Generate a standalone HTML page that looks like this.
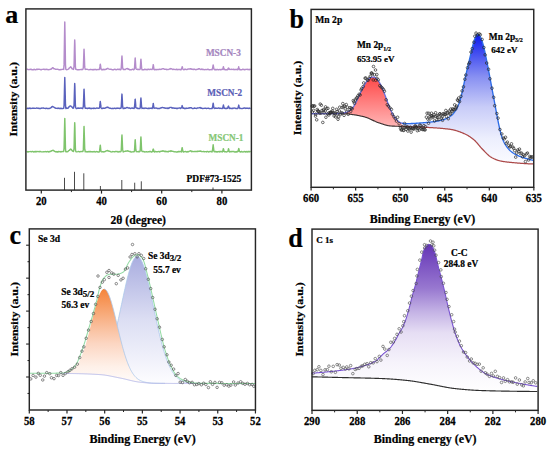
<!DOCTYPE html>
<html><head><meta charset="utf-8"><style>
html,body{margin:0;padding:0;background:#fff;width:550px;height:451px;overflow:hidden}
svg{display:block}
</style></head><body>
<svg width="550" height="451" viewBox="0 0 550 451">
<rect width="550" height="451" fill="#fff"/>
<defs><linearGradient id="gr" x1="0" y1="77" x2="0" y2="126" gradientUnits="userSpaceOnUse"><stop offset="0" stop-color="#ff4848"/><stop offset="1" stop-color="#ffb4b4"/></linearGradient><linearGradient id="gbl" x1="0" y1="34" x2="0" y2="164" gradientUnits="userSpaceOnUse"><stop offset="0" stop-color="#0a18ee"/><stop offset="0.33" stop-color="#8890f2"/><stop offset="0.56" stop-color="#c8ccf8"/><stop offset="0.8" stop-color="#eceefd"/><stop offset="1" stop-color="#fbfbff"/></linearGradient><linearGradient id="gor" x1="0" y1="289" x2="0" y2="380" gradientUnits="userSpaceOnUse"><stop offset="0" stop-color="#f5843a"/><stop offset="0.4" stop-color="#f9bc98"/><stop offset="0.6" stop-color="#fcd6c2"/><stop offset="0.85" stop-color="#fef0e8"/><stop offset="1" stop-color="#fffaf7"/></linearGradient><linearGradient id="glav" x1="0" y1="255" x2="0" y2="384" gradientUnits="userSpaceOnUse"><stop offset="0" stop-color="#a8acdf"/><stop offset="0.5" stop-color="#dcdef3"/><stop offset="1" stop-color="#fdfdff"/></linearGradient><linearGradient id="gpur" x1="0" y1="244" x2="0" y2="392" gradientUnits="userSpaceOnUse"><stop offset="0" stop-color="#6434b6"/><stop offset="0.3" stop-color="#9878d0"/><stop offset="0.45" stop-color="#c2b0e4"/><stop offset="0.6" stop-color="#e6def4"/><stop offset="0.8" stop-color="#f6f3fb"/><stop offset="1" stop-color="#ffffff"/></linearGradient></defs>
<path d="M26.60 69.28 L27.30 69.16 L28.00 69.47 L28.70 69.66 L29.40 69.44 L30.10 69.49 L30.80 69.16 L31.50 69.49 L32.20 69.81 L32.90 69.75 L33.60 69.66 L34.30 69.23 L35.00 69.78 L35.70 69.75 L36.40 69.27 L37.10 69.59 L37.80 69.16 L38.50 69.23 L39.20 69.37 L39.90 69.26 L40.60 69.68 L41.30 69.72 L42.00 69.39 L42.70 69.37 L43.40 69.23 L44.10 69.21 L44.80 69.65 L45.50 69.57 L46.20 69.19 L46.90 69.49 L47.60 69.43 L48.30 69.74 L49.00 69.64 L49.70 69.51 L50.40 69.30 L51.10 69.18 L51.80 68.66 L52.50 67.82 L53.20 67.83 L53.90 68.71 L54.60 68.71 L55.30 69.24 L56.00 69.16 L56.70 69.37 L57.40 69.20 L58.10 69.35 L58.80 69.70 L59.50 69.78 L60.20 69.70 L60.90 69.54 L61.60 69.58 L62.30 69.40 L63.00 69.27 L63.58 69.39 L63.70 69.43 L64.08 64.13 L64.40 44.57 L64.43 42.51 L64.78 21.96 L65.10 40.19 L65.13 42.83 L65.48 64.87 L65.80 69.04 L65.98 69.34 L66.50 69.70 L67.20 69.63 L67.90 69.36 L68.60 68.97 L69.30 68.02 L70.00 67.43 L70.70 66.82 L71.40 67.71 L72.10 68.75 L72.80 68.97 L73.50 69.43 L73.51 69.26 L74.01 66.32 L74.20 60.19 L74.36 52.22 L74.71 39.88 L74.90 44.17 L75.06 52.55 L75.41 66.51 L75.60 68.65 L75.91 69.37 L76.30 69.27 L77.00 69.71 L77.70 69.73 L78.40 69.66 L79.10 69.76 L79.80 69.60 L80.50 69.64 L81.20 69.29 L81.90 69.69 L82.60 69.38 L82.84 69.43 L83.30 67.76 L83.34 67.45 L83.69 58.17 L84.00 49.52 L84.04 49.17 L84.39 57.72 L84.70 66.97 L84.74 67.20 L85.24 69.43 L85.40 69.21 L86.10 69.36 L86.80 69.21 L87.50 69.39 L88.20 69.65 L88.90 69.83 L89.60 69.59 L90.30 69.34 L91.00 69.61 L91.70 69.59 L92.40 69.73 L93.10 69.52 L93.80 69.79 L94.50 69.44 L95.20 69.35 L95.90 69.51 L96.60 69.80 L97.30 69.66 L98.00 69.50 L98.70 69.50 L99.10 69.60 L99.40 69.33 L99.60 68.94 L99.95 66.66 L100.10 65.19 L100.30 64.24 L100.65 66.15 L100.80 67.83 L101.00 68.84 L101.50 69.78 L102.20 69.37 L102.90 69.80 L103.60 69.31 L104.30 69.42 L105.00 69.71 L105.70 69.25 L106.40 69.16 L107.10 68.59 L107.80 68.34 L108.50 68.93 L109.20 69.14 L109.90 69.36 L110.60 69.21 L111.30 69.24 L112.00 69.80 L112.70 69.82 L113.40 69.83 L114.10 69.40 L114.80 69.18 L115.50 69.54 L116.20 69.67 L116.90 69.60 L117.60 69.19 L118.30 69.31 L119.00 69.64 L119.70 69.19 L120.40 69.74 L120.77 69.82 L121.10 68.90 L121.27 67.75 L121.62 62.09 L121.80 57.83 L121.97 55.97 L122.32 61.84 L122.50 66.11 L122.67 67.99 L123.17 69.17 L123.20 69.56 L123.90 69.35 L124.60 69.55 L125.30 69.58 L126.00 68.94 L126.70 68.66 L127.40 68.51 L128.10 69.24 L128.80 68.95 L129.50 69.72 L130.20 69.62 L130.90 69.78 L131.60 69.72 L132.30 69.28 L133.00 69.27 L133.70 69.82 L134.01 69.34 L134.40 69.16 L134.51 68.09 L134.86 62.96 L135.10 58.95 L135.21 58.02 L135.56 63.20 L135.80 67.46 L135.91 68.17 L136.41 69.34 L136.50 69.16 L137.20 69.45 L137.90 69.20 L138.60 69.55 L139.30 69.63 L139.73 69.53 L140.00 69.37 L140.23 68.46 L140.58 63.76 L140.70 61.23 L140.93 59.15 L141.28 63.34 L141.40 65.39 L141.63 68.18 L142.10 69.69 L142.13 69.30 L142.80 69.69 L143.50 69.78 L144.20 69.53 L144.90 69.25 L145.60 69.59 L146.30 69.42 L147.00 69.79 L147.70 69.31 L148.40 69.31 L149.10 69.49 L149.80 69.50 L150.50 69.28 L151.20 69.41 L151.90 69.62 L152.07 69.47 L152.57 68.72 L152.60 68.87 L152.92 66.89 L153.27 64.96 L153.30 64.68 L153.62 66.76 L153.97 69.33 L154.00 69.37 L154.47 69.80 L154.70 69.68 L155.40 69.45 L156.10 69.81 L156.80 69.36 L157.50 69.57 L158.20 69.56 L158.90 69.46 L159.60 69.32 L160.30 69.34 L161.00 69.47 L161.70 69.03 L162.40 68.83 L163.10 68.70 L163.80 68.76 L164.50 69.34 L165.20 69.36 L165.90 69.11 L166.60 69.65 L167.30 69.49 L168.00 69.64 L168.70 69.33 L169.40 68.99 L170.10 69.13 L170.80 68.57 L171.50 68.78 L172.20 69.16 L172.90 69.62 L173.60 69.19 L174.30 69.38 L175.00 69.52 L175.70 69.62 L176.40 69.22 L177.10 69.68 L177.80 69.54 L178.50 69.51 L179.20 69.42 L179.90 69.37 L180.60 69.77 L180.97 69.84 L181.30 69.18 L181.47 68.98 L181.82 67.90 L182.00 67.05 L182.17 66.73 L182.52 67.66 L182.70 68.48 L182.87 68.89 L183.37 69.41 L183.40 69.54 L184.10 69.76 L184.80 69.17 L185.50 69.21 L186.20 69.61 L186.90 69.61 L187.60 69.19 L188.30 69.07 L189.00 68.83 L189.70 69.07 L190.40 68.75 L191.10 68.84 L191.80 69.34 L192.50 69.12 L193.20 69.49 L193.90 69.21 L194.60 69.19 L195.30 69.62 L196.00 69.69 L196.70 69.42 L197.40 69.27 L198.10 69.28 L198.80 68.66 L199.50 68.75 L200.20 69.32 L200.90 69.56 L201.60 69.08 L202.30 69.12 L203.00 69.68 L203.70 69.47 L204.40 69.68 L205.10 69.60 L205.80 69.46 L206.50 69.65 L207.20 69.57 L207.90 69.16 L208.60 69.48 L209.30 69.77 L210.00 69.70 L210.70 69.61 L211.40 69.59 L211.97 69.72 L212.10 69.33 L212.47 68.95 L212.80 67.20 L212.82 67.17 L213.17 64.87 L213.50 66.53 L213.52 66.77 L213.87 68.98 L214.20 69.18 L214.37 69.58 L214.90 69.78 L215.60 69.39 L216.30 69.82 L217.00 69.44 L217.70 69.53 L218.40 69.83 L219.10 69.65 L219.80 69.50 L220.50 69.68 L221.20 69.48 L221.90 69.66 L222.20 69.30 L222.60 69.08 L222.70 69.31 L223.05 68.11 L223.30 67.10 L223.40 66.73 L223.75 68.36 L224.00 68.74 L224.10 69.56 L224.60 69.37 L224.70 69.35 L225.40 69.81 L226.10 69.82 L226.80 69.64 L227.32 69.82 L227.50 69.26 L227.82 69.59 L228.17 68.73 L228.20 68.43 L228.52 68.07 L228.87 68.37 L228.90 68.93 L229.22 69.44 L229.60 69.22 L229.72 69.30 L230.30 69.35 L231.00 69.48 L231.70 69.31 L232.40 69.36 L233.10 69.54 L233.80 69.25 L234.50 69.68 L235.20 69.47 L235.90 69.43 L236.60 69.55 L237.30 69.26 L237.56 69.77 L238.00 69.05 L238.06 69.26 L238.41 68.38 L238.70 66.78 L238.76 67.14 L239.11 68.43 L239.40 69.47 L239.46 69.14 L239.96 69.58 L240.10 69.81 L240.80 69.59 L241.50 69.76 L242.20 69.64 L242.90 69.18 L243.60 69.39 L244.30 69.78 L245.00 69.48 L245.70 69.45 L246.40 69.36 L247.10 69.26 L247.80 69.62 L248.50 69.43 L249.20 69.77 L249.90 69.18 L250.60 69.76" fill="none" stroke="#b48ccb" stroke-width="1.45" stroke-linejoin="round"/>
<path d="M26.60 108.01 L27.30 108.53 L28.00 108.27 L28.70 108.47 L29.40 108.27 L30.10 108.06 L30.80 108.61 L31.50 108.40 L32.20 108.10 L32.90 108.37 L33.60 108.10 L34.30 108.23 L35.00 108.37 L35.70 108.38 L36.40 108.03 L37.10 108.08 L37.80 108.27 L38.50 108.31 L39.20 108.55 L39.90 108.35 L40.60 108.52 L41.30 108.21 L42.00 108.08 L42.70 108.15 L43.40 107.97 L44.10 108.20 L44.80 108.39 L45.50 108.54 L46.20 108.11 L46.90 108.44 L47.60 108.48 L48.30 108.43 L49.00 108.61 L49.70 108.29 L50.40 108.02 L51.10 107.70 L51.80 106.77 L52.50 106.39 L53.20 106.81 L53.90 107.21 L54.60 107.56 L55.30 108.03 L56.00 108.36 L56.70 108.31 L57.40 108.23 L58.10 108.49 L58.80 107.99 L59.50 108.57 L60.20 108.43 L60.90 108.24 L61.60 108.43 L62.30 108.61 L63.00 108.41 L63.58 108.38 L63.70 108.29 L64.08 105.33 L64.40 92.75 L64.43 90.65 L64.78 77.47 L65.10 89.20 L65.13 90.94 L65.48 104.95 L65.80 108.02 L65.98 108.56 L66.50 108.07 L67.20 108.16 L67.90 108.28 L68.60 107.30 L69.30 106.62 L70.00 105.95 L70.70 105.93 L71.40 106.59 L72.10 107.06 L72.80 108.20 L73.50 108.11 L73.51 107.90 L74.01 105.46 L74.20 100.85 L74.36 94.59 L74.71 83.49 L74.90 87.31 L75.06 94.50 L75.41 105.93 L75.60 107.44 L75.91 107.96 L76.30 108.41 L77.00 108.51 L77.70 107.98 L78.40 108.32 L79.10 108.05 L79.80 108.37 L80.50 108.03 L81.20 108.04 L81.90 108.33 L82.60 108.61 L82.84 107.95 L83.30 106.50 L83.34 106.11 L83.69 97.76 L84.00 89.27 L84.04 89.14 L84.39 97.35 L84.70 105.95 L84.74 106.12 L85.24 108.25 L85.40 108.28 L86.10 108.30 L86.80 108.26 L87.50 108.51 L88.20 108.09 L88.90 108.30 L89.60 108.04 L90.30 108.56 L91.00 108.25 L91.70 108.65 L92.40 108.41 L93.10 108.09 L93.80 108.60 L94.50 108.16 L95.20 108.40 L95.90 108.49 L96.60 108.02 L97.30 108.08 L98.00 108.25 L98.70 108.20 L99.10 108.16 L99.40 107.97 L99.60 107.47 L99.95 104.71 L100.10 102.57 L100.30 101.47 L100.65 104.30 L100.80 105.96 L101.00 107.43 L101.50 108.56 L102.20 108.57 L102.90 108.07 L103.60 108.22 L104.30 108.33 L105.00 108.23 L105.70 107.77 L106.40 107.35 L107.10 107.57 L107.80 107.07 L108.50 107.51 L109.20 108.11 L109.90 108.29 L110.60 108.20 L111.30 108.50 L112.00 108.64 L112.70 108.29 L113.40 108.57 L114.10 108.31 L114.80 108.22 L115.50 108.64 L116.20 108.49 L116.90 108.04 L117.60 108.33 L118.30 108.22 L119.00 108.30 L119.70 108.48 L120.40 108.19 L120.77 108.35 L121.10 107.67 L121.27 106.75 L121.62 100.49 L121.80 96.08 L121.97 94.10 L122.32 100.16 L122.50 104.53 L122.67 106.81 L123.17 108.62 L123.20 108.14 L123.90 108.57 L124.60 108.03 L125.30 108.28 L126.00 108.09 L126.70 107.42 L127.40 107.58 L128.10 107.96 L128.80 107.99 L129.50 107.93 L130.20 108.46 L130.90 108.29 L131.60 108.08 L132.30 107.99 L133.00 108.31 L133.70 108.15 L134.01 108.51 L134.40 107.61 L134.51 106.99 L134.86 103.32 L135.10 99.46 L135.21 99.25 L135.56 103.02 L135.80 106.67 L135.91 107.61 L136.41 108.00 L136.50 108.14 L137.20 108.08 L137.90 108.62 L138.60 108.44 L139.30 108.60 L139.73 108.63 L140.00 108.31 L140.23 107.46 L140.58 102.64 L140.70 100.16 L140.93 98.02 L141.28 102.63 L141.40 104.46 L141.63 106.99 L142.10 108.40 L142.13 107.97 L142.80 108.17 L143.50 108.21 L144.20 108.51 L144.90 107.97 L145.60 108.18 L146.30 108.16 L147.00 108.41 L147.70 108.56 L148.40 108.29 L149.10 108.54 L149.80 108.25 L150.50 108.30 L151.20 108.17 L151.90 108.09 L152.07 108.57 L152.57 107.90 L152.60 107.57 L152.92 105.78 L153.27 103.73 L153.30 103.49 L153.62 105.86 L153.97 108.08 L154.00 107.98 L154.47 108.05 L154.70 108.24 L155.40 108.09 L156.10 108.07 L156.80 108.16 L157.50 108.58 L158.20 108.54 L158.90 108.50 L159.60 108.59 L160.30 107.99 L161.00 107.97 L161.70 107.66 L162.40 107.39 L163.10 107.70 L163.80 107.62 L164.50 107.95 L165.20 108.38 L165.90 108.09 L166.60 108.11 L167.30 108.51 L168.00 107.91 L168.70 108.43 L169.40 107.81 L170.10 107.36 L170.80 107.40 L171.50 107.44 L172.20 108.21 L172.90 107.85 L173.60 107.95 L174.30 108.37 L175.00 108.10 L175.70 108.18 L176.40 108.50 L177.10 108.25 L177.80 108.46 L178.50 108.15 L179.20 108.04 L179.90 108.00 L180.60 108.54 L180.97 108.03 L181.30 107.92 L181.47 107.77 L181.82 106.77 L182.00 106.06 L182.17 105.60 L182.52 106.86 L182.70 107.56 L182.87 108.19 L183.37 108.37 L183.40 108.07 L184.10 108.19 L184.80 108.65 L185.50 108.26 L186.20 108.42 L186.90 108.06 L187.60 108.37 L188.30 108.29 L189.00 107.73 L189.70 108.08 L190.40 107.63 L191.10 107.71 L191.80 108.15 L192.50 108.48 L193.20 108.50 L193.90 108.34 L194.60 107.99 L195.30 108.29 L196.00 108.37 L196.70 108.48 L197.40 107.93 L198.10 107.92 L198.80 107.85 L199.50 107.84 L200.20 107.52 L200.90 108.31 L201.60 107.93 L202.30 108.52 L203.00 108.55 L203.70 108.38 L204.40 108.33 L205.10 108.19 L205.80 108.22 L206.50 108.60 L207.20 108.41 L207.90 108.28 L208.60 108.20 L209.30 108.65 L210.00 108.61 L210.70 108.60 L211.40 108.60 L211.97 108.19 L212.10 108.51 L212.47 107.87 L212.80 105.72 L212.82 105.40 L213.17 103.13 L213.50 105.22 L213.52 105.27 L213.87 107.86 L214.20 107.96 L214.37 108.21 L214.90 108.51 L215.60 108.02 L216.30 108.18 L217.00 108.39 L217.70 108.27 L218.40 108.00 L219.10 108.07 L219.80 108.42 L220.50 108.33 L221.20 108.36 L221.90 108.58 L222.20 108.60 L222.60 108.00 L222.70 108.26 L223.05 106.63 L223.30 105.55 L223.40 105.02 L223.75 106.49 L224.00 108.02 L224.10 108.28 L224.60 108.24 L224.70 108.12 L225.40 108.62 L226.10 108.30 L226.80 108.61 L227.32 107.97 L227.50 108.35 L227.82 107.89 L228.17 106.54 L228.20 106.74 L228.52 106.11 L228.87 106.84 L228.90 106.80 L229.22 108.17 L229.60 108.55 L229.72 108.48 L230.30 108.13 L231.00 108.49 L231.70 108.49 L232.40 108.27 L233.10 108.48 L233.80 107.98 L234.50 108.09 L235.20 108.22 L235.90 108.60 L236.60 108.44 L237.30 108.42 L237.56 108.52 L238.00 108.24 L238.06 107.67 L238.41 106.84 L238.70 105.53 L238.76 105.10 L239.11 106.68 L239.40 107.82 L239.46 107.66 L239.96 108.51 L240.10 108.19 L240.80 108.39 L241.50 108.52 L242.20 108.60 L242.90 108.32 L243.60 108.26 L244.30 107.96 L245.00 108.03 L245.70 108.46 L246.40 108.08 L247.10 108.32 L247.80 108.07 L248.50 108.51 L249.20 108.10 L249.90 108.49 L250.60 108.26" fill="none" stroke="#5a62bd" stroke-width="1.45" stroke-linejoin="round"/>
<path d="M26.60 151.87 L27.30 151.60 L28.00 152.03 L28.70 151.70 L29.40 151.63 L30.10 151.64 L30.80 151.56 L31.50 151.82 L32.20 151.47 L32.90 151.46 L33.60 152.02 L34.30 151.50 L35.00 151.92 L35.70 151.41 L36.40 151.77 L37.10 151.42 L37.80 151.60 L38.50 151.58 L39.20 151.78 L39.90 151.35 L40.60 151.54 L41.30 151.88 L42.00 151.88 L42.70 151.90 L43.40 151.75 L44.10 151.88 L44.80 151.65 L45.50 151.57 L46.20 151.92 L46.90 151.63 L47.60 151.44 L48.30 152.02 L49.00 151.43 L49.70 151.82 L50.40 151.26 L51.10 151.32 L51.80 150.61 L52.50 150.44 L53.20 150.29 L53.90 150.94 L54.60 151.22 L55.30 151.81 L56.00 151.60 L56.70 151.99 L57.40 151.80 L58.10 151.99 L58.80 151.38 L59.50 151.61 L60.20 151.98 L60.90 151.54 L61.60 151.73 L62.30 151.64 L63.00 151.36 L63.58 151.33 L63.70 151.53 L64.08 148.10 L64.40 134.90 L64.43 132.71 L64.78 118.56 L65.10 131.00 L65.13 133.01 L65.48 148.61 L65.80 151.71 L65.98 151.68 L66.50 151.70 L67.20 151.73 L67.90 151.62 L68.60 150.64 L69.30 150.43 L70.00 149.58 L70.70 149.11 L71.40 149.63 L72.10 150.66 L72.80 151.29 L73.50 151.42 L73.51 151.29 L74.01 148.79 L74.20 143.24 L74.36 135.38 L74.71 122.65 L74.90 127.12 L75.06 134.96 L75.41 148.94 L75.60 150.76 L75.91 151.56 L76.30 151.80 L77.00 151.87 L77.70 151.67 L78.40 151.45 L79.10 151.64 L79.80 151.92 L80.50 151.55 L81.20 151.64 L81.90 151.54 L82.60 151.61 L82.84 151.55 L83.30 149.68 L83.34 149.32 L83.69 137.71 L84.00 126.57 L84.04 126.42 L84.39 137.20 L84.70 148.39 L84.74 149.18 L85.24 151.83 L85.40 151.50 L86.10 151.51 L86.80 152.04 L87.50 151.76 L88.20 151.88 L88.90 151.49 L89.60 151.78 L90.30 151.56 L91.00 151.69 L91.70 151.66 L92.40 151.95 L93.10 151.60 L93.80 151.87 L94.50 151.57 L95.20 151.77 L95.90 151.95 L96.60 151.51 L97.30 151.64 L98.00 152.03 L98.70 151.93 L99.10 151.96 L99.40 151.61 L99.60 150.93 L99.95 147.81 L100.10 146.67 L100.30 145.13 L100.65 148.46 L100.80 150.04 L101.00 151.37 L101.50 151.89 L102.20 151.81 L102.90 151.62 L103.60 151.93 L104.30 151.73 L105.00 151.60 L105.70 151.13 L106.40 150.79 L107.10 150.88 L107.80 150.47 L108.50 151.13 L109.20 151.28 L109.90 151.30 L110.60 151.71 L111.30 151.90 L112.00 152.04 L112.70 151.52 L113.40 151.62 L114.10 151.69 L114.80 151.69 L115.50 151.52 L116.20 151.58 L116.90 151.41 L117.60 151.75 L118.30 152.05 L119.00 151.44 L119.70 151.85 L120.40 151.72 L120.77 151.56 L121.10 151.06 L121.27 150.26 L121.62 141.85 L121.80 137.09 L121.97 135.03 L122.32 142.56 L122.50 146.94 L122.67 149.63 L123.17 151.94 L123.20 151.56 L123.90 151.62 L124.60 151.35 L125.30 151.28 L126.00 151.04 L126.70 151.16 L127.40 150.77 L128.10 150.99 L128.80 151.38 L129.50 151.54 L130.20 151.36 L130.90 152.04 L131.60 151.94 L132.30 151.89 L133.00 151.84 L133.70 151.63 L134.01 151.80 L134.40 151.35 L134.51 150.59 L134.86 145.12 L135.10 140.47 L135.21 139.76 L135.56 145.05 L135.80 149.43 L135.91 150.29 L136.41 151.69 L136.50 151.41 L137.20 151.64 L137.90 151.80 L138.60 151.50 L139.30 151.75 L139.73 151.56 L140.00 151.24 L140.23 150.05 L140.58 143.36 L140.70 140.09 L140.93 136.86 L141.28 143.43 L141.40 146.41 L141.63 150.19 L142.10 151.40 L142.13 151.34 L142.80 151.61 L143.50 151.43 L144.20 151.81 L144.90 151.95 L145.60 151.87 L146.30 151.66 L147.00 151.94 L147.70 151.85 L148.40 151.71 L149.10 151.77 L149.80 151.48 L150.50 151.36 L151.20 151.99 L151.90 152.03 L152.07 151.70 L152.57 151.46 L152.60 151.55 L152.92 149.83 L153.27 149.05 L153.30 149.12 L153.62 149.91 L153.97 151.45 L154.00 151.67 L154.47 152.01 L154.70 151.64 L155.40 151.46 L156.10 151.86 L156.80 151.78 L157.50 151.69 L158.20 151.62 L158.90 151.37 L159.60 151.99 L160.30 151.58 L161.00 151.25 L161.70 151.10 L162.40 151.20 L163.10 150.68 L163.80 151.27 L164.50 151.48 L165.20 151.18 L165.90 151.74 L166.60 151.55 L167.30 151.54 L168.00 151.90 L168.70 151.23 L169.40 151.26 L170.10 151.41 L170.80 150.71 L171.50 151.21 L172.20 151.20 L172.90 151.37 L173.60 151.55 L174.30 151.84 L175.00 151.64 L175.70 151.85 L176.40 151.99 L177.10 151.99 L177.80 151.73 L178.50 151.53 L179.20 151.79 L179.90 151.41 L180.60 151.59 L180.97 151.56 L181.30 151.89 L181.47 151.31 L181.82 149.33 L182.00 148.03 L182.17 147.72 L182.52 149.46 L182.70 150.86 L182.87 151.28 L183.37 152.03 L183.40 151.38 L184.10 151.78 L184.80 151.65 L185.50 151.56 L186.20 151.69 L186.90 152.04 L187.60 151.58 L188.30 151.86 L189.00 151.39 L189.70 151.09 L190.40 150.80 L191.10 150.93 L191.80 151.68 L192.50 151.33 L193.20 151.52 L193.90 151.60 L194.60 151.40 L195.30 151.49 L196.00 151.49 L196.70 151.59 L197.40 151.28 L198.10 151.42 L198.80 151.13 L199.50 151.24 L200.20 151.03 L200.90 151.27 L201.60 151.57 L202.30 151.60 L203.00 151.57 L203.70 151.45 L204.40 151.70 L205.10 151.61 L205.80 151.62 L206.50 151.91 L207.20 151.39 L207.90 151.48 L208.60 152.02 L209.30 151.59 L210.00 151.39 L210.70 151.51 L211.40 151.40 L211.97 152.02 L212.10 151.53 L212.47 150.73 L212.80 147.70 L212.82 147.95 L213.17 144.74 L213.50 147.72 L213.52 147.62 L213.87 150.90 L214.20 151.66 L214.37 151.78 L214.90 151.71 L215.60 151.53 L216.30 151.74 L217.00 152.01 L217.70 151.74 L218.40 151.66 L219.10 151.40 L219.80 152.04 L220.50 151.36 L221.20 151.35 L221.90 151.58 L222.20 151.99 L222.60 151.44 L222.70 151.68 L223.05 150.28 L223.30 148.74 L223.40 148.74 L223.75 149.88 L224.00 151.37 L224.10 151.51 L224.60 151.83 L224.70 151.78 L225.40 151.79 L226.10 151.84 L226.80 151.96 L227.32 151.55 L227.50 151.44 L227.82 151.27 L228.17 150.20 L228.20 150.09 L228.52 148.64 L228.87 150.02 L228.90 150.35 L229.22 151.57 L229.60 151.88 L229.72 151.71 L230.30 151.81 L231.00 151.44 L231.70 151.72 L232.40 151.36 L233.10 151.67 L233.80 151.42 L234.50 151.97 L235.20 151.94 L235.90 151.77 L236.60 152.00 L237.30 151.44 L237.56 151.83 L238.00 151.39 L238.06 151.47 L238.41 149.87 L238.70 148.55 L238.76 148.51 L239.11 149.76 L239.40 151.47 L239.46 151.29 L239.96 151.85 L240.10 151.72 L240.80 151.95 L241.50 151.46 L242.20 151.88 L242.90 151.94 L243.60 151.85 L244.30 151.46 L245.00 151.80 L245.70 151.93 L246.40 151.47 L247.10 152.03 L247.80 151.57 L248.50 151.47 L249.20 151.80 L249.90 151.37 L250.60 151.77" fill="none" stroke="#7fc46c" stroke-width="1.45" stroke-linejoin="round"/>
<line x1="64.50" y1="177.80" x2="64.50" y2="190.10" stroke="#4a4a4a" stroke-width="1.00"/>
<line x1="74.50" y1="171.80" x2="74.50" y2="190.10" stroke="#4a4a4a" stroke-width="1.00"/>
<line x1="83.80" y1="173.30" x2="83.80" y2="190.10" stroke="#4a4a4a" stroke-width="1.00"/>
<line x1="100.40" y1="186.00" x2="100.40" y2="190.10" stroke="#4a4a4a" stroke-width="1.00"/>
<line x1="121.80" y1="180.00" x2="121.80" y2="190.10" stroke="#4a4a4a" stroke-width="1.00"/>
<line x1="134.70" y1="182.70" x2="134.70" y2="190.10" stroke="#4a4a4a" stroke-width="1.00"/>
<line x1="141.30" y1="181.30" x2="141.30" y2="190.10" stroke="#4a4a4a" stroke-width="1.00"/>
<line x1="213.00" y1="187.50" x2="213.00" y2="190.10" stroke="#4a4a4a" stroke-width="1.00"/>
<rect x="25.90" y="8.90" width="225.50" height="181.20" fill="none" stroke="#262626" stroke-width="1.45"/>
<line x1="41.30" y1="190.10" x2="41.30" y2="193.60" stroke="#262626" stroke-width="1.20"/>
<text transform="translate(41.30 204.80) scale(1.000 1.170)" text-anchor="middle" style="font-family:'Liberation Serif',serif;font-weight:bold;font-size:10.75px;fill:#000;stroke:#000;stroke-width:0.22px">20</text>
<line x1="101.50" y1="190.10" x2="101.50" y2="193.60" stroke="#262626" stroke-width="1.20"/>
<text transform="translate(101.50 204.80) scale(1.000 1.170)" text-anchor="middle" style="font-family:'Liberation Serif',serif;font-weight:bold;font-size:10.75px;fill:#000;stroke:#000;stroke-width:0.22px">40</text>
<line x1="161.70" y1="190.10" x2="161.70" y2="193.60" stroke="#262626" stroke-width="1.20"/>
<text transform="translate(161.70 204.80) scale(1.000 1.170)" text-anchor="middle" style="font-family:'Liberation Serif',serif;font-weight:bold;font-size:10.75px;fill:#000;stroke:#000;stroke-width:0.22px">60</text>
<line x1="221.90" y1="190.10" x2="221.90" y2="193.60" stroke="#262626" stroke-width="1.20"/>
<text transform="translate(221.90 204.80) scale(1.000 1.170)" text-anchor="middle" style="font-family:'Liberation Serif',serif;font-weight:bold;font-size:10.75px;fill:#000;stroke:#000;stroke-width:0.22px">80</text>
<line x1="71.40" y1="190.10" x2="71.40" y2="192.10" stroke="#262626" stroke-width="1.00"/>
<line x1="131.60" y1="190.10" x2="131.60" y2="192.10" stroke="#262626" stroke-width="1.00"/>
<line x1="191.80" y1="190.10" x2="191.80" y2="192.10" stroke="#262626" stroke-width="1.00"/>
<text transform="translate(5.30 23.30)" style="font-family:'Liberation Serif',serif;font-weight:bold;font-size:26.00px;fill:#000;stroke:#000;stroke-width:0.22px">a</text>
<text transform="translate(138.20 224.00) scale(1.000 1.080)" text-anchor="middle" style="font-family:'Liberation Serif',serif;font-weight:bold;font-size:11.70px;fill:#000;stroke:#000;stroke-width:0.22px">2θ (degree)</text>
<text transform="translate(17.30 99.30) rotate(-90) scale(1.083 1.000)" text-anchor="middle" style="font-family:'Liberation Serif',serif;font-weight:bold;font-size:11.00px;fill:#000;stroke:#000;stroke-width:0.22px">Intensity (a.u.)</text>
<text transform="translate(205.90 56.30) scale(1.000 1.050)" style="font-family:'Liberation Serif',serif;font-weight:bold;font-size:9.25px;fill:#a586c0;stroke:#a586c0;stroke-width:0.22px">MSCN-3</text>
<text transform="translate(207.30 96.30) scale(1.000 1.050)" style="font-family:'Liberation Serif',serif;font-weight:bold;font-size:9.25px;fill:#5b60b6;stroke:#5b60b6;stroke-width:0.22px">MSCN-2</text>
<text transform="translate(208.60 141.40) scale(1.000 1.050)" style="font-family:'Liberation Serif',serif;font-weight:bold;font-size:9.25px;fill:#86c776;stroke:#86c776;stroke-width:0.22px">MSCN-1</text>
<text transform="translate(186.50 182.40) scale(1.000 1.030)" style="font-family:'Liberation Serif',serif;font-weight:bold;font-size:9.50px;fill:#000;stroke:#000;stroke-width:0.22px">PDF#73-1525</text>
<path d="M338.00 113.50 L338.50 113.48 L339.00 113.46 L339.50 113.44 L340.00 113.41 L340.50 113.37 L341.00 113.32 L341.50 113.26 L342.00 113.20 L342.50 113.13 L343.00 113.04 L343.50 112.95 L344.00 112.84 L344.50 112.72 L345.00 112.58 L345.50 112.43 L346.00 112.27 L346.50 112.11 L347.00 111.93 L347.50 111.73 L348.00 111.51 L348.50 111.27 L349.00 111.01 L349.50 110.71 L350.00 110.37 L350.50 109.99 L351.00 109.57 L351.50 109.09 L352.00 108.56 L352.50 107.97 L353.00 107.32 L353.50 106.62 L354.00 105.86 L354.50 105.05 L355.00 104.20 L355.50 103.29 L356.00 102.35 L356.50 101.36 L357.00 100.35 L357.50 99.31 L358.00 98.25 L358.50 97.17 L359.00 96.08 L359.50 94.99 L360.00 93.90 L360.50 92.82 L361.00 91.75 L361.50 90.69 L362.00 89.66 L362.50 88.66 L363.00 87.68 L363.50 86.73 L364.00 85.82 L364.50 84.93 L365.00 84.08 L365.50 83.26 L366.00 82.48 L366.50 81.75 L367.00 81.07 L367.50 80.43 L368.00 79.84 L368.50 79.30 L369.00 78.82 L369.50 78.39 L370.00 78.02 L370.50 77.71 L371.00 77.45 L371.50 77.26 L372.00 77.12 L372.50 77.05 L373.00 77.04 L373.50 77.09 L374.00 77.21 L374.50 77.39 L375.00 77.64 L375.50 77.95 L376.00 78.34 L376.50 78.78 L377.00 79.29 L377.50 79.85 L378.00 80.47 L378.50 81.14 L379.00 81.86 L379.50 82.65 L380.00 83.50 L380.50 84.40 L381.00 85.37 L381.50 86.39 L382.00 87.48 L382.50 88.63 L383.00 89.83 L383.50 91.09 L384.00 92.40 L384.50 93.74 L385.00 95.12 L385.50 96.51 L386.00 97.91 L386.50 99.31 L387.00 100.69 L387.50 102.06 L388.00 103.41 L388.50 104.72 L389.00 106.00 L389.50 107.24 L390.00 108.44 L390.50 109.59 L391.00 110.69 L391.50 111.75 L392.00 112.76 L392.50 113.72 L393.00 114.62 L393.50 115.48 L394.00 116.29 L394.50 117.04 L395.00 117.74 L395.50 118.39 L396.00 119.00 L396.50 119.55 L397.00 120.07 L397.50 120.54 L398.00 120.97 L398.50 121.36 L399.00 121.72 L399.50 122.04 L400.00 122.33 L400.50 122.58 L401.00 122.81 L401.50 123.01 L402.00 123.18 L402.50 123.33 L402.50 126.46 L402.00 126.44 L401.50 126.42 L401.00 126.40 L400.50 126.38 L400.00 126.36 L399.50 126.35 L399.00 126.33 L398.50 126.32 L398.00 126.30 L397.50 126.28 L397.00 126.27 L396.50 126.25 L396.00 126.24 L395.50 126.22 L395.00 126.20 L394.50 126.18 L394.00 126.16 L393.50 126.14 L393.00 126.12 L392.50 126.09 L392.00 126.07 L391.50 126.04 L391.00 126.01 L390.50 125.97 L390.00 125.92 L389.50 125.86 L389.00 125.78 L388.50 125.70 L388.00 125.60 L387.50 125.50 L387.00 125.38 L386.50 125.26 L386.00 125.13 L385.50 124.99 L385.00 124.85 L384.50 124.70 L384.00 124.55 L383.50 124.39 L383.00 124.22 L382.50 124.06 L382.00 123.89 L381.50 123.72 L381.00 123.55 L380.50 123.38 L380.00 123.21 L379.50 123.04 L379.00 122.87 L378.50 122.70 L378.00 122.53 L377.50 122.36 L377.00 122.17 L376.50 121.97 L376.00 121.76 L375.50 121.55 L375.00 121.32 L374.50 121.09 L374.00 120.86 L373.50 120.62 L373.00 120.38 L372.50 120.13 L372.00 119.89 L371.50 119.64 L371.00 119.40 L370.50 119.17 L370.00 118.93 L369.50 118.70 L369.00 118.48 L368.50 118.27 L368.00 118.06 L367.50 117.86 L367.00 117.68 L366.50 117.50 L366.00 117.35 L365.50 117.20 L365.00 117.06 L364.50 116.93 L364.00 116.80 L363.50 116.67 L363.00 116.55 L362.50 116.43 L362.00 116.31 L361.50 116.19 L361.00 116.08 L360.50 115.97 L360.00 115.86 L359.50 115.76 L359.00 115.65 L358.50 115.55 L358.00 115.46 L357.50 115.36 L357.00 115.27 L356.50 115.18 L356.00 115.10 L355.50 115.02 L355.00 114.94 L354.50 114.86 L354.00 114.78 L353.50 114.71 L353.00 114.64 L352.50 114.57 L352.00 114.50 L351.50 114.44 L351.00 114.37 L350.50 114.30 L350.00 114.23 L349.50 114.16 L349.00 114.10 L348.50 114.04 L348.00 113.99 L347.50 113.94 L347.00 113.90 L346.50 113.86 L346.00 113.83 L345.50 113.81 L345.00 113.80 L344.50 113.79 L344.00 113.79 L343.50 113.78 L343.00 113.77 L342.50 113.77 L342.00 113.76 L341.50 113.76 L341.00 113.75 L340.50 113.74 L340.00 113.74 L339.50 113.73 L339.00 113.73 L338.50 113.72 L338.00 113.72Z" fill="url(#gr)"/>
<path d="M402.50 123.33 L403.00 123.44 L403.50 123.54 L404.00 123.61 L404.50 123.66 L405.00 123.70 L405.50 123.72 L406.00 123.73 L406.50 123.72 L407.00 123.71 L407.50 123.70 L408.00 123.68 L408.50 123.65 L409.00 123.63 L409.50 123.61 L410.00 123.58 L410.50 123.56 L411.00 123.53 L411.50 123.51 L412.00 123.48 L412.50 123.46 L413.00 123.43 L413.50 123.41 L414.00 123.38 L414.50 123.35 L415.00 123.33 L415.50 123.30 L416.00 123.27 L416.50 123.24 L417.00 123.21 L417.50 123.17 L418.00 123.14 L418.50 123.11 L419.00 123.07 L419.50 123.04 L420.00 123.00 L420.50 122.96 L421.00 122.93 L421.50 122.89 L422.00 122.85 L422.50 122.81 L423.00 122.77 L423.50 122.73 L424.00 122.69 L424.50 122.64 L425.00 122.60 L425.50 122.56 L426.00 122.51 L426.50 122.47 L427.00 122.42 L427.50 122.37 L428.00 122.32 L428.50 122.27 L429.00 122.22 L429.50 122.17 L430.00 122.11 L430.50 122.06 L431.00 122.00 L431.50 121.94 L432.00 121.88 L432.50 121.82 L433.00 121.76 L433.50 121.69 L434.00 121.62 L434.50 121.55 L435.00 121.48 L435.50 121.40 L436.00 121.33 L436.50 121.24 L437.00 121.16 L437.50 121.07 L438.00 120.98 L438.50 120.88 L439.00 120.77 L439.50 120.66 L440.00 120.55 L440.50 120.43 L441.00 120.31 L441.50 120.17 L442.00 120.04 L442.50 119.89 L443.00 119.74 L443.50 119.59 L444.00 119.42 L444.50 119.25 L445.00 119.07 L445.50 118.89 L446.00 118.69 L446.50 118.48 L447.00 118.26 L447.50 118.02 L448.00 117.77 L448.50 117.50 L449.00 117.21 L449.50 116.89 L450.00 116.55 L450.50 116.19 L451.00 115.80 L451.50 115.38 L452.00 114.93 L452.50 114.45 L453.00 113.93 L453.50 113.37 L454.00 112.77 L454.50 112.13 L455.00 111.43 L455.50 110.69 L456.00 109.89 L456.50 109.03 L457.00 108.11 L457.50 107.10 L458.00 106.01 L458.50 104.83 L459.00 103.53 L459.50 102.11 L460.00 100.55 L460.50 98.85 L461.00 97.01 L461.50 95.02 L462.00 92.91 L462.50 90.68 L463.00 88.37 L463.50 86.01 L464.00 83.62 L464.50 81.23 L465.00 78.87 L465.50 76.56 L466.00 74.31 L466.50 72.12 L467.00 69.98 L467.50 67.87 L468.00 65.78 L468.50 63.69 L469.00 61.59 L469.50 59.48 L470.00 57.34 L470.50 55.19 L471.00 53.04 L471.50 50.90 L472.00 48.79 L472.50 46.74 L473.00 44.77 L473.50 42.89 L474.00 41.14 L474.50 39.54 L475.00 38.13 L475.50 36.92 L476.00 35.92 L476.50 35.14 L477.00 34.58 L477.50 34.24 L478.00 34.14 L478.50 34.27 L479.00 34.62 L479.50 35.20 L480.00 35.97 L480.50 36.94 L481.00 38.08 L481.50 39.39 L482.00 40.85 L482.50 42.45 L483.00 44.19 L483.50 46.08 L484.00 48.10 L484.50 50.25 L485.00 52.51 L485.50 54.86 L486.00 57.29 L486.50 59.78 L487.00 62.32 L487.50 64.89 L488.00 67.49 L488.50 70.12 L489.00 72.75 L489.50 75.39 L490.00 78.04 L490.50 80.68 L491.00 83.33 L491.50 85.98 L492.00 88.64 L492.50 91.31 L493.00 94.01 L493.50 96.73 L494.00 99.45 L494.50 102.19 L495.00 104.92 L495.50 107.65 L496.00 110.36 L496.50 113.05 L497.00 115.71 L497.50 118.31 L498.00 120.86 L498.50 123.33 L499.00 125.71 L499.50 127.98 L500.00 130.12 L500.50 132.13 L501.00 134.00 L501.50 135.72 L502.00 137.30 L502.50 138.73 L503.00 140.04 L503.50 141.22 L504.00 142.29 L504.50 143.26 L505.00 144.15 L505.50 144.97 L506.00 145.73 L506.50 146.44 L507.00 147.10 L507.50 147.73 L508.00 148.33 L508.50 148.89 L509.00 149.43 L509.50 149.94 L510.00 150.43 L510.50 150.89 L511.00 151.33 L511.50 151.74 L512.00 152.13 L512.50 152.50 L513.00 152.86 L513.50 153.20 L514.00 153.52 L514.50 153.82 L515.00 154.12 L515.50 154.40 L516.00 154.67 L516.50 154.92 L517.00 155.17 L517.50 155.41 L518.00 155.64 L518.50 155.86 L519.00 156.07 L519.50 156.27 L520.00 156.47 L520.50 156.66 L521.00 156.85 L521.50 157.03 L522.00 157.20 L522.50 157.37 L523.00 157.54 L523.50 157.70 L524.00 157.85 L524.50 158.01 L525.00 158.16 L525.50 158.31 L526.00 158.46 L526.50 158.61 L527.00 158.75 L527.50 158.89 L528.00 159.03 L528.50 159.17 L529.00 159.31 L529.50 159.44 L530.00 159.57 L530.50 159.70 L531.00 159.83 L531.50 159.95 L532.00 160.06 L532.50 160.18 L533.00 160.28 L533.50 160.38 L533.50 164.00 L533.00 163.98 L532.50 163.97 L532.00 163.95 L531.50 163.93 L531.00 163.91 L530.50 163.89 L530.00 163.87 L529.50 163.85 L529.00 163.82 L528.50 163.80 L528.00 163.77 L527.50 163.74 L527.00 163.72 L526.50 163.69 L526.00 163.66 L525.50 163.62 L525.00 163.59 L524.50 163.56 L524.00 163.53 L523.50 163.49 L523.00 163.45 L522.50 163.42 L522.00 163.38 L521.50 163.34 L521.00 163.30 L520.50 163.26 L520.00 163.22 L519.50 163.18 L519.00 163.14 L518.50 163.10 L518.00 163.06 L517.50 163.02 L517.00 162.97 L516.50 162.93 L516.00 162.88 L515.50 162.84 L515.00 162.80 L514.50 162.75 L514.00 162.70 L513.50 162.66 L513.00 162.61 L512.50 162.57 L512.00 162.52 L511.50 162.47 L511.00 162.42 L510.50 162.38 L510.00 162.33 L509.50 162.28 L509.00 162.23 L508.50 162.17 L508.00 162.12 L507.50 162.06 L507.00 162.01 L506.50 161.95 L506.00 161.88 L505.50 161.82 L505.00 161.75 L504.50 161.68 L504.00 161.61 L503.50 161.53 L503.00 161.45 L502.50 161.37 L502.00 161.28 L501.50 161.19 L501.00 161.10 L500.50 161.00 L500.00 160.89 L499.50 160.77 L499.00 160.64 L498.50 160.50 L498.00 160.34 L497.50 160.17 L497.00 160.00 L496.50 159.81 L496.00 159.61 L495.50 159.41 L495.00 159.19 L494.50 158.96 L494.00 158.73 L493.50 158.49 L493.00 158.24 L492.50 157.98 L492.00 157.72 L491.50 157.44 L491.00 157.15 L490.50 156.82 L490.00 156.46 L489.50 156.08 L489.00 155.67 L488.50 155.24 L488.00 154.79 L487.50 154.33 L487.00 153.85 L486.50 153.36 L486.00 152.86 L485.50 152.35 L485.00 151.84 L484.50 151.33 L484.00 150.81 L483.50 150.30 L483.00 149.80 L482.50 149.30 L482.00 148.78 L481.50 148.24 L481.00 147.67 L480.50 147.10 L480.00 146.51 L479.50 145.91 L479.00 145.31 L478.50 144.70 L478.00 144.10 L477.50 143.51 L477.00 142.93 L476.50 142.36 L476.00 141.81 L475.50 141.29 L475.00 140.79 L474.50 140.32 L474.00 139.88 L473.50 139.47 L473.00 139.07 L472.50 138.68 L472.00 138.30 L471.50 137.92 L471.00 137.55 L470.50 137.19 L470.00 136.84 L469.50 136.51 L469.00 136.18 L468.50 135.86 L468.00 135.56 L467.50 135.27 L467.00 134.99 L466.50 134.72 L466.00 134.47 L465.50 134.23 L465.00 134.00 L464.50 133.78 L464.00 133.57 L463.50 133.36 L463.00 133.15 L462.50 132.94 L462.00 132.74 L461.50 132.54 L461.00 132.34 L460.50 132.15 L460.00 131.96 L459.50 131.78 L459.00 131.60 L458.50 131.42 L458.00 131.25 L457.50 131.08 L457.00 130.92 L456.50 130.77 L456.00 130.62 L455.50 130.47 L455.00 130.33 L454.50 130.20 L454.00 130.07 L453.50 129.95 L453.00 129.84 L452.50 129.73 L452.00 129.63 L451.50 129.54 L451.00 129.45 L450.50 129.37 L450.00 129.30 L449.50 129.23 L449.00 129.17 L448.50 129.11 L448.00 129.04 L447.50 128.98 L447.00 128.93 L446.50 128.87 L446.00 128.81 L445.50 128.76 L445.00 128.70 L444.50 128.65 L444.00 128.60 L443.50 128.55 L443.00 128.50 L442.50 128.46 L442.00 128.41 L441.50 128.36 L441.00 128.32 L440.50 128.28 L440.00 128.24 L439.50 128.19 L439.00 128.15 L438.50 128.12 L438.00 128.08 L437.50 128.04 L437.00 128.00 L436.50 127.97 L436.00 127.93 L435.50 127.90 L435.00 127.87 L434.50 127.83 L434.00 127.80 L433.50 127.77 L433.00 127.74 L432.50 127.71 L432.00 127.68 L431.50 127.65 L431.00 127.62 L430.50 127.59 L430.00 127.56 L429.50 127.54 L429.00 127.51 L428.50 127.48 L428.00 127.46 L427.50 127.43 L427.00 127.40 L426.50 127.38 L426.00 127.35 L425.50 127.33 L425.00 127.30 L424.50 127.27 L424.00 127.25 L423.50 127.23 L423.00 127.20 L422.50 127.18 L422.00 127.16 L421.50 127.13 L421.00 127.11 L420.50 127.09 L420.00 127.07 L419.50 127.05 L419.00 127.03 L418.50 127.01 L418.00 126.99 L417.50 126.97 L417.00 126.95 L416.50 126.94 L416.00 126.92 L415.50 126.90 L415.00 126.88 L414.50 126.86 L414.00 126.85 L413.50 126.83 L413.00 126.81 L412.50 126.80 L412.00 126.78 L411.50 126.76 L411.00 126.75 L410.50 126.73 L410.00 126.71 L409.50 126.70 L409.00 126.68 L408.50 126.66 L408.00 126.65 L407.50 126.63 L407.00 126.61 L406.50 126.60 L406.00 126.58 L405.50 126.56 L405.00 126.55 L404.50 126.53 L404.00 126.51 L403.50 126.49 L403.00 126.47 L402.50 126.46Z" fill="url(#gbl)"/>
<path d="M311.00 113.60 L311.50 113.60 L312.00 113.60 L312.50 113.60 L313.00 113.60 L313.50 113.60 L314.00 113.60 L314.50 113.60 L315.00 113.60 L315.50 113.60 L316.00 113.60 L316.50 113.60 L317.00 113.60 L317.50 113.61 L318.00 113.61 L318.50 113.61 L319.00 113.61 L319.50 113.61 L320.00 113.61 L320.50 113.61 L321.00 113.61 L321.50 113.61 L322.00 113.62 L322.50 113.62 L323.00 113.62 L323.50 113.62 L324.00 113.62 L324.50 113.63 L325.00 113.63 L325.50 113.63 L326.00 113.63 L326.50 113.63 L327.00 113.64 L327.50 113.64 L328.00 113.64 L328.50 113.64 L329.00 113.65 L329.50 113.65 L330.00 113.65 L330.50 113.66 L331.00 113.66 L331.50 113.66 L332.00 113.67 L332.50 113.67 L333.00 113.67 L333.50 113.68 L334.00 113.68 L334.50 113.69 L335.00 113.69 L335.50 113.69 L336.00 113.70 L336.50 113.70 L337.00 113.71 L337.50 113.71 L338.00 113.72 L338.50 113.72 L339.00 113.73 L339.50 113.73 L340.00 113.74 L340.50 113.74 L341.00 113.75 L341.50 113.76 L342.00 113.76 L342.50 113.77 L343.00 113.77 L343.50 113.78 L344.00 113.79 L344.50 113.79 L345.00 113.80 L345.50 113.81 L346.00 113.83 L346.50 113.86 L347.00 113.90 L347.50 113.94 L348.00 113.99 L348.50 114.04 L349.00 114.10 L349.50 114.16 L350.00 114.23 L350.50 114.30 L351.00 114.37 L351.50 114.44 L352.00 114.50 L352.50 114.57 L353.00 114.64 L353.50 114.71 L354.00 114.78 L354.50 114.86 L355.00 114.94 L355.50 115.02 L356.00 115.10 L356.50 115.18 L357.00 115.27 L357.50 115.36 L358.00 115.46 L358.50 115.55 L359.00 115.65 L359.50 115.76 L360.00 115.86 L360.50 115.97 L361.00 116.08 L361.50 116.19 L362.00 116.31 L362.50 116.43 L363.00 116.55 L363.50 116.67 L364.00 116.80 L364.50 116.93 L365.00 117.06 L365.50 117.20 L366.00 117.35 L366.50 117.50 L367.00 117.68 L367.50 117.86 L368.00 118.06 L368.50 118.27 L369.00 118.48 L369.50 118.70 L370.00 118.93 L370.50 119.17 L371.00 119.40 L371.50 119.64 L372.00 119.89 L372.50 120.13 L373.00 120.38 L373.50 120.62 L374.00 120.86 L374.50 121.09 L375.00 121.32 L375.50 121.55 L376.00 121.76 L376.50 121.97 L377.00 122.17 L377.50 122.36 L378.00 122.53 L378.50 122.70 L379.00 122.87 L379.50 123.04 L380.00 123.21 L380.50 123.38 L381.00 123.55 L381.50 123.72 L382.00 123.89 L382.50 124.06 L383.00 124.22 L383.50 124.39 L384.00 124.55 L384.50 124.70 L385.00 124.85 L385.50 124.99 L386.00 125.13 L386.50 125.26 L387.00 125.38 L387.50 125.50 L388.00 125.60 L388.50 125.70 L389.00 125.78 L389.50 125.86 L390.00 125.92 L390.50 125.97 L391.00 126.01 L391.50 126.04 L392.00 126.07 L392.50 126.09 L393.00 126.12 L393.50 126.14 L394.00 126.16 L394.50 126.18 L395.00 126.20 L395.50 126.22 L396.00 126.24 L396.50 126.25 L397.00 126.27 L397.50 126.28 L398.00 126.30 L398.50 126.32 L399.00 126.33 L399.50 126.35 L400.00 126.36 L400.50 126.38 L401.00 126.40 L401.50 126.42 L402.00 126.44 L402.50 126.46 L403.00 126.47" fill="none" stroke="#3e3232" stroke-width="1.15"/>
<path d="M402.00 126.44 L402.50 126.46 L403.00 126.47 L403.50 126.49 L404.00 126.51 L404.50 126.53 L405.00 126.55 L405.50 126.56 L406.00 126.58 L406.50 126.60 L407.00 126.61 L407.50 126.63 L408.00 126.65 L408.50 126.66 L409.00 126.68 L409.50 126.70 L410.00 126.71 L410.50 126.73 L411.00 126.75 L411.50 126.76 L412.00 126.78 L412.50 126.80 L413.00 126.81 L413.50 126.83 L414.00 126.85 L414.50 126.86 L415.00 126.88 L415.50 126.90 L416.00 126.92 L416.50 126.94 L417.00 126.95 L417.50 126.97 L418.00 126.99 L418.50 127.01 L419.00 127.03 L419.50 127.05 L420.00 127.07 L420.50 127.09 L421.00 127.11 L421.50 127.13 L422.00 127.16 L422.50 127.18 L423.00 127.20 L423.50 127.23 L424.00 127.25 L424.50 127.27 L425.00 127.30 L425.50 127.33 L426.00 127.35 L426.50 127.38 L427.00 127.40 L427.50 127.43 L428.00 127.46 L428.50 127.48 L429.00 127.51 L429.50 127.54 L430.00 127.56 L430.50 127.59 L431.00 127.62 L431.50 127.65 L432.00 127.68 L432.50 127.71 L433.00 127.74 L433.50 127.77 L434.00 127.80 L434.50 127.83 L435.00 127.87 L435.50 127.90 L436.00 127.93 L436.50 127.97 L437.00 128.00 L437.50 128.04 L438.00 128.08 L438.50 128.12 L439.00 128.15 L439.50 128.19 L440.00 128.24 L440.50 128.28 L441.00 128.32 L441.50 128.36 L442.00 128.41 L442.50 128.46 L443.00 128.50 L443.50 128.55 L444.00 128.60 L444.50 128.65 L445.00 128.70 L445.50 128.76 L446.00 128.81 L446.50 128.87 L447.00 128.93 L447.50 128.98 L448.00 129.04 L448.50 129.11 L449.00 129.17 L449.50 129.23 L450.00 129.30 L450.50 129.37 L451.00 129.45 L451.50 129.54 L452.00 129.63 L452.50 129.73 L453.00 129.84 L453.50 129.95 L454.00 130.07 L454.50 130.20 L455.00 130.33 L455.50 130.47 L456.00 130.62 L456.50 130.77 L457.00 130.92 L457.50 131.08 L458.00 131.25 L458.50 131.42 L459.00 131.60 L459.50 131.78 L460.00 131.96 L460.50 132.15 L461.00 132.34 L461.50 132.54 L462.00 132.74 L462.50 132.94 L463.00 133.15 L463.50 133.36 L464.00 133.57 L464.50 133.78 L465.00 134.00 L465.50 134.23 L466.00 134.47 L466.50 134.72 L467.00 134.99 L467.50 135.27 L468.00 135.56 L468.50 135.86 L469.00 136.18 L469.50 136.51 L470.00 136.84 L470.50 137.19 L471.00 137.55 L471.50 137.92 L472.00 138.30 L472.50 138.68 L473.00 139.07 L473.50 139.47 L474.00 139.88 L474.50 140.32 L475.00 140.79 L475.50 141.29 L476.00 141.81 L476.50 142.36 L477.00 142.93 L477.50 143.51 L478.00 144.10 L478.50 144.70 L479.00 145.31 L479.50 145.91 L480.00 146.51 L480.50 147.10 L481.00 147.67 L481.50 148.24 L482.00 148.78 L482.50 149.30 L483.00 149.80 L483.50 150.30 L484.00 150.81 L484.50 151.33 L485.00 151.84 L485.50 152.35 L486.00 152.86 L486.50 153.36 L487.00 153.85 L487.50 154.33 L488.00 154.79 L488.50 155.24 L489.00 155.67 L489.50 156.08 L490.00 156.46 L490.50 156.82 L491.00 157.15 L491.50 157.44 L492.00 157.72 L492.50 157.98 L493.00 158.24 L493.50 158.49 L494.00 158.73 L494.50 158.96 L495.00 159.19 L495.50 159.41 L496.00 159.61 L496.50 159.81 L497.00 160.00 L497.50 160.17 L498.00 160.34 L498.50 160.50 L499.00 160.64 L499.50 160.77 L500.00 160.89 L500.50 161.00 L501.00 161.10 L501.50 161.19 L502.00 161.28 L502.50 161.37 L503.00 161.45 L503.50 161.53 L504.00 161.61 L504.50 161.68 L505.00 161.75 L505.50 161.82 L506.00 161.88 L506.50 161.95 L507.00 162.01 L507.50 162.06 L508.00 162.12 L508.50 162.17 L509.00 162.23 L509.50 162.28 L510.00 162.33 L510.50 162.38 L511.00 162.42 L511.50 162.47 L512.00 162.52 L512.50 162.57 L513.00 162.61 L513.50 162.66 L514.00 162.70 L514.50 162.75 L515.00 162.80 L515.50 162.84 L516.00 162.88 L516.50 162.93 L517.00 162.97 L517.50 163.02 L518.00 163.06 L518.50 163.10 L519.00 163.14 L519.50 163.18 L520.00 163.22 L520.50 163.26 L521.00 163.30 L521.50 163.34 L522.00 163.38 L522.50 163.42 L523.00 163.45 L523.50 163.49 L524.00 163.53 L524.50 163.56 L525.00 163.59 L525.50 163.62 L526.00 163.66 L526.50 163.69 L527.00 163.72 L527.50 163.74 L528.00 163.77 L528.50 163.80 L529.00 163.82 L529.50 163.85 L530.00 163.87 L530.50 163.89 L531.00 163.91 L531.50 163.93 L532.00 163.95 L532.50 163.97 L533.00 163.98 L533.50 164.00" fill="none" stroke="#ab4848" stroke-width="1.25"/>
<path d="M311.00 113.60 L311.50 113.60 L312.00 113.59 L312.50 113.59 L313.00 113.59 L313.50 113.58 L314.00 113.58 L314.50 113.58 L315.00 113.58 L315.50 113.57 L316.00 113.57 L316.50 113.57 L317.00 113.57 L317.50 113.56 L318.00 113.56 L318.50 113.56 L319.00 113.56 L319.50 113.55 L320.00 113.55 L320.50 113.55 L321.00 113.55 L321.50 113.54 L322.00 113.54 L322.50 113.54 L323.00 113.54 L323.50 113.54 L324.00 113.53 L324.50 113.53 L325.00 113.53 L325.50 113.53 L326.00 113.53 L326.50 113.52 L327.00 113.52 L327.50 113.52 L328.00 113.52 L328.50 113.52 L329.00 113.51 L329.50 113.51 L330.00 113.51 L330.50 113.51 L331.00 113.51 L331.50 113.52 L332.00 113.52 L332.50 113.52 L333.00 113.52 L333.50 113.52 L334.00 113.53 L334.50 113.53 L335.00 113.53 L335.50 113.53 L336.00 113.53 L336.50 113.53 L337.00 113.52 L337.50 113.51 L338.00 113.50 L338.50 113.48 L339.00 113.46 L339.50 113.44 L340.00 113.41 L340.50 113.37 L341.00 113.32 L341.50 113.26 L342.00 113.20 L342.50 113.13 L343.00 113.04 L343.50 112.95 L344.00 112.84 L344.50 112.72 L345.00 112.58 L345.50 112.43 L346.00 112.27 L346.50 112.11 L347.00 111.93 L347.50 111.73 L348.00 111.51 L348.50 111.27 L349.00 111.01 L349.50 110.71 L350.00 110.37 L350.50 109.99 L351.00 109.57 L351.50 109.09 L352.00 108.56 L352.50 107.97 L353.00 107.32 L353.50 106.62 L354.00 105.86 L354.50 105.05 L355.00 104.20 L355.50 103.29 L356.00 102.35 L356.50 101.36 L357.00 100.35 L357.50 99.31 L358.00 98.25 L358.50 97.17 L359.00 96.08 L359.50 94.99 L360.00 93.90 L360.50 92.82 L361.00 91.75 L361.50 90.69 L362.00 89.66 L362.50 88.66 L363.00 87.68 L363.50 86.73 L364.00 85.82 L364.50 84.93 L365.00 84.08 L365.50 83.26 L366.00 82.48 L366.50 81.75 L367.00 81.07 L367.50 80.43 L368.00 79.84 L368.50 79.30 L369.00 78.82 L369.50 78.39 L370.00 78.02 L370.50 77.71 L371.00 77.45 L371.50 77.26 L372.00 77.12 L372.50 77.05 L373.00 77.04 L373.50 77.09 L374.00 77.21 L374.50 77.39 L375.00 77.64 L375.50 77.95 L376.00 78.34 L376.50 78.78 L377.00 79.29 L377.50 79.85 L378.00 80.47 L378.50 81.14 L379.00 81.86 L379.50 82.65 L380.00 83.50 L380.50 84.40 L381.00 85.37 L381.50 86.39 L382.00 87.48 L382.50 88.63 L383.00 89.83 L383.50 91.09 L384.00 92.40 L384.50 93.74 L385.00 95.12 L385.50 96.51 L386.00 97.91 L386.50 99.31 L387.00 100.69 L387.50 102.06 L388.00 103.41 L388.50 104.72 L389.00 106.00 L389.50 107.24 L390.00 108.44 L390.50 109.59 L391.00 110.69 L391.50 111.75 L392.00 112.76 L392.50 113.72 L393.00 114.62 L393.50 115.48 L394.00 116.29 L394.50 117.04 L395.00 117.74 L395.50 118.39 L396.00 119.00 L396.50 119.55 L397.00 120.07 L397.50 120.54 L398.00 120.97 L398.50 121.36 L399.00 121.72 L399.50 122.04 L400.00 122.33 L400.50 122.58 L401.00 122.81 L401.50 123.01 L402.00 123.18 L402.50 123.33 L403.00 123.44" fill="none" stroke="#6a6ee0" stroke-width="1.3"/>
<path d="M402.00 123.18 L402.50 123.33 L403.00 123.44 L403.50 123.54 L404.00 123.61 L404.50 123.66 L405.00 123.70 L405.50 123.72 L406.00 123.73 L406.50 123.72 L407.00 123.71 L407.50 123.70 L408.00 123.68 L408.50 123.65 L409.00 123.63 L409.50 123.61 L410.00 123.58 L410.50 123.56 L411.00 123.53 L411.50 123.51 L412.00 123.48 L412.50 123.46 L413.00 123.43 L413.50 123.41 L414.00 123.38 L414.50 123.35 L415.00 123.33 L415.50 123.30 L416.00 123.27 L416.50 123.24 L417.00 123.21 L417.50 123.17 L418.00 123.14 L418.50 123.11 L419.00 123.07 L419.50 123.04 L420.00 123.00 L420.50 122.96 L421.00 122.93 L421.50 122.89 L422.00 122.85 L422.50 122.81 L423.00 122.77 L423.50 122.73 L424.00 122.69 L424.50 122.64 L425.00 122.60 L425.50 122.56 L426.00 122.51 L426.50 122.47 L427.00 122.42 L427.50 122.37 L428.00 122.32 L428.50 122.27 L429.00 122.22 L429.50 122.17 L430.00 122.11 L430.50 122.06 L431.00 122.00 L431.50 121.94 L432.00 121.88 L432.50 121.82 L433.00 121.76 L433.50 121.69 L434.00 121.62 L434.50 121.55 L435.00 121.48 L435.50 121.40 L436.00 121.33 L436.50 121.24 L437.00 121.16 L437.50 121.07 L438.00 120.98 L438.50 120.88 L439.00 120.77 L439.50 120.66 L440.00 120.55 L440.50 120.43 L441.00 120.31 L441.50 120.17 L442.00 120.04 L442.50 119.89 L443.00 119.74 L443.50 119.59 L444.00 119.42 L444.50 119.25 L445.00 119.07 L445.50 118.89 L446.00 118.69 L446.50 118.48 L447.00 118.26 L447.50 118.02 L448.00 117.77 L448.50 117.50 L449.00 117.21 L449.50 116.89 L450.00 116.55 L450.50 116.19 L451.00 115.80 L451.50 115.38 L452.00 114.93 L452.50 114.45 L453.00 113.93 L453.50 113.37 L454.00 112.77 L454.50 112.13 L455.00 111.43 L455.50 110.69 L456.00 109.89 L456.50 109.03 L457.00 108.11 L457.50 107.10 L458.00 106.01 L458.50 104.83 L459.00 103.53 L459.50 102.11 L460.00 100.55 L460.50 98.85 L461.00 97.01 L461.50 95.02 L462.00 92.91 L462.50 90.68 L463.00 88.37 L463.50 86.01 L464.00 83.62 L464.50 81.23 L465.00 78.87 L465.50 76.56 L466.00 74.31 L466.50 72.12 L467.00 69.98 L467.50 67.87 L468.00 65.78 L468.50 63.69 L469.00 61.59 L469.50 59.48 L470.00 57.34 L470.50 55.19 L471.00 53.04 L471.50 50.90 L472.00 48.79 L472.50 46.74 L473.00 44.77 L473.50 42.89 L474.00 41.14 L474.50 39.54 L475.00 38.13 L475.50 36.92 L476.00 35.92 L476.50 35.14 L477.00 34.58 L477.50 34.24 L478.00 34.14 L478.50 34.27 L479.00 34.62 L479.50 35.20 L480.00 35.97 L480.50 36.94 L481.00 38.08 L481.50 39.39 L482.00 40.85 L482.50 42.45 L483.00 44.19 L483.50 46.08 L484.00 48.10 L484.50 50.25 L485.00 52.51 L485.50 54.86 L486.00 57.29 L486.50 59.78 L487.00 62.32 L487.50 64.89 L488.00 67.49 L488.50 70.12 L489.00 72.75 L489.50 75.39 L490.00 78.04 L490.50 80.68 L491.00 83.33 L491.50 85.98 L492.00 88.64 L492.50 91.31 L493.00 94.01 L493.50 96.73 L494.00 99.45 L494.50 102.19 L495.00 104.92 L495.50 107.65 L496.00 110.36 L496.50 113.05 L497.00 115.71 L497.50 118.31 L498.00 120.86 L498.50 123.33 L499.00 125.71 L499.50 127.98 L500.00 130.12 L500.50 132.13 L501.00 134.00 L501.50 135.72 L502.00 137.30 L502.50 138.73 L503.00 140.04 L503.50 141.22 L504.00 142.29 L504.50 143.26 L505.00 144.15 L505.50 144.97 L506.00 145.73 L506.50 146.44 L507.00 147.10 L507.50 147.73 L508.00 148.33 L508.50 148.89 L509.00 149.43 L509.50 149.94 L510.00 150.43 L510.50 150.89 L511.00 151.33 L511.50 151.74 L512.00 152.13 L512.50 152.50 L513.00 152.86 L513.50 153.20 L514.00 153.52 L514.50 153.82 L515.00 154.12 L515.50 154.40 L516.00 154.67 L516.50 154.92 L517.00 155.17 L517.50 155.41 L518.00 155.64 L518.50 155.86 L519.00 156.07 L519.50 156.27 L520.00 156.47 L520.50 156.66 L521.00 156.85 L521.50 157.03 L522.00 157.20 L522.50 157.37 L523.00 157.54 L523.50 157.70 L524.00 157.85 L524.50 158.01 L525.00 158.16 L525.50 158.31 L526.00 158.46 L526.50 158.61 L527.00 158.75 L527.50 158.89 L528.00 159.03 L528.50 159.17 L529.00 159.31 L529.50 159.44 L530.00 159.57 L530.50 159.70 L531.00 159.83 L531.50 159.95 L532.00 160.06 L532.50 160.18 L533.00 160.28 L533.50 160.38" fill="none" stroke="#2c6ce8" stroke-width="1.35"/>
<path d="M310.75 106.19a1.30 1.30 0 1 0 2.60 0a1.30 1.30 0 1 0 -2.60 0M311.08 111.95a1.30 1.30 0 1 0 2.60 0a1.30 1.30 0 1 0 -2.60 0M311.51 105.80a1.30 1.30 0 1 0 2.60 0a1.30 1.30 0 1 0 -2.60 0M312.31 110.35a1.30 1.30 0 1 0 2.60 0a1.30 1.30 0 1 0 -2.60 0M312.66 106.20a1.30 1.30 0 1 0 2.60 0a1.30 1.30 0 1 0 -2.60 0M313.38 105.92a1.30 1.30 0 1 0 2.60 0a1.30 1.30 0 1 0 -2.60 0M314.22 116.10a1.30 1.30 0 1 0 2.60 0a1.30 1.30 0 1 0 -2.60 0M314.43 114.11a1.30 1.30 0 1 0 2.60 0a1.30 1.30 0 1 0 -2.60 0M315.39 119.82a1.30 1.30 0 1 0 2.60 0a1.30 1.30 0 1 0 -2.60 0M315.97 109.52a1.30 1.30 0 1 0 2.60 0a1.30 1.30 0 1 0 -2.60 0M316.52 110.91a1.30 1.30 0 1 0 2.60 0a1.30 1.30 0 1 0 -2.60 0M316.84 111.08a1.30 1.30 0 1 0 2.60 0a1.30 1.30 0 1 0 -2.60 0M317.42 111.54a1.30 1.30 0 1 0 2.60 0a1.30 1.30 0 1 0 -2.60 0M318.28 113.05a1.30 1.30 0 1 0 2.60 0a1.30 1.30 0 1 0 -2.60 0M318.91 104.11a1.30 1.30 0 1 0 2.60 0a1.30 1.30 0 1 0 -2.60 0M319.58 113.07a1.30 1.30 0 1 0 2.60 0a1.30 1.30 0 1 0 -2.60 0M320.07 105.24a1.30 1.30 0 1 0 2.60 0a1.30 1.30 0 1 0 -2.60 0M320.57 110.55a1.30 1.30 0 1 0 2.60 0a1.30 1.30 0 1 0 -2.60 0M321.50 122.42a1.30 1.30 0 1 0 2.60 0a1.30 1.30 0 1 0 -2.60 0M322.02 110.36a1.30 1.30 0 1 0 2.60 0a1.30 1.30 0 1 0 -2.60 0M322.37 109.50a1.30 1.30 0 1 0 2.60 0a1.30 1.30 0 1 0 -2.60 0M322.84 112.92a1.30 1.30 0 1 0 2.60 0a1.30 1.30 0 1 0 -2.60 0M323.91 110.90a1.30 1.30 0 1 0 2.60 0a1.30 1.30 0 1 0 -2.60 0M324.23 106.90a1.30 1.30 0 1 0 2.60 0a1.30 1.30 0 1 0 -2.60 0M324.60 117.26a1.30 1.30 0 1 0 2.60 0a1.30 1.30 0 1 0 -2.60 0M325.33 108.70a1.30 1.30 0 1 0 2.60 0a1.30 1.30 0 1 0 -2.60 0M326.39 113.95a1.30 1.30 0 1 0 2.60 0a1.30 1.30 0 1 0 -2.60 0M326.64 108.35a1.30 1.30 0 1 0 2.60 0a1.30 1.30 0 1 0 -2.60 0M327.47 115.06a1.30 1.30 0 1 0 2.60 0a1.30 1.30 0 1 0 -2.60 0M327.76 112.76a1.30 1.30 0 1 0 2.60 0a1.30 1.30 0 1 0 -2.60 0M328.78 113.28a1.30 1.30 0 1 0 2.60 0a1.30 1.30 0 1 0 -2.60 0M329.25 112.20a1.30 1.30 0 1 0 2.60 0a1.30 1.30 0 1 0 -2.60 0M329.46 112.51a1.30 1.30 0 1 0 2.60 0a1.30 1.30 0 1 0 -2.60 0M330.04 112.34a1.30 1.30 0 1 0 2.60 0a1.30 1.30 0 1 0 -2.60 0M330.94 111.17a1.30 1.30 0 1 0 2.60 0a1.30 1.30 0 1 0 -2.60 0M331.47 108.37a1.30 1.30 0 1 0 2.60 0a1.30 1.30 0 1 0 -2.60 0M331.88 112.65a1.30 1.30 0 1 0 2.60 0a1.30 1.30 0 1 0 -2.60 0M332.79 115.97a1.30 1.30 0 1 0 2.60 0a1.30 1.30 0 1 0 -2.60 0M333.13 113.33a1.30 1.30 0 1 0 2.60 0a1.30 1.30 0 1 0 -2.60 0M333.76 113.05a1.30 1.30 0 1 0 2.60 0a1.30 1.30 0 1 0 -2.60 0M334.38 116.92a1.30 1.30 0 1 0 2.60 0a1.30 1.30 0 1 0 -2.60 0M335.33 109.35a1.30 1.30 0 1 0 2.60 0a1.30 1.30 0 1 0 -2.60 0M335.91 111.40a1.30 1.30 0 1 0 2.60 0a1.30 1.30 0 1 0 -2.60 0M336.39 114.01a1.30 1.30 0 1 0 2.60 0a1.30 1.30 0 1 0 -2.60 0M336.73 119.26a1.30 1.30 0 1 0 2.60 0a1.30 1.30 0 1 0 -2.60 0M337.35 116.87a1.30 1.30 0 1 0 2.60 0a1.30 1.30 0 1 0 -2.60 0M337.98 110.90a1.30 1.30 0 1 0 2.60 0a1.30 1.30 0 1 0 -2.60 0M338.44 107.22a1.30 1.30 0 1 0 2.60 0a1.30 1.30 0 1 0 -2.60 0M339.15 114.37a1.30 1.30 0 1 0 2.60 0a1.30 1.30 0 1 0 -2.60 0M339.96 112.85a1.30 1.30 0 1 0 2.60 0a1.30 1.30 0 1 0 -2.60 0M340.78 107.49a1.30 1.30 0 1 0 2.60 0a1.30 1.30 0 1 0 -2.60 0M341.09 113.00a1.30 1.30 0 1 0 2.60 0a1.30 1.30 0 1 0 -2.60 0M341.51 103.60a1.30 1.30 0 1 0 2.60 0a1.30 1.30 0 1 0 -2.60 0M342.09 106.66a1.30 1.30 0 1 0 2.60 0a1.30 1.30 0 1 0 -2.60 0M342.75 115.36a1.30 1.30 0 1 0 2.60 0a1.30 1.30 0 1 0 -2.60 0M343.31 106.02a1.30 1.30 0 1 0 2.60 0a1.30 1.30 0 1 0 -2.60 0M343.92 108.89a1.30 1.30 0 1 0 2.60 0a1.30 1.30 0 1 0 -2.60 0M344.97 104.56a1.30 1.30 0 1 0 2.60 0a1.30 1.30 0 1 0 -2.60 0M345.45 111.71a1.30 1.30 0 1 0 2.60 0a1.30 1.30 0 1 0 -2.60 0M346.06 107.17a1.30 1.30 0 1 0 2.60 0a1.30 1.30 0 1 0 -2.60 0M346.94 114.30a1.30 1.30 0 1 0 2.60 0a1.30 1.30 0 1 0 -2.60 0M348.02 109.75a1.30 1.30 0 1 0 2.60 0a1.30 1.30 0 1 0 -2.60 0M348.76 107.69a1.30 1.30 0 1 0 2.60 0a1.30 1.30 0 1 0 -2.60 0M349.38 111.34a1.30 1.30 0 1 0 2.60 0a1.30 1.30 0 1 0 -2.60 0M350.04 108.07a1.30 1.30 0 1 0 2.60 0a1.30 1.30 0 1 0 -2.60 0M350.94 108.73a1.30 1.30 0 1 0 2.60 0a1.30 1.30 0 1 0 -2.60 0M351.97 100.54a1.30 1.30 0 1 0 2.60 0a1.30 1.30 0 1 0 -2.60 0M352.57 101.80a1.30 1.30 0 1 0 2.60 0a1.30 1.30 0 1 0 -2.60 0M353.21 103.33a1.30 1.30 0 1 0 2.60 0a1.30 1.30 0 1 0 -2.60 0M354.16 99.87a1.30 1.30 0 1 0 2.60 0a1.30 1.30 0 1 0 -2.60 0M354.91 98.33a1.30 1.30 0 1 0 2.60 0a1.30 1.30 0 1 0 -2.60 0M355.82 97.70a1.30 1.30 0 1 0 2.60 0a1.30 1.30 0 1 0 -2.60 0M356.62 95.89a1.30 1.30 0 1 0 2.60 0a1.30 1.30 0 1 0 -2.60 0M357.93 94.16a1.30 1.30 0 1 0 2.60 0a1.30 1.30 0 1 0 -2.60 0M358.81 95.01a1.30 1.30 0 1 0 2.60 0a1.30 1.30 0 1 0 -2.60 0M359.75 89.92a1.30 1.30 0 1 0 2.60 0a1.30 1.30 0 1 0 -2.60 0M360.41 88.47a1.30 1.30 0 1 0 2.60 0a1.30 1.30 0 1 0 -2.60 0M361.95 86.55a1.30 1.30 0 1 0 2.60 0a1.30 1.30 0 1 0 -2.60 0M362.41 82.92a1.30 1.30 0 1 0 2.60 0a1.30 1.30 0 1 0 -2.60 0M363.78 78.18a1.30 1.30 0 1 0 2.60 0a1.30 1.30 0 1 0 -2.60 0M364.59 78.09a1.30 1.30 0 1 0 2.60 0a1.30 1.30 0 1 0 -2.60 0M366.00 79.89a1.30 1.30 0 1 0 2.60 0a1.30 1.30 0 1 0 -2.60 0M366.84 80.36a1.30 1.30 0 1 0 2.60 0a1.30 1.30 0 1 0 -2.60 0M367.94 78.35a1.30 1.30 0 1 0 2.60 0a1.30 1.30 0 1 0 -2.60 0M368.88 76.29a1.30 1.30 0 1 0 2.60 0a1.30 1.30 0 1 0 -2.60 0M369.95 73.15a1.30 1.30 0 1 0 2.60 0a1.30 1.30 0 1 0 -2.60 0M370.94 73.99a1.30 1.30 0 1 0 2.60 0a1.30 1.30 0 1 0 -2.60 0M371.92 79.98a1.30 1.30 0 1 0 2.60 0a1.30 1.30 0 1 0 -2.60 0M373.22 74.74a1.30 1.30 0 1 0 2.60 0a1.30 1.30 0 1 0 -2.60 0M374.34 80.28a1.30 1.30 0 1 0 2.60 0a1.30 1.30 0 1 0 -2.60 0M375.65 78.30a1.30 1.30 0 1 0 2.60 0a1.30 1.30 0 1 0 -2.60 0M376.97 79.84a1.30 1.30 0 1 0 2.60 0a1.30 1.30 0 1 0 -2.60 0M378.50 85.65a1.30 1.30 0 1 0 2.60 0a1.30 1.30 0 1 0 -2.60 0M379.73 86.86a1.30 1.30 0 1 0 2.60 0a1.30 1.30 0 1 0 -2.60 0M380.94 87.94a1.30 1.30 0 1 0 2.60 0a1.30 1.30 0 1 0 -2.60 0M382.15 89.38a1.30 1.30 0 1 0 2.60 0a1.30 1.30 0 1 0 -2.60 0M383.15 91.24a1.30 1.30 0 1 0 2.60 0a1.30 1.30 0 1 0 -2.60 0M384.85 99.80a1.30 1.30 0 1 0 2.60 0a1.30 1.30 0 1 0 -2.60 0M385.99 104.68a1.30 1.30 0 1 0 2.60 0a1.30 1.30 0 1 0 -2.60 0M387.14 105.99a1.30 1.30 0 1 0 2.60 0a1.30 1.30 0 1 0 -2.60 0M388.67 107.96a1.30 1.30 0 1 0 2.60 0a1.30 1.30 0 1 0 -2.60 0M390.15 109.40a1.30 1.30 0 1 0 2.60 0a1.30 1.30 0 1 0 -2.60 0M391.08 114.20a1.30 1.30 0 1 0 2.60 0a1.30 1.30 0 1 0 -2.60 0M392.61 116.77a1.30 1.30 0 1 0 2.60 0a1.30 1.30 0 1 0 -2.60 0M394.04 118.73a1.30 1.30 0 1 0 2.60 0a1.30 1.30 0 1 0 -2.60 0M395.20 121.11a1.30 1.30 0 1 0 2.60 0a1.30 1.30 0 1 0 -2.60 0M396.30 117.27a1.30 1.30 0 1 0 2.60 0a1.30 1.30 0 1 0 -2.60 0M397.80 123.72a1.30 1.30 0 1 0 2.60 0a1.30 1.30 0 1 0 -2.60 0M399.18 128.23a1.30 1.30 0 1 0 2.60 0a1.30 1.30 0 1 0 -2.60 0M399.90 130.01a1.30 1.30 0 1 0 2.60 0a1.30 1.30 0 1 0 -2.60 0M400.35 129.63a1.30 1.30 0 1 0 2.60 0a1.30 1.30 0 1 0 -2.60 0M400.84 126.78a1.30 1.30 0 1 0 2.60 0a1.30 1.30 0 1 0 -2.60 0M401.80 130.11a1.30 1.30 0 1 0 2.60 0a1.30 1.30 0 1 0 -2.60 0M402.46 130.49a1.30 1.30 0 1 0 2.60 0a1.30 1.30 0 1 0 -2.60 0M402.77 127.33a1.30 1.30 0 1 0 2.60 0a1.30 1.30 0 1 0 -2.60 0M403.35 123.46a1.30 1.30 0 1 0 2.60 0a1.30 1.30 0 1 0 -2.60 0M404.03 127.04a1.30 1.30 0 1 0 2.60 0a1.30 1.30 0 1 0 -2.60 0M404.80 129.26a1.30 1.30 0 1 0 2.60 0a1.30 1.30 0 1 0 -2.60 0M405.39 126.91a1.30 1.30 0 1 0 2.60 0a1.30 1.30 0 1 0 -2.60 0M406.35 126.88a1.30 1.30 0 1 0 2.60 0a1.30 1.30 0 1 0 -2.60 0M406.54 131.07a1.30 1.30 0 1 0 2.60 0a1.30 1.30 0 1 0 -2.60 0M407.17 128.37a1.30 1.30 0 1 0 2.60 0a1.30 1.30 0 1 0 -2.60 0M408.23 129.06a1.30 1.30 0 1 0 2.60 0a1.30 1.30 0 1 0 -2.60 0M408.79 128.12a1.30 1.30 0 1 0 2.60 0a1.30 1.30 0 1 0 -2.60 0M409.11 127.13a1.30 1.30 0 1 0 2.60 0a1.30 1.30 0 1 0 -2.60 0M409.83 132.15a1.30 1.30 0 1 0 2.60 0a1.30 1.30 0 1 0 -2.60 0M410.90 128.01a1.30 1.30 0 1 0 2.60 0a1.30 1.30 0 1 0 -2.60 0M411.19 128.59a1.30 1.30 0 1 0 2.60 0a1.30 1.30 0 1 0 -2.60 0M412.08 128.85a1.30 1.30 0 1 0 2.60 0a1.30 1.30 0 1 0 -2.60 0M412.62 128.91a1.30 1.30 0 1 0 2.60 0a1.30 1.30 0 1 0 -2.60 0M413.48 126.15a1.30 1.30 0 1 0 2.60 0a1.30 1.30 0 1 0 -2.60 0M414.23 125.97a1.30 1.30 0 1 0 2.60 0a1.30 1.30 0 1 0 -2.60 0M414.59 127.69a1.30 1.30 0 1 0 2.60 0a1.30 1.30 0 1 0 -2.60 0M415.06 126.89a1.30 1.30 0 1 0 2.60 0a1.30 1.30 0 1 0 -2.60 0M416.03 130.67a1.30 1.30 0 1 0 2.60 0a1.30 1.30 0 1 0 -2.60 0M416.36 128.32a1.30 1.30 0 1 0 2.60 0a1.30 1.30 0 1 0 -2.60 0M417.32 127.82a1.30 1.30 0 1 0 2.60 0a1.30 1.30 0 1 0 -2.60 0M417.86 130.07a1.30 1.30 0 1 0 2.60 0a1.30 1.30 0 1 0 -2.60 0M418.44 125.23a1.30 1.30 0 1 0 2.60 0a1.30 1.30 0 1 0 -2.60 0M419.33 125.53a1.30 1.30 0 1 0 2.60 0a1.30 1.30 0 1 0 -2.60 0M420.06 128.70a1.30 1.30 0 1 0 2.60 0a1.30 1.30 0 1 0 -2.60 0M420.58 127.35a1.30 1.30 0 1 0 2.60 0a1.30 1.30 0 1 0 -2.60 0M421.18 129.47a1.30 1.30 0 1 0 2.60 0a1.30 1.30 0 1 0 -2.60 0M422.00 129.53a1.30 1.30 0 1 0 2.60 0a1.30 1.30 0 1 0 -2.60 0M422.63 125.67a1.30 1.30 0 1 0 2.60 0a1.30 1.30 0 1 0 -2.60 0M423.23 129.65a1.30 1.30 0 1 0 2.60 0a1.30 1.30 0 1 0 -2.60 0M423.79 129.91a1.30 1.30 0 1 0 2.60 0a1.30 1.30 0 1 0 -2.60 0M424.17 126.70a1.30 1.30 0 1 0 2.60 0a1.30 1.30 0 1 0 -2.60 0M425.08 117.14a1.30 1.30 0 1 0 2.60 0a1.30 1.30 0 1 0 -2.60 0M425.78 113.20a1.30 1.30 0 1 0 2.60 0a1.30 1.30 0 1 0 -2.60 0M426.59 119.14a1.30 1.30 0 1 0 2.60 0a1.30 1.30 0 1 0 -2.60 0M427.24 123.23a1.30 1.30 0 1 0 2.60 0a1.30 1.30 0 1 0 -2.60 0M427.49 113.25a1.30 1.30 0 1 0 2.60 0a1.30 1.30 0 1 0 -2.60 0M428.50 116.60a1.30 1.30 0 1 0 2.60 0a1.30 1.30 0 1 0 -2.60 0M428.65 119.07a1.30 1.30 0 1 0 2.60 0a1.30 1.30 0 1 0 -2.60 0M429.51 115.62a1.30 1.30 0 1 0 2.60 0a1.30 1.30 0 1 0 -2.60 0M430.19 113.22a1.30 1.30 0 1 0 2.60 0a1.30 1.30 0 1 0 -2.60 0M430.57 115.98a1.30 1.30 0 1 0 2.60 0a1.30 1.30 0 1 0 -2.60 0M431.68 117.62a1.30 1.30 0 1 0 2.60 0a1.30 1.30 0 1 0 -2.60 0M431.95 116.32a1.30 1.30 0 1 0 2.60 0a1.30 1.30 0 1 0 -2.60 0M432.58 114.78a1.30 1.30 0 1 0 2.60 0a1.30 1.30 0 1 0 -2.60 0M433.24 120.96a1.30 1.30 0 1 0 2.60 0a1.30 1.30 0 1 0 -2.60 0M434.30 112.77a1.30 1.30 0 1 0 2.60 0a1.30 1.30 0 1 0 -2.60 0M434.86 116.39a1.30 1.30 0 1 0 2.60 0a1.30 1.30 0 1 0 -2.60 0M435.67 119.56a1.30 1.30 0 1 0 2.60 0a1.30 1.30 0 1 0 -2.60 0M435.80 115.58a1.30 1.30 0 1 0 2.60 0a1.30 1.30 0 1 0 -2.60 0M436.57 117.04a1.30 1.30 0 1 0 2.60 0a1.30 1.30 0 1 0 -2.60 0M437.49 119.48a1.30 1.30 0 1 0 2.60 0a1.30 1.30 0 1 0 -2.60 0M438.21 114.18a1.30 1.30 0 1 0 2.60 0a1.30 1.30 0 1 0 -2.60 0M438.69 113.64a1.30 1.30 0 1 0 2.60 0a1.30 1.30 0 1 0 -2.60 0M439.51 114.94a1.30 1.30 0 1 0 2.60 0a1.30 1.30 0 1 0 -2.60 0M440.19 118.10a1.30 1.30 0 1 0 2.60 0a1.30 1.30 0 1 0 -2.60 0M440.88 116.88a1.30 1.30 0 1 0 2.60 0a1.30 1.30 0 1 0 -2.60 0M441.26 120.28a1.30 1.30 0 1 0 2.60 0a1.30 1.30 0 1 0 -2.60 0M441.92 113.62a1.30 1.30 0 1 0 2.60 0a1.30 1.30 0 1 0 -2.60 0M442.55 114.20a1.30 1.30 0 1 0 2.60 0a1.30 1.30 0 1 0 -2.60 0M443.48 114.27a1.30 1.30 0 1 0 2.60 0a1.30 1.30 0 1 0 -2.60 0M443.86 114.14a1.30 1.30 0 1 0 2.60 0a1.30 1.30 0 1 0 -2.60 0M444.54 110.48a1.30 1.30 0 1 0 2.60 0a1.30 1.30 0 1 0 -2.60 0M445.14 116.73a1.30 1.30 0 1 0 2.60 0a1.30 1.30 0 1 0 -2.60 0M445.82 113.36a1.30 1.30 0 1 0 2.60 0a1.30 1.30 0 1 0 -2.60 0M446.40 112.50a1.30 1.30 0 1 0 2.60 0a1.30 1.30 0 1 0 -2.60 0M446.96 118.73a1.30 1.30 0 1 0 2.60 0a1.30 1.30 0 1 0 -2.60 0M447.73 111.10a1.30 1.30 0 1 0 2.60 0a1.30 1.30 0 1 0 -2.60 0M448.59 114.20a1.30 1.30 0 1 0 2.60 0a1.30 1.30 0 1 0 -2.60 0M449.29 113.78a1.30 1.30 0 1 0 2.60 0a1.30 1.30 0 1 0 -2.60 0M449.51 109.05a1.30 1.30 0 1 0 2.60 0a1.30 1.30 0 1 0 -2.60 0M450.42 111.08a1.30 1.30 0 1 0 2.60 0a1.30 1.30 0 1 0 -2.60 0M451.17 111.37a1.30 1.30 0 1 0 2.60 0a1.30 1.30 0 1 0 -2.60 0M451.36 108.86a1.30 1.30 0 1 0 2.60 0a1.30 1.30 0 1 0 -2.60 0M452.41 109.40a1.30 1.30 0 1 0 2.60 0a1.30 1.30 0 1 0 -2.60 0M452.84 109.71a1.30 1.30 0 1 0 2.60 0a1.30 1.30 0 1 0 -2.60 0M453.36 104.85a1.30 1.30 0 1 0 2.60 0a1.30 1.30 0 1 0 -2.60 0M454.39 108.96a1.30 1.30 0 1 0 2.60 0a1.30 1.30 0 1 0 -2.60 0M454.75 107.28a1.30 1.30 0 1 0 2.60 0a1.30 1.30 0 1 0 -2.60 0M455.37 106.06a1.30 1.30 0 1 0 2.60 0a1.30 1.30 0 1 0 -2.60 0M456.13 99.87a1.30 1.30 0 1 0 2.60 0a1.30 1.30 0 1 0 -2.60 0M456.80 100.64a1.30 1.30 0 1 0 2.60 0a1.30 1.30 0 1 0 -2.60 0M457.32 98.05a1.30 1.30 0 1 0 2.60 0a1.30 1.30 0 1 0 -2.60 0M458.23 101.60a1.30 1.30 0 1 0 2.60 0a1.30 1.30 0 1 0 -2.60 0M459.66 96.33a1.30 1.30 0 1 0 2.60 0a1.30 1.30 0 1 0 -2.60 0M460.82 90.87a1.30 1.30 0 1 0 2.60 0a1.30 1.30 0 1 0 -2.60 0M462.19 86.86a1.30 1.30 0 1 0 2.60 0a1.30 1.30 0 1 0 -2.60 0M463.54 79.23a1.30 1.30 0 1 0 2.60 0a1.30 1.30 0 1 0 -2.60 0M464.54 75.04a1.30 1.30 0 1 0 2.60 0a1.30 1.30 0 1 0 -2.60 0M466.20 67.73a1.30 1.30 0 1 0 2.60 0a1.30 1.30 0 1 0 -2.60 0M467.48 63.98a1.30 1.30 0 1 0 2.60 0a1.30 1.30 0 1 0 -2.60 0M468.33 62.39a1.30 1.30 0 1 0 2.60 0a1.30 1.30 0 1 0 -2.60 0M469.71 52.04a1.30 1.30 0 1 0 2.60 0a1.30 1.30 0 1 0 -2.60 0M470.91 48.69a1.30 1.30 0 1 0 2.60 0a1.30 1.30 0 1 0 -2.60 0M472.62 42.22a1.30 1.30 0 1 0 2.60 0a1.30 1.30 0 1 0 -2.60 0M473.53 36.23a1.30 1.30 0 1 0 2.60 0a1.30 1.30 0 1 0 -2.60 0M474.76 33.11a1.30 1.30 0 1 0 2.60 0a1.30 1.30 0 1 0 -2.60 0M476.17 34.91a1.30 1.30 0 1 0 2.60 0a1.30 1.30 0 1 0 -2.60 0M477.93 33.80a1.30 1.30 0 1 0 2.60 0a1.30 1.30 0 1 0 -2.60 0M479.02 34.74a1.30 1.30 0 1 0 2.60 0a1.30 1.30 0 1 0 -2.60 0M480.85 39.46a1.30 1.30 0 1 0 2.60 0a1.30 1.30 0 1 0 -2.60 0M482.56 47.49a1.30 1.30 0 1 0 2.60 0a1.30 1.30 0 1 0 -2.60 0M483.81 54.84a1.30 1.30 0 1 0 2.60 0a1.30 1.30 0 1 0 -2.60 0M485.37 63.05a1.30 1.30 0 1 0 2.60 0a1.30 1.30 0 1 0 -2.60 0M487.29 69.28a1.30 1.30 0 1 0 2.60 0a1.30 1.30 0 1 0 -2.60 0M488.64 78.79a1.30 1.30 0 1 0 2.60 0a1.30 1.30 0 1 0 -2.60 0M490.65 88.19a1.30 1.30 0 1 0 2.60 0a1.30 1.30 0 1 0 -2.60 0M492.34 97.28a1.30 1.30 0 1 0 2.60 0a1.30 1.30 0 1 0 -2.60 0M493.39 105.71a1.30 1.30 0 1 0 2.60 0a1.30 1.30 0 1 0 -2.60 0M495.52 113.54a1.30 1.30 0 1 0 2.60 0a1.30 1.30 0 1 0 -2.60 0M496.75 118.13a1.30 1.30 0 1 0 2.60 0a1.30 1.30 0 1 0 -2.60 0M498.63 129.51a1.30 1.30 0 1 0 2.60 0a1.30 1.30 0 1 0 -2.60 0M500.51 133.93a1.30 1.30 0 1 0 2.60 0a1.30 1.30 0 1 0 -2.60 0M501.96 138.06a1.30 1.30 0 1 0 2.60 0a1.30 1.30 0 1 0 -2.60 0M503.06 138.83a1.30 1.30 0 1 0 2.60 0a1.30 1.30 0 1 0 -2.60 0M504.22 137.27a1.30 1.30 0 1 0 2.60 0a1.30 1.30 0 1 0 -2.60 0M505.07 143.33a1.30 1.30 0 1 0 2.60 0a1.30 1.30 0 1 0 -2.60 0M506.05 142.15a1.30 1.30 0 1 0 2.60 0a1.30 1.30 0 1 0 -2.60 0M507.49 145.49a1.30 1.30 0 1 0 2.60 0a1.30 1.30 0 1 0 -2.60 0M508.43 146.96a1.30 1.30 0 1 0 2.60 0a1.30 1.30 0 1 0 -2.60 0M509.33 146.48a1.30 1.30 0 1 0 2.60 0a1.30 1.30 0 1 0 -2.60 0M510.19 143.83a1.30 1.30 0 1 0 2.60 0a1.30 1.30 0 1 0 -2.60 0M511.54 147.05a1.30 1.30 0 1 0 2.60 0a1.30 1.30 0 1 0 -2.60 0M512.43 148.43a1.30 1.30 0 1 0 2.60 0a1.30 1.30 0 1 0 -2.60 0M513.40 150.56a1.30 1.30 0 1 0 2.60 0a1.30 1.30 0 1 0 -2.60 0M514.42 157.14a1.30 1.30 0 1 0 2.60 0a1.30 1.30 0 1 0 -2.60 0M515.49 153.00a1.30 1.30 0 1 0 2.60 0a1.30 1.30 0 1 0 -2.60 0M516.48 149.99a1.30 1.30 0 1 0 2.60 0a1.30 1.30 0 1 0 -2.60 0M517.41 151.37a1.30 1.30 0 1 0 2.60 0a1.30 1.30 0 1 0 -2.60 0M518.19 149.12a1.30 1.30 0 1 0 2.60 0a1.30 1.30 0 1 0 -2.60 0M519.16 153.51a1.30 1.30 0 1 0 2.60 0a1.30 1.30 0 1 0 -2.60 0M520.23 153.06a1.30 1.30 0 1 0 2.60 0a1.30 1.30 0 1 0 -2.60 0M521.33 156.82a1.30 1.30 0 1 0 2.60 0a1.30 1.30 0 1 0 -2.60 0M522.32 154.87a1.30 1.30 0 1 0 2.60 0a1.30 1.30 0 1 0 -2.60 0M523.35 155.73a1.30 1.30 0 1 0 2.60 0a1.30 1.30 0 1 0 -2.60 0M524.15 161.54a1.30 1.30 0 1 0 2.60 0a1.30 1.30 0 1 0 -2.60 0M525.27 153.81a1.30 1.30 0 1 0 2.60 0a1.30 1.30 0 1 0 -2.60 0M526.18 153.06a1.30 1.30 0 1 0 2.60 0a1.30 1.30 0 1 0 -2.60 0M527.37 159.91a1.30 1.30 0 1 0 2.60 0a1.30 1.30 0 1 0 -2.60 0M528.41 156.45a1.30 1.30 0 1 0 2.60 0a1.30 1.30 0 1 0 -2.60 0M529.32 157.27a1.30 1.30 0 1 0 2.60 0a1.30 1.30 0 1 0 -2.60 0M530.39 156.89a1.30 1.30 0 1 0 2.60 0a1.30 1.30 0 1 0 -2.60 0M530.98 157.08a1.30 1.30 0 1 0 2.60 0a1.30 1.30 0 1 0 -2.60 0M372.20 66.50a1.30 1.30 0 1 0 2.60 0a1.30 1.30 0 1 0 -2.60 0M374.20 70.00a1.30 1.30 0 1 0 2.60 0a1.30 1.30 0 1 0 -2.60 0M370.50 73.00a1.30 1.30 0 1 0 2.60 0a1.30 1.30 0 1 0 -2.60 0M375.50 74.50a1.30 1.30 0 1 0 2.60 0a1.30 1.30 0 1 0 -2.60 0" fill="none" stroke="#2a2a2a" stroke-width="0.70"/>
<rect x="311.10" y="9.40" width="222.65" height="177.90" fill="none" stroke="#262626" stroke-width="1.45"/>
<line x1="311.10" y1="187.30" x2="311.10" y2="190.60" stroke="#262626" stroke-width="1.20"/>
<text transform="translate(311.10 201.90) scale(1.000 1.170)" text-anchor="middle" style="font-family:'Liberation Serif',serif;font-weight:bold;font-size:10.75px;fill:#000;stroke:#000;stroke-width:0.22px">660</text>
<line x1="355.65" y1="187.30" x2="355.65" y2="190.60" stroke="#262626" stroke-width="1.20"/>
<text transform="translate(355.65 201.90) scale(1.000 1.170)" text-anchor="middle" style="font-family:'Liberation Serif',serif;font-weight:bold;font-size:10.75px;fill:#000;stroke:#000;stroke-width:0.22px">655</text>
<line x1="400.20" y1="187.30" x2="400.20" y2="190.60" stroke="#262626" stroke-width="1.20"/>
<text transform="translate(400.20 201.90) scale(1.000 1.170)" text-anchor="middle" style="font-family:'Liberation Serif',serif;font-weight:bold;font-size:10.75px;fill:#000;stroke:#000;stroke-width:0.22px">650</text>
<line x1="444.75" y1="187.30" x2="444.75" y2="190.60" stroke="#262626" stroke-width="1.20"/>
<text transform="translate(444.75 201.90) scale(1.000 1.170)" text-anchor="middle" style="font-family:'Liberation Serif',serif;font-weight:bold;font-size:10.75px;fill:#000;stroke:#000;stroke-width:0.22px">645</text>
<line x1="489.30" y1="187.30" x2="489.30" y2="190.60" stroke="#262626" stroke-width="1.20"/>
<text transform="translate(489.30 201.90) scale(1.000 1.170)" text-anchor="middle" style="font-family:'Liberation Serif',serif;font-weight:bold;font-size:10.75px;fill:#000;stroke:#000;stroke-width:0.22px">640</text>
<line x1="533.85" y1="187.30" x2="533.85" y2="190.60" stroke="#262626" stroke-width="1.20"/>
<text transform="translate(533.85 201.90) scale(1.000 1.170)" text-anchor="middle" style="font-family:'Liberation Serif',serif;font-weight:bold;font-size:10.75px;fill:#000;stroke:#000;stroke-width:0.22px">635</text>
<line x1="333.38" y1="187.30" x2="333.38" y2="189.30" stroke="#262626" stroke-width="1.00"/>
<line x1="377.93" y1="187.30" x2="377.93" y2="189.30" stroke="#262626" stroke-width="1.00"/>
<line x1="422.48" y1="187.30" x2="422.48" y2="189.30" stroke="#262626" stroke-width="1.00"/>
<line x1="467.03" y1="187.30" x2="467.03" y2="189.30" stroke="#262626" stroke-width="1.00"/>
<line x1="511.58" y1="187.30" x2="511.58" y2="189.30" stroke="#262626" stroke-width="1.00"/>
<text transform="translate(289.50 27.50) scale(1.000 1.080)" style="font-family:'Liberation Serif',serif;font-weight:bold;font-size:26.00px;fill:#000;stroke:#000;stroke-width:0.22px">b</text>
<text transform="translate(422.60 222.70) scale(1.000 1.080)" text-anchor="middle" style="font-family:'Liberation Serif',serif;font-weight:bold;font-size:11.95px;fill:#000;stroke:#000;stroke-width:0.22px">Binding Energy (eV)</text>
<text transform="translate(301.40 98.00) rotate(-90) scale(1.083 1.000)" text-anchor="middle" style="font-family:'Liberation Serif',serif;font-weight:bold;font-size:11.00px;fill:#000;stroke:#000;stroke-width:0.22px">Intensity (a.u.)</text>
<text transform="translate(315.30 22.50)" style="font-family:'Liberation Serif',serif;font-weight:bold;font-size:9.60px;fill:#000;stroke:#000;stroke-width:0.22px">Mn 2p</text>
<text x="357.0" y="47.9" style="font-family:'Liberation Serif',serif;font-weight:bold;font-size:9.4px;stroke:#000;stroke-width:0.22px">Mn 2p<tspan dy="3.0" style="font-size:6.0px">1/2</tspan></text>
<text transform="translate(357.00 61.50) scale(1.000 1.030)" style="font-family:'Liberation Serif',serif;font-weight:bold;font-size:9.00px;fill:#000;stroke:#000;stroke-width:0.22px">653.95 eV</text>
<text x="488.8" y="39.6" style="font-family:'Liberation Serif',serif;font-weight:bold;font-size:9.4px;stroke:#000;stroke-width:0.22px">Mn 2p<tspan dy="2.3" style="font-size:6.0px">3/2</tspan></text>
<text transform="translate(491.20 52.90) scale(1.000 1.030)" style="font-family:'Liberation Serif',serif;font-weight:bold;font-size:9.00px;fill:#000;stroke:#000;stroke-width:0.22px">642 eV</text>
<path d="M62.00 373.44 L62.50 373.44 L63.00 373.45 L63.50 373.45 L64.00 373.45 L64.50 373.46 L65.00 373.46 L65.50 373.47 L66.00 373.47 L66.50 373.47 L67.00 373.48 L67.50 373.48 L68.00 373.49 L68.50 373.49 L69.00 373.49 L69.50 373.50 L70.00 373.50 L70.50 373.50 L71.00 373.51 L71.50 373.51 L72.00 373.52 L72.50 373.52 L73.00 373.53 L73.50 373.53 L74.00 373.54 L74.50 373.54 L75.00 373.55 L75.50 373.55 L76.00 373.56 L76.50 373.56 L77.00 373.57 L77.50 373.57 L78.00 373.57 L78.50 373.57 L79.00 373.58 L79.50 373.58 L80.00 373.57 L80.50 373.57 L81.00 373.57 L81.50 373.56 L82.00 373.56 L82.50 373.55 L83.00 373.54 L83.50 373.52 L84.00 373.50 L84.50 373.48 L85.00 373.46 L85.50 373.43 L86.00 373.40 L86.50 373.36 L87.00 373.32 L87.50 373.27 L88.00 373.22 L88.50 373.15 L89.00 373.08 L89.50 373.01 L90.00 372.92 L90.50 372.83 L91.00 372.72 L91.50 372.60 L92.00 372.47 L92.50 372.33 L93.00 372.17 L93.50 372.00 L94.00 371.82 L94.50 371.61 L95.00 371.39 L95.50 371.15 L96.00 370.88 L96.50 370.60 L97.00 370.29 L97.50 369.96 L98.00 369.60 L98.50 369.21 L99.00 368.80 L99.50 368.35 L100.00 367.88 L100.50 367.37 L101.00 366.83 L101.50 366.26 L102.00 365.65 L102.50 365.01 L103.00 364.33 L103.50 363.61 L104.00 362.85 L104.50 362.05 L105.00 361.20 L105.50 360.30 L106.00 359.36 L106.50 358.37 L107.00 357.33 L107.50 356.24 L108.00 355.10 L108.50 353.90 L109.00 352.65 L109.50 351.34 L110.00 349.98 L110.50 348.56 L111.00 347.08 L111.50 345.54 L112.00 343.95 L112.50 342.30 L113.00 340.60 L113.50 338.84 L114.00 337.03 L114.50 335.16 L115.00 333.24 L115.50 331.27 L116.00 329.25 L116.50 327.18 L117.00 325.07 L117.50 322.92 L118.00 320.73 L118.50 318.51 L119.00 316.25 L119.50 313.96 L120.00 311.65 L120.50 309.32 L121.00 306.98 L121.50 304.63 L122.00 302.28 L122.50 299.94 L123.00 297.60 L123.50 295.27 L124.00 292.96 L124.50 290.68 L125.00 288.42 L125.50 286.20 L126.00 284.02 L126.50 281.89 L127.00 279.80 L127.50 277.77 L128.00 275.81 L128.50 273.91 L129.00 272.08 L129.50 270.33 L130.00 268.67 L130.50 267.09 L131.00 265.61 L131.50 264.22 L132.00 262.93 L132.50 261.75 L133.00 260.68 L133.50 259.72 L134.00 258.88 L134.50 258.15 L135.00 257.54 L135.50 257.06 L136.00 256.70 L136.50 256.46 L137.00 256.35 L137.50 256.37 L138.00 256.51 L138.50 256.76 L139.00 257.13 L139.50 257.62 L140.00 258.22 L140.50 258.94 L141.00 259.77 L141.50 260.72 L142.00 261.78 L142.50 262.94 L143.00 264.21 L143.50 265.58 L144.00 267.05 L144.50 268.62 L145.00 270.27 L145.50 272.00 L146.00 273.82 L146.50 275.71 L147.00 277.67 L147.50 279.70 L148.00 281.78 L148.50 283.92 L149.00 286.11 L149.50 288.35 L150.00 290.62 L150.50 292.92 L151.00 295.25 L151.50 297.61 L152.00 299.98 L152.50 302.37 L153.00 304.76 L153.50 307.15 L154.00 309.54 L154.50 311.93 L155.00 314.30 L155.50 316.65 L156.00 318.99 L156.50 321.31 L157.00 323.60 L157.50 325.87 L158.00 328.10 L158.50 330.30 L159.00 332.46 L159.50 334.58 L160.00 336.66 L160.50 338.69 L161.00 340.68 L161.50 342.62 L162.00 344.50 L162.50 346.34 L163.00 348.13 L163.50 349.86 L164.00 351.54 L164.50 353.16 L165.00 354.73 L165.50 356.25 L166.00 357.71 L166.50 359.11 L167.00 360.46 L167.50 361.76 L168.00 363.01 L168.50 364.20 L169.00 365.34 L169.50 366.43 L170.00 367.47 L170.50 368.46 L171.00 369.40 L171.50 370.30 L172.00 371.15 L172.50 371.96 L173.00 372.72 L173.50 373.45 L174.00 374.13 L174.50 374.78 L175.00 375.39 L175.50 375.96 L176.00 376.50 L176.50 377.01 L177.00 377.49 L177.50 377.93 L178.00 378.35 L178.50 378.74 L179.00 379.11 L179.50 379.45 L180.00 379.77 L180.50 380.07 L181.00 380.34 L181.50 380.60 L182.00 380.84 L182.50 381.06 L183.00 381.26 L183.50 381.45 L184.00 381.63 L184.50 381.79 L185.00 381.94 L185.50 382.08 L186.00 382.20 L186.50 382.32 L187.00 382.43 L187.50 382.53 L188.00 382.62 L188.50 382.70 L189.00 382.78 L189.50 382.84 L190.00 382.91 L190.50 382.97 L191.00 383.02 L191.50 383.07 L192.00 383.11 L192.50 383.15 L193.00 383.19 L193.50 383.22 L194.00 383.25 L194.50 383.27 L195.00 383.30 L195.50 383.32 L196.00 383.34 L196.50 383.36 L197.00 383.38 L197.50 383.39 L198.00 383.41 L198.50 383.42 L199.00 383.43 L199.50 383.44 L200.00 383.45 L200.50 383.46 L201.00 383.46 L201.50 383.47 L202.00 383.48 L202.50 383.48 L203.00 383.49 L203.50 383.49 L204.00 383.50 L204.50 383.50 L205.00 383.50 L205.50 383.51 L206.00 383.51 L206.50 383.51 L207.00 383.52 L207.50 383.52 L208.00 383.52 L208.50 383.52 L209.00 383.53 L209.50 383.53 L210.00 383.53 L210.50 383.53 L211.00 383.53 L211.50 383.53 L212.00 383.54 L212.50 383.54 L213.00 383.54 L213.50 383.54 L214.00 383.54 L214.50 383.54 L215.00 383.54 L215.50 383.55 L216.00 383.55 L216.50 383.55 L217.00 383.55 L217.50 383.55 L218.00 383.55 L218.50 383.55 L219.00 383.55 L219.50 383.56 L220.00 383.56 L220.50 383.56 L221.00 383.56 L221.50 383.56 L222.00 383.56 L222.50 383.56 L223.00 383.56 L223.50 383.56 L224.00 383.57 L224.50 383.57 L225.00 383.57 L225.50 383.57 L226.00 383.57 L226.50 383.57 L227.00 383.57 L227.50 383.57 L228.00 383.57 L228.50 383.57 L229.00 383.57 L229.50 383.58 L230.00 383.58 L230.50 383.58 L231.00 383.58 L231.50 383.58 L232.00 383.58 L232.50 383.58 L233.00 383.58 L233.50 383.58 L234.00 383.58 L234.50 383.58 L235.00 383.58 L235.50 383.58 L236.00 383.59 L236.50 383.59 L237.00 383.59 L237.50 383.59 L238.00 383.59 L238.50 383.59 L239.00 383.59 L239.50 383.59 L240.00 383.59 L240.50 383.59 L241.00 383.59 L241.50 383.59 L242.00 383.59 L242.50 383.59 L243.00 383.59 L243.50 383.59 L244.00 383.59 L244.50 383.60 L245.00 383.60 L245.50 383.60 L246.00 383.60 L246.50 383.60 L247.00 383.60 L247.50 383.60 L248.00 383.60 L248.50 383.60 L249.00 383.60 L249.50 383.60 L250.00 383.60 L250.50 383.60 L251.00 383.60 L251.50 383.60 L252.00 383.60 L252.50 383.60 L253.00 383.60 L253.50 383.60 L254.00 383.60 L254.50 383.60 L255.00 383.60 L255.50 383.60 L255.50 383.60 L255.00 383.60 L254.50 383.60 L254.00 383.60 L253.50 383.60 L253.00 383.60 L252.50 383.60 L252.00 383.60 L251.50 383.60 L251.00 383.60 L250.50 383.60 L250.00 383.60 L249.50 383.60 L249.00 383.60 L248.50 383.60 L248.00 383.60 L247.50 383.60 L247.00 383.60 L246.50 383.60 L246.00 383.60 L245.50 383.60 L245.00 383.60 L244.50 383.60 L244.00 383.59 L243.50 383.59 L243.00 383.59 L242.50 383.59 L242.00 383.59 L241.50 383.59 L241.00 383.59 L240.50 383.59 L240.00 383.59 L239.50 383.59 L239.00 383.59 L238.50 383.59 L238.00 383.59 L237.50 383.59 L237.00 383.59 L236.50 383.59 L236.00 383.59 L235.50 383.58 L235.00 383.58 L234.50 383.58 L234.00 383.58 L233.50 383.58 L233.00 383.58 L232.50 383.58 L232.00 383.58 L231.50 383.58 L231.00 383.58 L230.50 383.58 L230.00 383.58 L229.50 383.58 L229.00 383.57 L228.50 383.57 L228.00 383.57 L227.50 383.57 L227.00 383.57 L226.50 383.57 L226.00 383.57 L225.50 383.57 L225.00 383.57 L224.50 383.57 L224.00 383.57 L223.50 383.56 L223.00 383.56 L222.50 383.56 L222.00 383.56 L221.50 383.56 L221.00 383.56 L220.50 383.56 L220.00 383.56 L219.50 383.56 L219.00 383.55 L218.50 383.55 L218.00 383.55 L217.50 383.55 L217.00 383.55 L216.50 383.55 L216.00 383.55 L215.50 383.55 L215.00 383.55 L214.50 383.54 L214.00 383.54 L213.50 383.54 L213.00 383.54 L212.50 383.54 L212.00 383.54 L211.50 383.54 L211.00 383.54 L210.50 383.54 L210.00 383.53 L209.50 383.53 L209.00 383.53 L208.50 383.53 L208.00 383.53 L207.50 383.53 L207.00 383.53 L206.50 383.53 L206.00 383.52 L205.50 383.52 L205.00 383.52 L204.50 383.52 L204.00 383.52 L203.50 383.52 L203.00 383.52 L202.50 383.52 L202.00 383.51 L201.50 383.51 L201.00 383.51 L200.50 383.51 L200.00 383.51 L199.50 383.51 L199.00 383.51 L198.50 383.51 L198.00 383.50 L197.50 383.50 L197.00 383.50 L196.50 383.50 L196.00 383.50 L195.50 383.50 L195.00 383.50 L194.50 383.49 L194.00 383.49 L193.50 383.49 L193.00 383.49 L192.50 383.49 L192.00 383.49 L191.50 383.49 L191.00 383.49 L190.50 383.49 L190.00 383.48 L189.50 383.48 L189.00 383.48 L188.50 383.48 L188.00 383.48 L187.50 383.48 L187.00 383.48 L186.50 383.48 L186.00 383.47 L185.50 383.47 L185.00 383.47 L184.50 383.47 L184.00 383.47 L183.50 383.47 L183.00 383.47 L182.50 383.46 L182.00 383.46 L181.50 383.46 L181.00 383.46 L180.50 383.46 L180.00 383.46 L179.50 383.45 L179.00 383.45 L178.50 383.45 L178.00 383.45 L177.50 383.45 L177.00 383.45 L176.50 383.44 L176.00 383.44 L175.50 383.44 L175.00 383.44 L174.50 383.44 L174.00 383.43 L173.50 383.43 L173.00 383.43 L172.50 383.43 L172.00 383.42 L171.50 383.42 L171.00 383.42 L170.50 383.42 L170.00 383.41 L169.50 383.41 L169.00 383.41 L168.50 383.41 L168.00 383.40 L167.50 383.40 L167.00 383.40 L166.50 383.39 L166.00 383.39 L165.50 383.39 L165.00 383.38 L164.50 383.38 L164.00 383.38 L163.50 383.37 L163.00 383.37 L162.50 383.37 L162.00 383.36 L161.50 383.36 L161.00 383.36 L160.50 383.35 L160.00 383.35 L159.50 383.34 L159.00 383.34 L158.50 383.33 L158.00 383.33 L157.50 383.32 L157.00 383.32 L156.50 383.32 L156.00 383.31 L155.50 383.31 L155.00 383.30 L154.50 383.29 L154.00 383.28 L153.50 383.27 L153.00 383.26 L152.50 383.24 L152.00 383.22 L151.50 383.19 L151.00 383.17 L150.50 383.14 L150.00 383.11 L149.50 383.08 L149.00 383.04 L148.50 383.01 L148.00 382.97 L147.50 382.93 L147.00 382.89 L146.50 382.85 L146.00 382.80 L145.50 382.76 L145.00 382.71 L144.50 382.66 L144.00 382.61 L143.50 382.56 L143.00 382.51 L142.50 382.46 L142.00 382.41 L141.50 382.36 L141.00 382.31 L140.50 382.25 L140.00 382.20 L139.50 382.14 L139.00 382.08 L138.50 382.02 L138.00 381.94 L137.50 381.87 L137.00 381.79 L136.50 381.70 L136.00 381.61 L135.50 381.52 L135.00 381.42 L134.50 381.32 L134.00 381.22 L133.50 381.11 L133.00 381.00 L132.50 380.89 L132.00 380.78 L131.50 380.66 L131.00 380.54 L130.50 380.42 L130.00 380.30 L129.50 380.18 L129.00 380.06 L128.50 379.94 L128.00 379.82 L127.50 379.69 L127.00 379.57 L126.50 379.45 L126.00 379.33 L125.50 379.20 L125.00 379.09 L124.50 378.97 L124.00 378.85 L123.50 378.73 L123.00 378.62 L122.50 378.51 L122.00 378.40 L121.50 378.30 L121.00 378.19 L120.50 378.10 L120.00 378.00 L119.50 377.91 L119.00 377.81 L118.50 377.71 L118.00 377.61 L117.50 377.51 L117.00 377.41 L116.50 377.31 L116.00 377.20 L115.50 377.10 L115.00 377.00 L114.50 376.89 L114.00 376.79 L113.50 376.69 L113.00 376.58 L112.50 376.48 L112.00 376.38 L111.50 376.28 L111.00 376.18 L110.50 376.08 L110.00 375.98 L109.50 375.89 L109.00 375.80 L108.50 375.70 L108.00 375.61 L107.50 375.53 L107.00 375.44 L106.50 375.36 L106.00 375.28 L105.50 375.20 L105.00 375.13 L104.50 375.06 L104.00 374.99 L103.50 374.93 L103.00 374.87 L102.50 374.81 L102.00 374.76 L101.50 374.71 L101.00 374.67 L100.50 374.63 L100.00 374.60 L99.50 374.57 L99.00 374.54 L98.50 374.51 L98.00 374.48 L97.50 374.45 L97.00 374.42 L96.50 374.39 L96.00 374.37 L95.50 374.34 L95.00 374.31 L94.50 374.29 L94.00 374.26 L93.50 374.23 L93.00 374.21 L92.50 374.19 L92.00 374.16 L91.50 374.14 L91.00 374.11 L90.50 374.09 L90.00 374.07 L89.50 374.05 L89.00 374.02 L88.50 374.00 L88.00 373.98 L87.50 373.96 L87.00 373.94 L86.50 373.92 L86.00 373.90 L85.50 373.88 L85.00 373.86 L84.50 373.85 L84.00 373.83 L83.50 373.81 L83.00 373.80 L82.50 373.78 L82.00 373.76 L81.50 373.75 L81.00 373.73 L80.50 373.72 L80.00 373.70 L79.50 373.69 L79.00 373.68 L78.50 373.66 L78.00 373.65 L77.50 373.64 L77.00 373.63 L76.50 373.62 L76.00 373.61 L75.50 373.60 L75.00 373.59 L74.50 373.58 L74.00 373.57 L73.50 373.56 L73.00 373.55 L72.50 373.54 L72.00 373.54 L71.50 373.53 L71.00 373.52 L70.50 373.52 L70.00 373.51 L69.50 373.50 L69.00 373.50 L68.50 373.50 L68.00 373.49 L67.50 373.49 L67.00 373.48 L66.50 373.48 L66.00 373.47 L65.50 373.47 L65.00 373.46 L64.50 373.46 L64.00 373.46 L63.50 373.45 L63.00 373.45 L62.50 373.44 L62.00 373.44Z" fill="url(#glav)"/>
<path d="M95.00 371.39 L95.50 371.15 L96.00 370.88 L96.50 370.60 L97.00 370.29 L97.50 369.96 L98.00 369.60 L98.50 369.21 L99.00 368.80 L99.50 368.35 L100.00 367.88 L100.50 367.37 L101.00 366.83 L101.50 366.26 L102.00 365.65 L102.50 365.01 L103.00 364.33 L103.50 363.61 L104.00 362.85 L104.50 362.05 L105.00 361.20 L105.50 360.30 L106.00 359.36 L106.50 358.37 L107.00 357.33 L107.50 356.24 L108.00 355.10 L108.50 353.90 L109.00 352.65 L109.50 351.34 L110.00 349.98 L110.50 348.56 L111.00 347.08 L111.50 345.54 L112.00 343.95 L112.50 342.30 L113.00 340.60 L113.50 338.84 L114.00 337.03 L114.50 335.16 L115.00 333.24 L115.50 331.27 L116.00 329.25 L116.50 327.18 L117.00 325.07 L117.50 322.92 L118.00 320.73 L118.50 318.51 L119.00 316.25 L119.50 313.96 L120.00 311.65 L120.50 309.32 L121.00 306.98 L121.50 304.63 L122.00 302.28 L122.50 299.94 L123.00 297.60 L123.50 295.27 L124.00 292.96 L124.50 290.68 L125.00 288.42 L125.50 286.20 L126.00 284.02 L126.50 281.89 L127.00 279.80 L127.50 277.77 L128.00 275.81 L128.50 273.91 L129.00 272.08 L129.50 270.33 L130.00 268.67 L130.50 267.09 L131.00 265.61 L131.50 264.22 L132.00 262.93 L132.50 261.75 L133.00 260.68 L133.50 259.72 L134.00 258.88 L134.50 258.15 L135.00 257.54 L135.50 257.06 L136.00 256.70 L136.50 256.46 L137.00 256.35 L137.50 256.37 L138.00 256.51 L138.50 256.76 L139.00 257.13 L139.50 257.62 L140.00 258.22 L140.50 258.94 L141.00 259.77 L141.50 260.72 L142.00 261.78 L142.50 262.94 L143.00 264.21 L143.50 265.58 L144.00 267.05 L144.50 268.62 L145.00 270.27 L145.50 272.00 L146.00 273.82 L146.50 275.71 L147.00 277.67 L147.50 279.70 L148.00 281.78 L148.50 283.92 L149.00 286.11 L149.50 288.35 L150.00 290.62 L150.50 292.92 L151.00 295.25 L151.50 297.61 L152.00 299.98 L152.50 302.37 L153.00 304.76 L153.50 307.15 L154.00 309.54 L154.50 311.93 L155.00 314.30 L155.50 316.65 L156.00 318.99 L156.50 321.31 L157.00 323.60 L157.50 325.87 L158.00 328.10 L158.50 330.30 L159.00 332.46 L159.50 334.58 L160.00 336.66 L160.50 338.69 L161.00 340.68 L161.50 342.62 L162.00 344.50 L162.50 346.34 L163.00 348.13 L163.50 349.86 L164.00 351.54 L164.50 353.16 L165.00 354.73 L165.50 356.25 L166.00 357.71 L166.50 359.11 L167.00 360.46 L167.50 361.76 L168.00 363.01 L168.50 364.20 L169.00 365.34 L169.50 366.43 L170.00 367.47 L170.50 368.46 L171.00 369.40 L171.50 370.30 L172.00 371.15 L172.50 371.96 L173.00 372.72 L173.50 373.45 L174.00 374.13 L174.50 374.78 L175.00 375.39 L175.50 375.96 L176.00 376.50 L176.50 377.01 L177.00 377.49 L177.50 377.93 L178.00 378.35 L178.50 378.74 L179.00 379.11 L179.50 379.45 L180.00 379.77 L180.50 380.07 L181.00 380.34 L181.50 380.60 L182.00 380.84 L182.50 381.06 L183.00 381.26 L183.50 381.45 L184.00 381.63 L184.50 381.79 L185.00 381.94 L185.50 382.08 L186.00 382.20 L186.50 382.32 L187.00 382.43 L187.50 382.53 L188.00 382.62 L188.50 382.70 L189.00 382.78 L189.50 382.84 L190.00 382.91 L190.50 382.97 L191.00 383.02 L191.50 383.07 L192.00 383.11 L192.50 383.15 L193.00 383.19 L193.50 383.22 L194.00 383.25 L194.50 383.27 L195.00 383.30 L195.50 383.32 L196.00 383.34 L196.50 383.36 L197.00 383.38 L197.50 383.39 L198.00 383.41 L198.50 383.42 L199.00 383.43 L199.50 383.44 L200.00 383.45 L200.50 383.46 L201.00 383.46 L201.50 383.47 L202.00 383.48 L202.50 383.48 L203.00 383.49 L203.50 383.49 L204.00 383.50 L204.50 383.50 L205.00 383.50 L205.50 383.51 L206.00 383.51 L206.50 383.51 L207.00 383.52 L207.50 383.52 L208.00 383.52 L208.50 383.52 L209.00 383.53 L209.50 383.53 L210.00 383.53 L210.50 383.53 L211.00 383.53 L211.50 383.53 L212.00 383.54 L212.50 383.54 L213.00 383.54 L213.50 383.54 L214.00 383.54 L214.50 383.54 L215.00 383.54 L215.50 383.55 L216.00 383.55 L216.50 383.55 L217.00 383.55 L217.50 383.55 L218.00 383.55 L218.50 383.55 L219.00 383.55 L219.50 383.56 L220.00 383.56 L220.50 383.56 L221.00 383.56 L221.50 383.56 L222.00 383.56 L222.50 383.56 L223.00 383.56 L223.50 383.56 L224.00 383.57 L224.50 383.57 L225.00 383.57 L225.50 383.57 L226.00 383.57 L226.50 383.57 L227.00 383.57 L227.50 383.57 L228.00 383.57 L228.50 383.57 L229.00 383.57 L229.50 383.58 L230.00 383.58 L230.50 383.58 L231.00 383.58 L231.50 383.58 L232.00 383.58 L232.50 383.58 L233.00 383.58 L233.50 383.58 L234.00 383.58 L234.50 383.58 L235.00 383.58 L235.50 383.58 L236.00 383.59 L236.50 383.59 L237.00 383.59 L237.50 383.59 L238.00 383.59 L238.50 383.59 L239.00 383.59 L239.50 383.59 L240.00 383.59 L240.50 383.59 L241.00 383.59 L241.50 383.59 L242.00 383.59 L242.50 383.59 L243.00 383.59 L243.50 383.59 L244.00 383.59 L244.50 383.60 L245.00 383.60 L245.50 383.60 L246.00 383.60 L246.50 383.60 L247.00 383.60 L247.50 383.60 L248.00 383.60 L248.50 383.60 L249.00 383.60 L249.50 383.60 L250.00 383.60 L250.50 383.60 L251.00 383.60 L251.50 383.60 L252.00 383.60 L252.50 383.60 L253.00 383.60 L253.50 383.60 L254.00 383.60 L254.50 383.60 L255.00 383.60 L255.50 383.60" fill="none" stroke="#a9c6ea" stroke-width="0.8"/>
<path d="M55.00 373.34 L55.50 373.34 L56.00 373.33 L56.50 373.33 L57.00 373.32 L57.50 373.31 L58.00 373.30 L58.50 373.28 L59.00 373.27 L59.50 373.25 L60.00 373.23 L60.50 373.20 L61.00 373.18 L61.50 373.14 L62.00 373.10 L62.50 373.06 L63.00 373.01 L63.50 372.96 L64.00 372.90 L64.50 372.83 L65.00 372.75 L65.50 372.66 L66.00 372.56 L66.50 372.45 L67.00 372.33 L67.50 372.19 L68.00 372.04 L68.50 371.88 L69.00 371.69 L69.50 371.49 L70.00 371.27 L70.50 371.02 L71.00 370.76 L71.50 370.47 L72.00 370.15 L72.50 369.80 L73.00 369.42 L73.50 369.02 L74.00 368.57 L74.50 368.09 L75.00 367.58 L75.50 367.02 L76.00 366.42 L76.50 365.78 L77.00 365.09 L77.50 364.36 L78.00 363.58 L78.50 362.74 L79.00 361.85 L79.50 360.91 L80.00 359.92 L80.50 358.86 L81.00 357.75 L81.50 356.58 L82.00 355.36 L82.50 354.07 L83.00 352.72 L83.50 351.32 L84.00 349.86 L84.50 348.34 L85.00 346.76 L85.50 345.13 L86.00 343.45 L86.50 341.72 L87.00 339.93 L87.50 338.11 L88.00 336.24 L88.50 334.34 L89.00 332.40 L89.50 330.43 L90.00 328.44 L90.50 326.44 L91.00 324.41 L91.50 322.39 L92.00 320.36 L92.50 318.33 L93.00 316.32 L93.50 314.33 L94.00 312.36 L94.50 310.43 L95.00 308.54 L95.50 306.69 L96.00 304.90 L96.50 303.18 L97.00 301.52 L97.50 299.94 L98.00 298.44 L98.50 297.03 L99.00 295.71 L99.50 294.50 L100.00 293.39 L100.50 292.40 L101.00 291.53 L101.50 290.78 L102.00 290.16 L102.50 289.67 L103.00 289.32 L103.50 289.10 L104.00 289.02 L104.50 289.07 L105.00 289.25 L105.50 289.57 L106.00 290.02 L106.50 290.60 L107.00 291.30 L107.50 292.13 L108.00 293.08 L108.50 294.14 L109.00 295.32 L109.50 296.60 L110.00 297.98 L110.50 299.46 L111.00 301.03 L111.50 302.68 L112.00 304.41 L112.50 306.21 L113.00 308.08 L113.50 310.00 L114.00 311.97 L114.50 313.98 L115.00 316.03 L115.50 318.11 L116.00 320.21 L116.50 322.32 L117.00 324.44 L117.50 326.56 L118.00 328.68 L118.50 330.79 L119.00 332.88 L119.50 334.95 L120.00 336.99 L120.50 339.01 L121.00 340.99 L121.50 342.94 L122.00 344.85 L122.50 346.72 L123.00 348.55 L123.50 350.33 L124.00 352.05 L124.50 353.73 L125.00 355.35 L125.50 356.92 L126.00 358.43 L126.50 359.89 L127.00 361.28 L127.50 362.63 L128.00 363.91 L128.50 365.14 L129.00 366.31 L129.50 367.42 L130.00 368.48 L130.50 369.49 L131.00 370.44 L131.50 371.35 L132.00 372.20 L132.50 373.01 L133.00 373.76 L133.50 374.47 L134.00 375.14 L134.50 375.77 L135.00 376.36 L135.50 376.90 L136.00 377.41 L136.50 377.89 L137.00 378.33 L137.50 378.73 L138.00 379.11 L138.50 379.46 L139.00 379.77 L139.50 380.07 L140.00 380.33 L140.50 380.58 L141.00 380.80 L141.50 381.01 L142.00 381.21 L142.50 381.39 L143.00 381.56 L143.50 381.71 L144.00 381.86 L144.50 381.99 L145.00 382.12 L145.50 382.23 L146.00 382.34 L146.50 382.44 L147.00 382.53 L147.50 382.61 L148.00 382.69 L148.50 382.76 L149.00 382.83 L149.50 382.89 L150.00 382.95 L150.50 383.00 L151.00 383.04 L151.50 383.09 L152.00 383.12 L152.50 383.16 L153.00 383.19 L153.50 383.21 L154.00 383.23 L154.50 383.25 L155.00 383.26 L155.50 383.27 L156.00 383.28 L156.50 383.29 L157.00 383.30 L157.50 383.31 L158.00 383.31 L158.50 383.32 L159.00 383.33 L159.50 383.33 L160.00 383.34 L160.50 383.34 L161.00 383.35 L161.50 383.35 L162.00 383.36 L162.50 383.36 L163.00 383.37 L163.50 383.37 L164.00 383.38 L164.50 383.38 L165.00 383.38 L165.00 383.38 L164.50 383.38 L164.00 383.38 L163.50 383.37 L163.00 383.37 L162.50 383.37 L162.00 383.36 L161.50 383.36 L161.00 383.36 L160.50 383.35 L160.00 383.35 L159.50 383.34 L159.00 383.34 L158.50 383.33 L158.00 383.33 L157.50 383.32 L157.00 383.32 L156.50 383.32 L156.00 383.31 L155.50 383.31 L155.00 383.30 L154.50 383.29 L154.00 383.28 L153.50 383.27 L153.00 383.26 L152.50 383.24 L152.00 383.22 L151.50 383.19 L151.00 383.17 L150.50 383.14 L150.00 383.11 L149.50 383.08 L149.00 383.04 L148.50 383.01 L148.00 382.97 L147.50 382.93 L147.00 382.89 L146.50 382.85 L146.00 382.80 L145.50 382.76 L145.00 382.71 L144.50 382.66 L144.00 382.61 L143.50 382.56 L143.00 382.51 L142.50 382.46 L142.00 382.41 L141.50 382.36 L141.00 382.31 L140.50 382.25 L140.00 382.20 L139.50 382.14 L139.00 382.08 L138.50 382.02 L138.00 381.94 L137.50 381.87 L137.00 381.79 L136.50 381.70 L136.00 381.61 L135.50 381.52 L135.00 381.42 L134.50 381.32 L134.00 381.22 L133.50 381.11 L133.00 381.00 L132.50 380.89 L132.00 380.78 L131.50 380.66 L131.00 380.54 L130.50 380.42 L130.00 380.30 L129.50 380.18 L129.00 380.06 L128.50 379.94 L128.00 379.82 L127.50 379.69 L127.00 379.57 L126.50 379.45 L126.00 379.33 L125.50 379.20 L125.00 379.09 L124.50 378.97 L124.00 378.85 L123.50 378.73 L123.00 378.62 L122.50 378.51 L122.00 378.40 L121.50 378.30 L121.00 378.19 L120.50 378.10 L120.00 378.00 L119.50 377.91 L119.00 377.81 L118.50 377.71 L118.00 377.61 L117.50 377.51 L117.00 377.41 L116.50 377.31 L116.00 377.20 L115.50 377.10 L115.00 377.00 L114.50 376.89 L114.00 376.79 L113.50 376.69 L113.00 376.58 L112.50 376.48 L112.00 376.38 L111.50 376.28 L111.00 376.18 L110.50 376.08 L110.00 375.98 L109.50 375.89 L109.00 375.80 L108.50 375.70 L108.00 375.61 L107.50 375.53 L107.00 375.44 L106.50 375.36 L106.00 375.28 L105.50 375.20 L105.00 375.13 L104.50 375.06 L104.00 374.99 L103.50 374.93 L103.00 374.87 L102.50 374.81 L102.00 374.76 L101.50 374.71 L101.00 374.67 L100.50 374.63 L100.00 374.60 L99.50 374.57 L99.00 374.54 L98.50 374.51 L98.00 374.48 L97.50 374.45 L97.00 374.42 L96.50 374.39 L96.00 374.37 L95.50 374.34 L95.00 374.31 L94.50 374.29 L94.00 374.26 L93.50 374.23 L93.00 374.21 L92.50 374.19 L92.00 374.16 L91.50 374.14 L91.00 374.11 L90.50 374.09 L90.00 374.07 L89.50 374.05 L89.00 374.02 L88.50 374.00 L88.00 373.98 L87.50 373.96 L87.00 373.94 L86.50 373.92 L86.00 373.90 L85.50 373.88 L85.00 373.86 L84.50 373.85 L84.00 373.83 L83.50 373.81 L83.00 373.80 L82.50 373.78 L82.00 373.76 L81.50 373.75 L81.00 373.73 L80.50 373.72 L80.00 373.70 L79.50 373.69 L79.00 373.68 L78.50 373.66 L78.00 373.65 L77.50 373.64 L77.00 373.63 L76.50 373.62 L76.00 373.61 L75.50 373.60 L75.00 373.59 L74.50 373.58 L74.00 373.57 L73.50 373.56 L73.00 373.55 L72.50 373.54 L72.00 373.54 L71.50 373.53 L71.00 373.52 L70.50 373.52 L70.00 373.51 L69.50 373.50 L69.00 373.50 L68.50 373.50 L68.00 373.49 L67.50 373.49 L67.00 373.48 L66.50 373.48 L66.00 373.47 L65.50 373.47 L65.00 373.46 L64.50 373.46 L64.00 373.46 L63.50 373.45 L63.00 373.45 L62.50 373.44 L62.00 373.44 L61.50 373.44 L61.00 373.43 L60.50 373.43 L60.00 373.42 L59.50 373.42 L59.00 373.42 L58.50 373.41 L58.00 373.41 L57.50 373.41 L57.00 373.40 L56.50 373.40 L56.00 373.40 L55.50 373.39 L55.00 373.39Z" fill="url(#gor)"/>
<path d="M104.00 289.02 L104.50 289.07 L105.00 289.25 L105.50 289.57 L106.00 290.02 L106.50 290.60 L107.00 291.30 L107.50 292.13 L108.00 293.08 L108.50 294.14 L109.00 295.32 L109.50 296.60 L110.00 297.98 L110.50 299.46 L111.00 301.03 L111.50 302.68 L112.00 304.41 L112.50 306.21 L113.00 308.08 L113.50 310.00 L114.00 311.97 L114.50 313.98 L115.00 316.03 L115.50 318.11 L116.00 320.21 L116.50 322.32 L117.00 324.44 L117.50 326.56 L118.00 328.68 L118.50 330.79 L119.00 332.88 L119.50 334.95 L120.00 336.99 L120.50 339.01 L121.00 340.99 L121.50 342.94 L122.00 344.85 L122.50 346.72 L123.00 348.55 L123.50 350.33 L124.00 352.05 L124.50 353.73 L125.00 355.35 L125.50 356.92 L126.00 358.43 L126.50 359.89 L127.00 361.28 L127.50 362.63 L128.00 363.91 L128.50 365.14 L129.00 366.31 L129.50 367.42 L130.00 368.48 L130.50 369.49 L131.00 370.44 L131.50 371.35 L132.00 372.20 L132.50 373.01 L133.00 373.76 L133.50 374.47 L134.00 375.14 L134.50 375.77 L135.00 376.36 L135.50 376.90 L136.00 377.41 L136.50 377.89 L137.00 378.33 L137.50 378.73 L138.00 379.11 L138.50 379.46 L139.00 379.77 L139.50 380.07 L140.00 380.33 L140.50 380.58 L141.00 380.80 L141.50 381.01 L142.00 381.21 L142.50 381.39 L143.00 381.56 L143.50 381.71 L144.00 381.86 L144.50 381.99 L145.00 382.12 L145.50 382.23 L146.00 382.34 L146.50 382.44 L147.00 382.53 L147.50 382.61 L148.00 382.69 L148.50 382.76 L149.00 382.83 L149.50 382.89 L150.00 382.95 L150.50 383.00 L151.00 383.04 L151.50 383.09 L152.00 383.12 L152.50 383.16 L153.00 383.19 L153.50 383.21 L154.00 383.23 L154.50 383.25 L155.00 383.26 L155.50 383.27 L156.00 383.28 L156.50 383.29 L157.00 383.30 L157.50 383.31 L158.00 383.31 L158.50 383.32 L159.00 383.33 L159.50 383.33 L160.00 383.34 L160.50 383.34 L161.00 383.35 L161.50 383.35 L162.00 383.36 L162.50 383.36 L163.00 383.37 L163.50 383.37 L164.00 383.38 L164.50 383.38 L165.00 383.38" fill="none" stroke="#a9c6ea" stroke-width="0.8"/>
<path d="M60.00 373.42 L60.50 373.43 L61.00 373.43 L61.50 373.44 L62.00 373.44 L62.50 373.44 L63.00 373.45 L63.50 373.45 L64.00 373.46 L64.50 373.46 L65.00 373.46 L65.50 373.47 L66.00 373.47 L66.50 373.48 L67.00 373.48 L67.50 373.49 L68.00 373.49 L68.50 373.50 L69.00 373.50 L69.50 373.50 L70.00 373.51 L70.50 373.52 L71.00 373.52 L71.50 373.53 L72.00 373.54 L72.50 373.54 L73.00 373.55 L73.50 373.56 L74.00 373.57 L74.50 373.58 L75.00 373.59 L75.50 373.60 L76.00 373.61 L76.50 373.62 L77.00 373.63 L77.50 373.64 L78.00 373.65 L78.50 373.66 L79.00 373.68 L79.50 373.69 L80.00 373.70 L80.50 373.72 L81.00 373.73 L81.50 373.75 L82.00 373.76 L82.50 373.78 L83.00 373.80 L83.50 373.81 L84.00 373.83 L84.50 373.85 L85.00 373.86 L85.50 373.88 L86.00 373.90 L86.50 373.92 L87.00 373.94 L87.50 373.96 L88.00 373.98 L88.50 374.00 L89.00 374.02 L89.50 374.05 L90.00 374.07 L90.50 374.09 L91.00 374.11 L91.50 374.14 L92.00 374.16 L92.50 374.19 L93.00 374.21 L93.50 374.23 L94.00 374.26 L94.50 374.29 L95.00 374.31 L95.50 374.34 L96.00 374.37 L96.50 374.39 L97.00 374.42 L97.50 374.45 L98.00 374.48 L98.50 374.51 L99.00 374.54 L99.50 374.57 L100.00 374.60 L100.50 374.63 L101.00 374.67 L101.50 374.71 L102.00 374.76 L102.50 374.81 L103.00 374.87 L103.50 374.93 L104.00 374.99 L104.50 375.06 L105.00 375.13 L105.50 375.20 L106.00 375.28 L106.50 375.36 L107.00 375.44 L107.50 375.53 L108.00 375.61 L108.50 375.70 L109.00 375.80 L109.50 375.89 L110.00 375.98 L110.50 376.08 L111.00 376.18 L111.50 376.28 L112.00 376.38 L112.50 376.48 L113.00 376.58 L113.50 376.69 L114.00 376.79 L114.50 376.89 L115.00 377.00 L115.50 377.10 L116.00 377.20 L116.50 377.31 L117.00 377.41 L117.50 377.51 L118.00 377.61 L118.50 377.71 L119.00 377.81 L119.50 377.91 L120.00 378.00 L120.50 378.10 L121.00 378.19 L121.50 378.30 L122.00 378.40 L122.50 378.51 L123.00 378.62 L123.50 378.73 L124.00 378.85 L124.50 378.97 L125.00 379.09 L125.50 379.20 L126.00 379.33 L126.50 379.45 L127.00 379.57 L127.50 379.69 L128.00 379.82 L128.50 379.94 L129.00 380.06 L129.50 380.18 L130.00 380.30 L130.50 380.42 L131.00 380.54 L131.50 380.66 L132.00 380.78 L132.50 380.89 L133.00 381.00 L133.50 381.11 L134.00 381.22 L134.50 381.32 L135.00 381.42 L135.50 381.52 L136.00 381.61 L136.50 381.70 L137.00 381.79 L137.50 381.87 L138.00 381.94 L138.50 382.02 L139.00 382.08 L139.50 382.14 L140.00 382.20 L140.50 382.25 L141.00 382.31 L141.50 382.36 L142.00 382.41 L142.50 382.46 L143.00 382.51 L143.50 382.56 L144.00 382.61 L144.50 382.66 L145.00 382.71 L145.50 382.76 L146.00 382.80 L146.50 382.85 L147.00 382.89 L147.50 382.93 L148.00 382.97 L148.50 383.01 L149.00 383.04 L149.50 383.08 L150.00 383.11 L150.50 383.14 L151.00 383.17 L151.50 383.19 L152.00 383.22 L152.50 383.24 L153.00 383.26 L153.50 383.27 L154.00 383.28 L154.50 383.29 L155.00 383.30 L155.50 383.31 L156.00 383.31 L156.50 383.32 L157.00 383.32 L157.50 383.32 L158.00 383.33 L158.50 383.33 L159.00 383.34 L159.50 383.34 L160.00 383.35 L160.50 383.35 L161.00 383.36 L161.50 383.36 L162.00 383.36 L162.50 383.37 L163.00 383.37 L163.50 383.37 L164.00 383.38 L164.50 383.38 L165.00 383.38 L165.50 383.39 L166.00 383.39 L166.50 383.39 L167.00 383.40 L167.50 383.40 L168.00 383.40 L168.50 383.41 L169.00 383.41 L169.50 383.41 L170.00 383.41 L170.50 383.42 L171.00 383.42 L171.50 383.42 L172.00 383.42 L172.50 383.43 L173.00 383.43 L173.50 383.43 L174.00 383.43 L174.50 383.44 L175.00 383.44 L175.50 383.44 L176.00 383.44 L176.50 383.44 L177.00 383.45 L177.50 383.45 L178.00 383.45 L178.50 383.45 L179.00 383.45 L179.50 383.45 L180.00 383.46 L180.50 383.46 L181.00 383.46 L181.50 383.46 L182.00 383.46 L182.50 383.46 L183.00 383.47 L183.50 383.47 L184.00 383.47 L184.50 383.47 L185.00 383.47 L185.50 383.47 L186.00 383.47 L186.50 383.48 L187.00 383.48 L187.50 383.48 L188.00 383.48 L188.50 383.48 L189.00 383.48 L189.50 383.48 L190.00 383.48 L190.50 383.49 L191.00 383.49 L191.50 383.49 L192.00 383.49 L192.50 383.49 L193.00 383.49 L193.50 383.49 L194.00 383.49 L194.50 383.49 L195.00 383.50 L195.50 383.50 L196.00 383.50 L196.50 383.50 L197.00 383.50 L197.50 383.50 L198.00 383.50 L198.50 383.51 L199.00 383.51 L199.50 383.51 L200.00 383.51 L200.50 383.51 L201.00 383.51 L201.50 383.51 L202.00 383.51 L202.50 383.52 L203.00 383.52 L203.50 383.52 L204.00 383.52 L204.50 383.52 L205.00 383.52 L205.50 383.52 L206.00 383.52 L206.50 383.53 L207.00 383.53 L207.50 383.53 L208.00 383.53 L208.50 383.53 L209.00 383.53 L209.50 383.53 L210.00 383.53 L210.50 383.54 L211.00 383.54 L211.50 383.54 L212.00 383.54 L212.50 383.54 L213.00 383.54 L213.50 383.54 L214.00 383.54 L214.50 383.54 L215.00 383.55 L215.50 383.55 L216.00 383.55 L216.50 383.55 L217.00 383.55 L217.50 383.55 L218.00 383.55 L218.50 383.55 L219.00 383.55 L219.50 383.56 L220.00 383.56 L220.50 383.56 L221.00 383.56 L221.50 383.56 L222.00 383.56 L222.50 383.56 L223.00 383.56 L223.50 383.56 L224.00 383.57 L224.50 383.57 L225.00 383.57 L225.50 383.57 L226.00 383.57 L226.50 383.57 L227.00 383.57 L227.50 383.57 L228.00 383.57 L228.50 383.57 L229.00 383.57 L229.50 383.58 L230.00 383.58 L230.50 383.58 L231.00 383.58 L231.50 383.58 L232.00 383.58 L232.50 383.58 L233.00 383.58 L233.50 383.58 L234.00 383.58 L234.50 383.58 L235.00 383.58 L235.50 383.58 L236.00 383.59 L236.50 383.59 L237.00 383.59 L237.50 383.59 L238.00 383.59 L238.50 383.59 L239.00 383.59 L239.50 383.59 L240.00 383.59 L240.50 383.59 L241.00 383.59 L241.50 383.59 L242.00 383.59 L242.50 383.59 L243.00 383.59 L243.50 383.59 L244.00 383.59 L244.50 383.60 L245.00 383.60 L245.50 383.60 L246.00 383.60 L246.50 383.60 L247.00 383.60 L247.50 383.60 L248.00 383.60 L248.50 383.60 L249.00 383.60 L249.50 383.60 L250.00 383.60 L250.50 383.60 L251.00 383.60 L251.50 383.60 L252.00 383.60 L252.50 383.60 L253.00 383.60 L253.50 383.60 L254.00 383.60 L254.50 383.60 L255.00 383.60 L255.50 383.60" fill="none" stroke="#b2b6e6" stroke-width="0.9"/>
<path d="M29.50 373.30 L30.00 373.30 L30.50 373.30 L31.00 373.30 L31.50 373.30 L32.00 373.30 L32.50 373.30 L33.00 373.30 L33.50 373.29 L34.00 373.29 L34.50 373.29 L35.00 373.29 L35.50 373.29 L36.00 373.29 L36.50 373.29 L37.00 373.28 L37.50 373.28 L38.00 373.28 L38.50 373.28 L39.00 373.27 L39.50 373.27 L40.00 373.27 L40.50 373.27 L41.00 373.26 L41.50 373.26 L42.00 373.26 L42.50 373.25 L43.00 373.25 L43.50 373.25 L44.00 373.24 L44.50 373.24 L45.00 373.24 L45.50 373.23 L46.00 373.23 L46.50 373.23 L47.00 373.22 L47.50 373.22 L48.00 373.22 L48.50 373.21 L49.00 373.21 L49.50 373.20 L50.00 373.20 L50.50 373.20 L51.00 373.19 L51.50 373.19 L52.00 373.18 L52.50 373.18 L53.00 373.18 L53.50 373.17 L54.00 373.17 L54.50 373.16 L55.00 373.16 L55.50 373.15 L56.00 373.14 L56.50 373.14 L57.00 373.13 L57.50 373.12 L58.00 373.11 L58.50 373.10 L59.00 373.09 L59.50 373.08 L60.00 373.07 L60.50 373.06 L61.00 373.05 L61.50 373.03 L62.00 373.02 L62.50 373.00 L63.00 372.97 L63.50 372.91 L64.00 372.82 L64.50 372.70 L65.00 372.56 L65.50 372.41 L66.00 372.23 L66.50 372.04 L67.00 371.84 L67.50 371.63 L68.00 371.41 L68.50 371.18 L69.00 370.95 L69.50 370.70 L70.00 370.42 L70.50 370.10 L71.00 369.75 L71.50 369.37 L72.00 368.96 L72.50 368.52 L73.00 368.05 L73.50 367.55 L74.00 367.01 L74.50 366.45 L75.00 365.87 L75.50 365.24 L76.00 364.52 L76.50 363.70 L77.00 362.78 L77.50 361.77 L78.00 360.69 L78.50 359.53 L79.00 358.33 L79.50 357.07 L80.00 355.77 L80.50 354.45 L81.00 353.10 L81.50 351.74 L82.00 350.38 L82.50 349.03 L83.00 347.62 L83.50 346.15 L84.00 344.60 L84.50 343.01 L85.00 341.37 L85.50 339.69 L86.00 337.98 L86.50 336.25 L87.00 334.52 L87.50 332.78 L88.00 331.06 L88.50 329.35 L89.00 327.67 L89.50 325.99 L90.00 324.32 L90.50 322.64 L91.00 320.95 L91.50 319.25 L92.00 317.54 L92.50 315.81 L93.00 314.06 L93.50 312.29 L94.00 310.51 L94.50 308.72 L95.00 306.91 L95.50 305.07 L96.00 303.20 L96.50 301.28 L97.00 299.28 L97.50 297.11 L98.00 294.84 L98.50 292.58 L99.00 290.44 L99.50 288.51 L100.00 286.87 L100.50 285.30 L101.00 283.79 L101.50 282.36 L102.00 281.07 L102.50 279.95 L103.00 279.04 L103.50 278.39 L104.00 277.83 L104.50 277.30 L105.00 276.80 L105.50 276.32 L106.00 275.89 L106.50 275.50 L107.00 275.15 L107.50 274.86 L108.00 274.62 L108.50 274.45 L109.00 274.34 L109.50 274.30 L110.00 274.30 L110.50 274.30 L111.00 274.30 L111.50 274.30 L112.00 274.30 L112.50 274.30 L113.00 274.30 L113.50 274.30 L114.00 274.30 L114.50 274.30 L115.00 274.30 L115.50 274.30 L116.00 274.29 L116.50 274.27 L117.00 274.22 L117.50 274.15 L118.00 274.06 L118.50 273.96 L119.00 273.84 L119.50 273.70 L120.00 273.55 L120.50 273.38 L121.00 273.20 L121.50 273.01 L122.00 272.80 L122.50 272.58 L123.00 272.35 L123.50 271.97 L124.00 271.39 L124.50 270.66 L125.00 269.80 L125.50 268.84 L126.00 267.81 L126.50 266.75 L127.00 265.68 L127.50 264.64 L128.00 263.66 L128.50 262.77 L129.00 262.00 L129.50 261.29 L130.00 260.58 L130.50 259.87 L131.00 259.17 L131.50 258.50 L132.00 257.88 L132.50 257.30 L133.00 256.79 L133.50 256.35 L134.00 256.00 L134.50 255.69 L135.00 255.40 L135.50 255.12 L136.00 254.89 L136.50 254.72 L137.00 254.62 L137.50 254.61 L138.00 254.70 L138.50 254.87 L139.00 255.13 L139.50 255.46 L140.00 255.86 L140.50 256.31 L141.00 256.81 L141.50 257.35 L142.00 257.92 L142.50 258.53 L143.00 259.36 L143.50 260.47 L144.00 261.84 L144.50 263.42 L145.00 265.17 L145.50 267.05 L146.00 269.02 L146.50 271.04 L147.00 273.07 L147.50 275.07 L148.00 277.00 L148.50 278.93 L149.00 280.95 L149.50 283.05 L150.00 285.21 L150.50 287.41 L151.00 289.65 L151.50 291.91 L152.00 294.17 L152.50 296.43 L153.00 298.67 L153.50 300.88 L154.00 303.11 L154.50 305.35 L155.00 307.61 L155.50 309.87 L156.00 312.13 L156.50 314.38 L157.00 316.61 L157.50 318.82 L158.00 321.00 L158.50 323.18 L159.00 325.38 L159.50 327.60 L160.00 329.83 L160.50 332.05 L161.00 334.25 L161.50 336.43 L162.00 338.57 L162.50 340.66 L163.00 342.70 L163.50 344.66 L164.00 346.55 L164.50 348.34 L165.00 350.03 L165.50 351.66 L166.00 353.25 L166.50 354.80 L167.00 356.30 L167.50 357.74 L168.00 359.12 L168.50 360.45 L169.00 361.70 L169.50 362.89 L170.00 364.00 L170.50 365.07 L171.00 366.14 L171.50 367.19 L172.00 368.23 L172.50 369.24 L173.00 370.22 L173.50 371.16 L174.00 372.06 L174.50 372.90 L175.00 373.69 L175.50 374.41 L176.00 375.07 L176.50 375.65 L177.00 376.14 L177.50 376.56 L178.00 376.94 L178.50 377.31 L179.00 377.67 L179.50 378.01 L180.00 378.34 L180.50 378.65 L181.00 378.95 L181.50 379.24 L182.00 379.51 L182.50 379.77 L183.00 380.01 L183.50 380.24 L184.00 380.46 L184.50 380.67 L185.00 380.86 L185.50 381.04 L186.00 381.21 L186.50 381.36 L187.00 381.51 L187.50 381.64 L188.00 381.76 L188.50 381.86 L189.00 381.97 L189.50 382.07 L190.00 382.18 L190.50 382.28 L191.00 382.37 L191.50 382.47 L192.00 382.56 L192.50 382.65 L193.00 382.73 L193.50 382.81 L194.00 382.88 L194.50 382.95 L195.00 383.01 L195.50 383.07 L196.00 383.12 L196.50 383.17 L197.00 383.21 L197.50 383.24 L198.00 383.27 L198.50 383.29 L199.00 383.30 L199.50 383.30 L200.00 383.31 L200.50 383.31 L201.00 383.32 L201.50 383.32 L202.00 383.33 L202.50 383.33 L203.00 383.33 L203.50 383.34 L204.00 383.34 L204.50 383.34 L205.00 383.34 L205.50 383.35 L206.00 383.35 L206.50 383.35 L207.00 383.35 L207.50 383.36 L208.00 383.36 L208.50 383.36 L209.00 383.36 L209.50 383.36 L210.00 383.36 L210.50 383.37 L211.00 383.37 L211.50 383.37 L212.00 383.37 L212.50 383.37 L213.00 383.37 L213.50 383.38 L214.00 383.38 L214.50 383.38 L215.00 383.38 L215.50 383.38 L216.00 383.38 L216.50 383.39 L217.00 383.39 L217.50 383.39 L218.00 383.39 L218.50 383.39 L219.00 383.40 L219.50 383.40 L220.00 383.40 L220.50 383.40 L221.00 383.41 L221.50 383.41 L222.00 383.41 L222.50 383.41 L223.00 383.42 L223.50 383.42 L224.00 383.42 L224.50 383.42 L225.00 383.43 L225.50 383.43 L226.00 383.43 L226.50 383.43 L227.00 383.44 L227.50 383.44 L228.00 383.44 L228.50 383.44 L229.00 383.45 L229.50 383.45 L230.00 383.45 L230.50 383.46 L231.00 383.46 L231.50 383.46 L232.00 383.46 L232.50 383.47 L233.00 383.47 L233.50 383.47 L234.00 383.47 L234.50 383.48 L235.00 383.48 L235.50 383.48 L236.00 383.49 L236.50 383.49 L237.00 383.49 L237.50 383.49 L238.00 383.50 L238.50 383.50 L239.00 383.50 L239.50 383.51 L240.00 383.51 L240.50 383.51 L241.00 383.51 L241.50 383.52 L242.00 383.52 L242.50 383.52 L243.00 383.53 L243.50 383.53 L244.00 383.53 L244.50 383.53 L245.00 383.54 L245.50 383.54 L246.00 383.54 L246.50 383.55 L247.00 383.55 L247.50 383.55 L248.00 383.55 L248.50 383.56 L249.00 383.56 L249.50 383.56 L250.00 383.57 L250.50 383.57 L251.00 383.57 L251.50 383.58 L252.00 383.58 L252.50 383.58 L253.00 383.58 L253.50 383.59 L254.00 383.59 L254.50 383.59 L255.00 383.60 L255.50 383.60" fill="none" stroke="#95dba6" stroke-width="1.05"/>
<path d="M29.51 378.93a1.25 1.25 0 1 0 2.50 0a1.25 1.25 0 1 0 -2.50 0M31.85 375.45a1.25 1.25 0 1 0 2.50 0a1.25 1.25 0 1 0 -2.50 0M34.67 377.12a1.25 1.25 0 1 0 2.50 0a1.25 1.25 0 1 0 -2.50 0M37.02 373.34a1.25 1.25 0 1 0 2.50 0a1.25 1.25 0 1 0 -2.50 0M39.00 375.31a1.25 1.25 0 1 0 2.50 0a1.25 1.25 0 1 0 -2.50 0M41.50 379.96a1.25 1.25 0 1 0 2.50 0a1.25 1.25 0 1 0 -2.50 0M43.21 376.12a1.25 1.25 0 1 0 2.50 0a1.25 1.25 0 1 0 -2.50 0M45.49 372.63a1.25 1.25 0 1 0 2.50 0a1.25 1.25 0 1 0 -2.50 0M48.49 373.68a1.25 1.25 0 1 0 2.50 0a1.25 1.25 0 1 0 -2.50 0M50.19 377.76a1.25 1.25 0 1 0 2.50 0a1.25 1.25 0 1 0 -2.50 0M52.75 378.65a1.25 1.25 0 1 0 2.50 0a1.25 1.25 0 1 0 -2.50 0M55.41 375.45a1.25 1.25 0 1 0 2.50 0a1.25 1.25 0 1 0 -2.50 0M57.29 375.52a1.25 1.25 0 1 0 2.50 0a1.25 1.25 0 1 0 -2.50 0M59.54 372.59a1.25 1.25 0 1 0 2.50 0a1.25 1.25 0 1 0 -2.50 0M61.78 375.36a1.25 1.25 0 1 0 2.50 0a1.25 1.25 0 1 0 -2.50 0M64.08 373.54a1.25 1.25 0 1 0 2.50 0a1.25 1.25 0 1 0 -2.50 0M66.72 371.74a1.25 1.25 0 1 0 2.50 0a1.25 1.25 0 1 0 -2.50 0M68.65 370.31a1.25 1.25 0 1 0 2.50 0a1.25 1.25 0 1 0 -2.50 0M70.78 368.77a1.25 1.25 0 1 0 2.50 0a1.25 1.25 0 1 0 -2.50 0M73.36 367.15a1.25 1.25 0 1 0 2.50 0a1.25 1.25 0 1 0 -2.50 0M76.07 364.17a1.25 1.25 0 1 0 2.50 0a1.25 1.25 0 1 0 -2.50 0M78.44 357.57a1.25 1.25 0 1 0 2.50 0a1.25 1.25 0 1 0 -2.50 0M80.71 351.15a1.25 1.25 0 1 0 2.50 0a1.25 1.25 0 1 0 -2.50 0M82.59 346.86a1.25 1.25 0 1 0 2.50 0a1.25 1.25 0 1 0 -2.50 0M84.93 338.26a1.25 1.25 0 1 0 2.50 0a1.25 1.25 0 1 0 -2.50 0M87.27 330.09a1.25 1.25 0 1 0 2.50 0a1.25 1.25 0 1 0 -2.50 0M89.90 321.50a1.25 1.25 0 1 0 2.50 0a1.25 1.25 0 1 0 -2.50 0M92.23 313.52a1.25 1.25 0 1 0 2.50 0a1.25 1.25 0 1 0 -2.50 0M94.40 304.33a1.25 1.25 0 1 0 2.50 0a1.25 1.25 0 1 0 -2.50 0M96.55 296.44a1.25 1.25 0 1 0 2.50 0a1.25 1.25 0 1 0 -2.50 0M98.71 287.41a1.25 1.25 0 1 0 2.50 0a1.25 1.25 0 1 0 -2.50 0M101.07 282.17a1.25 1.25 0 1 0 2.50 0a1.25 1.25 0 1 0 -2.50 0M103.05 279.70a1.25 1.25 0 1 0 2.50 0a1.25 1.25 0 1 0 -2.50 0M105.61 272.27a1.25 1.25 0 1 0 2.50 0a1.25 1.25 0 1 0 -2.50 0M107.76 277.48a1.25 1.25 0 1 0 2.50 0a1.25 1.25 0 1 0 -2.50 0M110.47 272.90a1.25 1.25 0 1 0 2.50 0a1.25 1.25 0 1 0 -2.50 0M112.57 274.15a1.25 1.25 0 1 0 2.50 0a1.25 1.25 0 1 0 -2.50 0M115.04 283.69a1.25 1.25 0 1 0 2.50 0a1.25 1.25 0 1 0 -2.50 0M116.94 275.36a1.25 1.25 0 1 0 2.50 0a1.25 1.25 0 1 0 -2.50 0M119.68 279.91a1.25 1.25 0 1 0 2.50 0a1.25 1.25 0 1 0 -2.50 0M121.85 278.28a1.25 1.25 0 1 0 2.50 0a1.25 1.25 0 1 0 -2.50 0M124.20 269.12a1.25 1.25 0 1 0 2.50 0a1.25 1.25 0 1 0 -2.50 0M126.40 267.91a1.25 1.25 0 1 0 2.50 0a1.25 1.25 0 1 0 -2.50 0M128.85 256.94a1.25 1.25 0 1 0 2.50 0a1.25 1.25 0 1 0 -2.50 0M130.70 254.48a1.25 1.25 0 1 0 2.50 0a1.25 1.25 0 1 0 -2.50 0M133.58 253.72a1.25 1.25 0 1 0 2.50 0a1.25 1.25 0 1 0 -2.50 0M135.85 256.84a1.25 1.25 0 1 0 2.50 0a1.25 1.25 0 1 0 -2.50 0M137.67 253.71a1.25 1.25 0 1 0 2.50 0a1.25 1.25 0 1 0 -2.50 0M140.09 255.37a1.25 1.25 0 1 0 2.50 0a1.25 1.25 0 1 0 -2.50 0M142.48 258.49a1.25 1.25 0 1 0 2.50 0a1.25 1.25 0 1 0 -2.50 0M144.41 268.72a1.25 1.25 0 1 0 2.50 0a1.25 1.25 0 1 0 -2.50 0M147.09 279.31a1.25 1.25 0 1 0 2.50 0a1.25 1.25 0 1 0 -2.50 0M149.45 288.55a1.25 1.25 0 1 0 2.50 0a1.25 1.25 0 1 0 -2.50 0M151.42 297.51a1.25 1.25 0 1 0 2.50 0a1.25 1.25 0 1 0 -2.50 0M153.82 309.25a1.25 1.25 0 1 0 2.50 0a1.25 1.25 0 1 0 -2.50 0M155.91 318.77a1.25 1.25 0 1 0 2.50 0a1.25 1.25 0 1 0 -2.50 0M158.25 327.22a1.25 1.25 0 1 0 2.50 0a1.25 1.25 0 1 0 -2.50 0M161.07 339.45a1.25 1.25 0 1 0 2.50 0a1.25 1.25 0 1 0 -2.50 0M162.92 346.82a1.25 1.25 0 1 0 2.50 0a1.25 1.25 0 1 0 -2.50 0M165.70 354.79a1.25 1.25 0 1 0 2.50 0a1.25 1.25 0 1 0 -2.50 0M167.65 362.02a1.25 1.25 0 1 0 2.50 0a1.25 1.25 0 1 0 -2.50 0M169.91 365.23a1.25 1.25 0 1 0 2.50 0a1.25 1.25 0 1 0 -2.50 0M172.39 369.12a1.25 1.25 0 1 0 2.50 0a1.25 1.25 0 1 0 -2.50 0M174.59 375.35a1.25 1.25 0 1 0 2.50 0a1.25 1.25 0 1 0 -2.50 0M176.85 373.54a1.25 1.25 0 1 0 2.50 0a1.25 1.25 0 1 0 -2.50 0M178.91 382.16a1.25 1.25 0 1 0 2.50 0a1.25 1.25 0 1 0 -2.50 0M181.22 382.52a1.25 1.25 0 1 0 2.50 0a1.25 1.25 0 1 0 -2.50 0M184.00 379.49a1.25 1.25 0 1 0 2.50 0a1.25 1.25 0 1 0 -2.50 0M185.99 381.30a1.25 1.25 0 1 0 2.50 0a1.25 1.25 0 1 0 -2.50 0M188.22 382.73a1.25 1.25 0 1 0 2.50 0a1.25 1.25 0 1 0 -2.50 0M190.88 382.35a1.25 1.25 0 1 0 2.50 0a1.25 1.25 0 1 0 -2.50 0M193.23 384.76a1.25 1.25 0 1 0 2.50 0a1.25 1.25 0 1 0 -2.50 0M195.51 384.43a1.25 1.25 0 1 0 2.50 0a1.25 1.25 0 1 0 -2.50 0M197.54 383.59a1.25 1.25 0 1 0 2.50 0a1.25 1.25 0 1 0 -2.50 0M200.13 384.80a1.25 1.25 0 1 0 2.50 0a1.25 1.25 0 1 0 -2.50 0M202.42 383.24a1.25 1.25 0 1 0 2.50 0a1.25 1.25 0 1 0 -2.50 0M204.61 384.52a1.25 1.25 0 1 0 2.50 0a1.25 1.25 0 1 0 -2.50 0M207.18 387.58a1.25 1.25 0 1 0 2.50 0a1.25 1.25 0 1 0 -2.50 0M209.10 381.78a1.25 1.25 0 1 0 2.50 0a1.25 1.25 0 1 0 -2.50 0M211.30 384.38a1.25 1.25 0 1 0 2.50 0a1.25 1.25 0 1 0 -2.50 0M213.67 382.43a1.25 1.25 0 1 0 2.50 0a1.25 1.25 0 1 0 -2.50 0M215.85 387.39a1.25 1.25 0 1 0 2.50 0a1.25 1.25 0 1 0 -2.50 0M218.24 382.37a1.25 1.25 0 1 0 2.50 0a1.25 1.25 0 1 0 -2.50 0M220.57 382.77a1.25 1.25 0 1 0 2.50 0a1.25 1.25 0 1 0 -2.50 0M222.86 385.20a1.25 1.25 0 1 0 2.50 0a1.25 1.25 0 1 0 -2.50 0M225.49 384.72a1.25 1.25 0 1 0 2.50 0a1.25 1.25 0 1 0 -2.50 0M227.58 386.13a1.25 1.25 0 1 0 2.50 0a1.25 1.25 0 1 0 -2.50 0M229.59 385.15a1.25 1.25 0 1 0 2.50 0a1.25 1.25 0 1 0 -2.50 0M232.36 381.99a1.25 1.25 0 1 0 2.50 0a1.25 1.25 0 1 0 -2.50 0M234.07 385.06a1.25 1.25 0 1 0 2.50 0a1.25 1.25 0 1 0 -2.50 0M236.76 383.00a1.25 1.25 0 1 0 2.50 0a1.25 1.25 0 1 0 -2.50 0M239.42 381.77a1.25 1.25 0 1 0 2.50 0a1.25 1.25 0 1 0 -2.50 0M241.47 383.38a1.25 1.25 0 1 0 2.50 0a1.25 1.25 0 1 0 -2.50 0M243.69 384.26a1.25 1.25 0 1 0 2.50 0a1.25 1.25 0 1 0 -2.50 0M246.18 383.43a1.25 1.25 0 1 0 2.50 0a1.25 1.25 0 1 0 -2.50 0M248.44 384.71a1.25 1.25 0 1 0 2.50 0a1.25 1.25 0 1 0 -2.50 0M250.87 384.45a1.25 1.25 0 1 0 2.50 0a1.25 1.25 0 1 0 -2.50 0M252.57 386.29a1.25 1.25 0 1 0 2.50 0a1.25 1.25 0 1 0 -2.50 0M131.25 244.50a1.25 1.25 0 1 0 2.50 0a1.25 1.25 0 1 0 -2.50 0M96.75 276.00a1.25 1.25 0 1 0 2.50 0a1.25 1.25 0 1 0 -2.50 0M107.75 270.50a1.25 1.25 0 1 0 2.50 0a1.25 1.25 0 1 0 -2.50 0" fill="none" stroke="#4e4e4e" stroke-width="0.65"/>
<rect x="29.30" y="228.90" width="226.15" height="181.10" fill="none" stroke="#262626" stroke-width="1.45"/>
<line x1="26.10" y1="245.20" x2="29.30" y2="245.20" stroke="#262626" stroke-width="1.1"/>
<line x1="27.50" y1="261.68" x2="29.30" y2="261.68" stroke="#262626" stroke-width="1.1"/>
<line x1="26.10" y1="278.15" x2="29.30" y2="278.15" stroke="#262626" stroke-width="1.1"/>
<line x1="27.50" y1="294.62" x2="29.30" y2="294.62" stroke="#262626" stroke-width="1.1"/>
<line x1="26.10" y1="311.10" x2="29.30" y2="311.10" stroke="#262626" stroke-width="1.1"/>
<line x1="27.50" y1="327.57" x2="29.30" y2="327.57" stroke="#262626" stroke-width="1.1"/>
<line x1="26.10" y1="344.05" x2="29.30" y2="344.05" stroke="#262626" stroke-width="1.1"/>
<line x1="27.50" y1="360.52" x2="29.30" y2="360.52" stroke="#262626" stroke-width="1.1"/>
<line x1="26.10" y1="377.00" x2="29.30" y2="377.00" stroke="#262626" stroke-width="1.1"/>
<line x1="27.50" y1="393.48" x2="29.30" y2="393.48" stroke="#262626" stroke-width="1.1"/>
<line x1="29.30" y1="410.00" x2="29.30" y2="413.50" stroke="#262626" stroke-width="1.20"/>
<text transform="translate(29.30 424.60) scale(1.000 1.170)" text-anchor="middle" style="font-family:'Liberation Serif',serif;font-weight:bold;font-size:10.75px;fill:#000;stroke:#000;stroke-width:0.22px">58</text>
<line x1="66.99" y1="410.00" x2="66.99" y2="413.50" stroke="#262626" stroke-width="1.20"/>
<text transform="translate(66.99 424.60) scale(1.000 1.170)" text-anchor="middle" style="font-family:'Liberation Serif',serif;font-weight:bold;font-size:10.75px;fill:#000;stroke:#000;stroke-width:0.22px">57</text>
<line x1="104.68" y1="410.00" x2="104.68" y2="413.50" stroke="#262626" stroke-width="1.20"/>
<text transform="translate(104.68 424.60) scale(1.000 1.170)" text-anchor="middle" style="font-family:'Liberation Serif',serif;font-weight:bold;font-size:10.75px;fill:#000;stroke:#000;stroke-width:0.22px">56</text>
<line x1="142.37" y1="410.00" x2="142.37" y2="413.50" stroke="#262626" stroke-width="1.20"/>
<text transform="translate(142.37 424.60) scale(1.000 1.170)" text-anchor="middle" style="font-family:'Liberation Serif',serif;font-weight:bold;font-size:10.75px;fill:#000;stroke:#000;stroke-width:0.22px">55</text>
<line x1="180.06" y1="410.00" x2="180.06" y2="413.50" stroke="#262626" stroke-width="1.20"/>
<text transform="translate(180.06 424.60) scale(1.000 1.170)" text-anchor="middle" style="font-family:'Liberation Serif',serif;font-weight:bold;font-size:10.75px;fill:#000;stroke:#000;stroke-width:0.22px">54</text>
<line x1="217.75" y1="410.00" x2="217.75" y2="413.50" stroke="#262626" stroke-width="1.20"/>
<text transform="translate(217.75 424.60) scale(1.000 1.170)" text-anchor="middle" style="font-family:'Liberation Serif',serif;font-weight:bold;font-size:10.75px;fill:#000;stroke:#000;stroke-width:0.22px">53</text>
<line x1="255.44" y1="410.00" x2="255.44" y2="413.50" stroke="#262626" stroke-width="1.20"/>
<text transform="translate(255.44 424.60) scale(1.000 1.170)" text-anchor="middle" style="font-family:'Liberation Serif',serif;font-weight:bold;font-size:10.75px;fill:#000;stroke:#000;stroke-width:0.22px">52</text>
<line x1="48.14" y1="410.00" x2="48.14" y2="412.00" stroke="#262626" stroke-width="1.00"/>
<line x1="85.83" y1="410.00" x2="85.83" y2="412.00" stroke="#262626" stroke-width="1.00"/>
<line x1="123.52" y1="410.00" x2="123.52" y2="412.00" stroke="#262626" stroke-width="1.00"/>
<line x1="161.22" y1="410.00" x2="161.22" y2="412.00" stroke="#262626" stroke-width="1.00"/>
<line x1="198.91" y1="410.00" x2="198.91" y2="412.00" stroke="#262626" stroke-width="1.00"/>
<line x1="236.59" y1="410.00" x2="236.59" y2="412.00" stroke="#262626" stroke-width="1.00"/>
<text transform="translate(9.60 243.90) scale(1.000 1.020)" style="font-family:'Liberation Serif',serif;font-weight:bold;font-size:26.00px;fill:#000;stroke:#000;stroke-width:0.22px">c</text>
<text transform="translate(142.60 443.30) scale(1.000 1.080)" text-anchor="middle" style="font-family:'Liberation Serif',serif;font-weight:bold;font-size:12.05px;fill:#000;stroke:#000;stroke-width:0.22px">Binding Energy (eV)</text>
<text transform="translate(17.50 319.30) rotate(-90) scale(1.083 1.000)" text-anchor="middle" style="font-family:'Liberation Serif',serif;font-weight:bold;font-size:11.00px;fill:#000;stroke:#000;stroke-width:0.22px">Intensity (a.u.)</text>
<text transform="translate(37.90 241.80)" style="font-family:'Liberation Serif',serif;font-weight:bold;font-size:9.60px;fill:#000;stroke:#000;stroke-width:0.22px">Se 3d</text>
<text x="61.2" y="294.5" style="font-family:'Liberation Serif',serif;font-weight:bold;font-size:9.4px;stroke:#000;stroke-width:0.22px">Se 3d<tspan dy="2.2" style="font-size:9px">5/2</tspan></text>
<text transform="translate(61.60 307.60)" style="font-family:'Liberation Serif',serif;font-weight:bold;font-size:9.40px;fill:#000;stroke:#000;stroke-width:0.22px">56.3 ev</text>
<text x="148" y="258.5" style="font-family:'Liberation Serif',serif;font-weight:bold;font-size:9.4px;stroke:#000;stroke-width:0.22px">Se 3d<tspan dy="2.2" style="font-size:9px">3/2</tspan></text>
<text transform="translate(153.20 273.30)" style="font-family:'Liberation Serif',serif;font-weight:bold;font-size:9.40px;fill:#000;stroke:#000;stroke-width:0.22px">55.7 ev</text>
<path d="M311.80 373.20 L312.30 373.16 L312.80 373.13 L313.30 373.09 L313.80 373.06 L314.30 373.02 L314.80 372.98 L315.30 372.94 L315.80 372.90 L316.30 372.86 L316.80 372.82 L317.30 372.78 L317.80 372.74 L318.30 372.70 L318.80 372.66 L319.30 372.62 L319.80 372.57 L320.30 372.53 L320.80 372.49 L321.30 372.44 L321.80 372.40 L322.30 372.35 L322.80 372.31 L323.30 372.26 L323.80 372.21 L324.30 372.17 L324.80 372.12 L325.30 372.07 L325.80 372.02 L326.30 371.97 L326.80 371.92 L327.30 371.87 L327.80 371.82 L328.30 371.77 L328.80 371.72 L329.30 371.67 L329.80 371.62 L330.30 371.57 L330.80 371.52 L331.30 371.47 L331.80 371.41 L332.30 371.36 L332.80 371.31 L333.30 371.25 L333.80 371.20 L334.30 371.15 L334.80 371.09 L335.30 371.04 L335.80 370.98 L336.30 370.93 L336.80 370.87 L337.30 370.81 L337.80 370.76 L338.30 370.70 L338.80 370.64 L339.30 370.58 L339.80 370.52 L340.30 370.46 L340.80 370.40 L341.30 370.33 L341.80 370.27 L342.30 370.21 L342.80 370.14 L343.30 370.07 L343.80 370.01 L344.30 369.94 L344.80 369.87 L345.30 369.80 L345.80 369.72 L346.30 369.65 L346.80 369.58 L347.30 369.50 L347.80 369.42 L348.30 369.34 L348.80 369.26 L349.30 369.18 L349.80 369.10 L350.30 369.02 L350.80 368.93 L351.30 368.84 L351.80 368.75 L352.30 368.65 L352.80 368.56 L353.30 368.46 L353.80 368.36 L354.30 368.26 L354.80 368.15 L355.30 368.04 L355.80 367.93 L356.30 367.82 L356.80 367.71 L357.30 367.59 L357.80 367.47 L358.30 367.35 L358.80 367.23 L359.30 367.10 L359.80 366.97 L360.30 366.84 L360.80 366.71 L361.30 366.57 L361.80 366.44 L362.30 366.30 L362.80 366.15 L363.30 366.01 L363.80 365.86 L364.30 365.71 L364.80 365.56 L365.30 365.41 L365.80 365.25 L366.30 365.09 L366.80 364.93 L367.30 364.76 L367.80 364.59 L368.30 364.41 L368.80 364.23 L369.30 364.04 L369.80 363.85 L370.30 363.65 L370.80 363.45 L371.30 363.23 L371.80 363.01 L372.30 362.79 L372.80 362.55 L373.30 362.30 L373.80 362.05 L374.30 361.79 L374.80 361.52 L375.30 361.23 L375.80 360.94 L376.30 360.61 L376.80 360.24 L377.30 359.83 L377.80 359.40 L378.30 358.93 L378.80 358.44 L379.30 357.94 L379.80 357.42 L380.30 356.90 L380.80 356.38 L381.30 355.85 L381.80 355.34 L382.30 354.84 L382.80 354.36 L383.30 353.90 L383.80 353.46 L384.30 353.05 L384.80 352.64 L385.30 352.25 L385.80 351.86 L386.30 351.47 L386.80 351.07 L387.30 350.66 L387.80 350.23 L388.30 349.78 L388.80 349.31 L389.30 348.81 L389.80 348.27 L390.30 347.70 L390.80 347.09 L391.30 346.45 L391.80 345.78 L392.30 345.08 L392.80 344.36 L393.30 343.62 L393.80 342.85 L394.30 342.07 L394.80 341.27 L395.30 340.46 L395.80 339.63 L396.30 338.75 L396.80 337.80 L397.30 336.81 L397.80 335.81 L398.30 334.82 L398.80 333.87 L399.30 332.97 L399.80 332.13 L400.30 331.31 L400.80 330.51 L401.30 329.69 L401.80 328.82 L402.30 327.89 L402.80 326.89 L403.30 325.82 L403.80 324.69 L404.30 323.50 L404.80 322.25 L405.30 320.94 L405.80 319.57 L406.30 318.12 L406.80 316.57 L407.30 314.93 L407.80 313.20 L408.30 311.40 L408.80 309.56 L409.30 307.67 L409.80 305.77 L410.30 303.81 L410.80 301.70 L411.30 299.59 L411.80 297.65 L412.30 295.84 L412.80 294.10 L413.30 292.42 L413.80 290.74 L414.30 289.02 L414.80 287.24 L415.30 285.36 L415.80 283.41 L416.30 281.40 L416.80 279.35 L417.30 277.29 L417.80 275.23 L418.30 273.20 L418.80 271.20 L419.30 269.22 L419.80 267.24 L420.30 265.24 L420.80 263.22 L421.30 261.16 L421.80 259.01 L422.30 256.55 L422.80 254.07 L423.30 251.94 L423.80 250.49 L424.30 249.34 L424.80 248.33 L425.30 247.48 L425.80 246.77 L426.30 246.20 L426.80 245.70 L427.30 245.23 L427.80 244.83 L428.30 244.54 L428.80 244.40 L429.30 244.44 L429.80 244.58 L430.30 244.81 L430.80 245.11 L431.30 245.45 L431.80 245.88 L432.30 246.57 L432.80 247.51 L433.30 248.65 L433.80 249.93 L434.30 251.30 L434.80 252.73 L435.30 254.22 L435.80 256.00 L436.30 258.02 L436.80 260.18 L437.30 262.39 L437.80 264.56 L438.30 266.60 L438.80 268.52 L439.30 270.40 L439.80 272.25 L440.30 274.10 L440.80 275.96 L441.30 277.85 L441.80 279.80 L442.30 281.80 L442.80 283.83 L443.30 285.90 L443.80 287.99 L444.30 290.11 L444.80 292.24 L445.30 294.40 L445.80 296.63 L446.30 298.90 L446.80 301.16 L447.30 303.40 L447.80 305.58 L448.30 307.69 L448.80 309.78 L449.30 311.85 L449.80 313.89 L450.30 315.90 L450.80 317.86 L451.30 319.78 L451.80 321.64 L452.30 323.45 L452.80 325.25 L453.30 327.01 L453.80 328.74 L454.30 330.41 L454.80 332.02 L455.30 333.55 L455.80 335.00 L456.30 336.39 L456.80 337.74 L457.30 339.05 L457.80 340.32 L458.30 341.55 L458.80 342.72 L459.30 343.85 L459.80 344.92 L460.30 345.93 L460.80 346.87 L461.30 347.78 L461.80 348.66 L462.30 349.50 L462.80 350.31 L463.30 351.10 L463.80 351.87 L464.30 352.61 L464.80 353.33 L465.30 354.03 L465.80 354.71 L466.30 355.38 L466.80 356.04 L467.30 356.69 L467.80 357.33 L468.30 357.96 L468.80 358.58 L469.30 359.19 L469.80 359.79 L470.30 360.39 L470.80 360.97 L471.30 361.54 L471.80 362.10 L472.30 362.65 L472.80 363.19 L473.30 363.72 L473.80 364.24 L474.30 364.74 L474.80 365.23 L475.30 365.71 L475.80 366.18 L476.30 366.63 L476.80 367.08 L477.30 367.51 L477.80 367.94 L478.30 368.37 L478.80 368.79 L479.30 369.21 L479.80 369.62 L480.30 370.02 L480.80 370.41 L481.30 370.80 L481.80 371.17 L482.30 371.54 L482.80 371.89 L483.30 372.23 L483.80 372.56 L484.30 372.88 L484.80 373.18 L485.30 373.47 L485.80 373.74 L486.30 374.00 L486.80 374.24 L487.30 374.48 L487.80 374.72 L488.30 374.94 L488.80 375.16 L489.30 375.38 L489.80 375.59 L490.30 375.79 L490.80 375.99 L491.30 376.18 L491.80 376.37 L492.30 376.56 L492.80 376.74 L493.30 376.91 L493.80 377.09 L494.30 377.26 L494.80 377.42 L495.30 377.59 L495.80 377.75 L496.30 377.90 L496.80 378.06 L497.30 378.21 L497.80 378.36 L498.30 378.51 L498.80 378.65 L499.30 378.80 L499.80 378.94 L500.30 379.09 L500.80 379.23 L501.30 379.36 L501.80 379.50 L502.30 379.63 L502.80 379.76 L503.30 379.89 L503.80 380.02 L504.30 380.14 L504.80 380.27 L505.30 380.39 L505.80 380.51 L506.30 380.63 L506.80 380.74 L507.30 380.86 L507.80 380.97 L508.30 381.08 L508.80 381.20 L509.30 381.31 L509.80 381.41 L510.30 381.52 L510.80 381.63 L511.30 381.74 L511.80 381.84 L512.30 381.95 L512.80 382.05 L513.30 382.15 L513.80 382.25 L514.30 382.36 L514.80 382.46 L515.30 382.56 L515.80 382.66 L516.30 382.76 L516.80 382.86 L517.30 382.96 L517.80 383.06 L518.30 383.16 L518.80 383.26 L519.30 383.36 L519.80 383.45 L520.30 383.55 L520.80 383.65 L521.30 383.74 L521.80 383.84 L522.30 383.93 L522.80 384.03 L523.30 384.12 L523.80 384.21 L524.30 384.30 L524.80 384.40 L525.30 384.49 L525.80 384.58 L526.30 384.67 L526.80 384.76 L527.30 384.84 L527.80 384.93 L528.30 385.02 L528.80 385.11 L529.30 385.19 L529.80 385.28 L530.30 385.36 L530.80 385.44 L531.30 385.53 L531.80 385.61 L532.30 385.69 L532.80 385.77 L533.30 385.85 L533.80 385.93 L534.30 386.01 L534.80 386.08 L535.30 386.16 L535.80 386.24 L536.30 386.31 L536.80 386.38 L537.30 386.46 L537.30 391.50 L536.80 391.50 L536.30 391.49 L535.80 391.49 L535.30 391.49 L534.80 391.48 L534.30 391.48 L533.80 391.48 L533.30 391.47 L532.80 391.47 L532.30 391.47 L531.80 391.46 L531.30 391.46 L530.80 391.45 L530.30 391.45 L529.80 391.45 L529.30 391.44 L528.80 391.44 L528.30 391.43 L527.80 391.43 L527.30 391.42 L526.80 391.42 L526.30 391.41 L525.80 391.41 L525.30 391.40 L524.80 391.40 L524.30 391.39 L523.80 391.38 L523.30 391.38 L522.80 391.37 L522.30 391.37 L521.80 391.36 L521.30 391.35 L520.80 391.35 L520.30 391.34 L519.80 391.34 L519.30 391.33 L518.80 391.32 L518.30 391.32 L517.80 391.31 L517.30 391.30 L516.80 391.30 L516.30 391.29 L515.80 391.28 L515.30 391.28 L514.80 391.27 L514.30 391.26 L513.80 391.25 L513.30 391.25 L512.80 391.24 L512.30 391.23 L511.80 391.23 L511.30 391.22 L510.80 391.21 L510.30 391.20 L509.80 391.20 L509.30 391.19 L508.80 391.18 L508.30 391.17 L507.80 391.17 L507.30 391.16 L506.80 391.15 L506.30 391.14 L505.80 391.14 L505.30 391.13 L504.80 391.12 L504.30 391.11 L503.80 391.10 L503.30 391.09 L502.80 391.08 L502.30 391.08 L501.80 391.07 L501.30 391.06 L500.80 391.05 L500.30 391.04 L499.80 391.03 L499.30 391.02 L498.80 391.01 L498.30 391.00 L497.80 390.99 L497.30 390.98 L496.80 390.97 L496.30 390.96 L495.80 390.95 L495.30 390.94 L494.80 390.93 L494.30 390.92 L493.80 390.90 L493.30 390.89 L492.80 390.88 L492.30 390.87 L491.80 390.86 L491.30 390.84 L490.80 390.83 L490.30 390.82 L489.80 390.81 L489.30 390.79 L488.80 390.78 L488.30 390.76 L487.80 390.75 L487.30 390.74 L486.80 390.72 L486.30 390.71 L485.80 390.69 L485.30 390.68 L484.80 390.66 L484.30 390.65 L483.80 390.63 L483.30 390.61 L482.80 390.60 L482.30 390.58 L481.80 390.56 L481.30 390.55 L480.80 390.53 L480.30 390.51 L479.80 390.49 L479.30 390.47 L478.80 390.45 L478.30 390.43 L477.80 390.41 L477.30 390.39 L476.80 390.36 L476.30 390.34 L475.80 390.31 L475.30 390.29 L474.80 390.26 L474.30 390.23 L473.80 390.20 L473.30 390.17 L472.80 390.14 L472.30 390.11 L471.80 390.07 L471.30 390.04 L470.80 390.00 L470.30 389.97 L469.80 389.93 L469.30 389.90 L468.80 389.86 L468.30 389.82 L467.80 389.78 L467.30 389.74 L466.80 389.70 L466.30 389.66 L465.80 389.62 L465.30 389.57 L464.80 389.53 L464.30 389.49 L463.80 389.44 L463.30 389.40 L462.80 389.35 L462.30 389.31 L461.80 389.26 L461.30 389.21 L460.80 389.16 L460.30 389.11 L459.80 389.06 L459.30 389.01 L458.80 388.96 L458.30 388.91 L457.80 388.86 L457.30 388.81 L456.80 388.76 L456.30 388.70 L455.80 388.65 L455.30 388.60 L454.80 388.54 L454.30 388.49 L453.80 388.43 L453.30 388.37 L452.80 388.31 L452.30 388.24 L451.80 388.18 L451.30 388.11 L450.80 388.03 L450.30 387.96 L449.80 387.88 L449.30 387.80 L448.80 387.72 L448.30 387.63 L447.80 387.55 L447.30 387.46 L446.80 387.37 L446.30 387.28 L445.80 387.18 L445.30 387.09 L444.80 387.00 L444.30 386.90 L443.80 386.80 L443.30 386.70 L442.80 386.60 L442.30 386.50 L441.80 386.40 L441.30 386.30 L440.80 386.20 L440.30 386.10 L439.80 386.00 L439.30 385.90 L438.80 385.79 L438.30 385.69 L437.80 385.59 L437.30 385.49 L436.80 385.39 L436.30 385.29 L435.80 385.19 L435.30 385.09 L434.80 384.99 L434.30 384.89 L433.80 384.79 L433.30 384.70 L432.80 384.60 L432.30 384.51 L431.80 384.42 L431.30 384.33 L430.80 384.24 L430.30 384.15 L429.80 384.07 L429.30 383.98 L428.80 383.89 L428.30 383.81 L427.80 383.72 L427.30 383.63 L426.80 383.54 L426.30 383.45 L425.80 383.36 L425.30 383.27 L424.80 383.18 L424.30 383.09 L423.80 383.00 L423.30 382.91 L422.80 382.83 L422.30 382.74 L421.80 382.65 L421.30 382.56 L420.80 382.47 L420.30 382.38 L419.80 382.29 L419.30 382.20 L418.80 382.12 L418.30 382.03 L417.80 381.95 L417.30 381.86 L416.80 381.78 L416.30 381.70 L415.80 381.62 L415.30 381.54 L414.80 381.46 L414.30 381.38 L413.80 381.30 L413.30 381.23 L412.80 381.16 L412.30 381.08 L411.80 381.01 L411.30 380.95 L410.80 380.88 L410.30 380.81 L409.80 380.75 L409.30 380.69 L408.80 380.63 L408.30 380.58 L407.80 380.52 L407.30 380.47 L406.80 380.42 L406.30 380.36 L405.80 380.31 L405.30 380.26 L404.80 380.21 L404.30 380.16 L403.80 380.11 L403.30 380.06 L402.80 380.02 L402.30 379.97 L401.80 379.92 L401.30 379.87 L400.80 379.83 L400.30 379.78 L399.80 379.73 L399.30 379.69 L398.80 379.65 L398.30 379.60 L397.80 379.56 L397.30 379.52 L396.80 379.47 L396.30 379.43 L395.80 379.39 L395.30 379.35 L394.80 379.31 L394.30 379.27 L393.80 379.23 L393.30 379.20 L392.80 379.16 L392.30 379.12 L391.80 379.09 L391.30 379.06 L390.80 379.02 L390.30 378.99 L389.80 378.96 L389.30 378.92 L388.80 378.89 L388.30 378.86 L387.80 378.83 L387.30 378.81 L386.80 378.78 L386.30 378.75 L385.80 378.73 L385.30 378.70 L384.80 378.68 L384.30 378.66 L383.80 378.63 L383.30 378.61 L382.80 378.59 L382.30 378.57 L381.80 378.55 L381.30 378.53 L380.80 378.51 L380.30 378.50 L379.80 378.48 L379.30 378.46 L378.80 378.44 L378.30 378.42 L377.80 378.41 L377.30 378.39 L376.80 378.37 L376.30 378.36 L375.80 378.34 L375.30 378.33 L374.80 378.31 L374.30 378.30 L373.80 378.28 L373.30 378.27 L372.80 378.25 L372.30 378.24 L371.80 378.22 L371.30 378.21 L370.80 378.19 L370.30 378.18 L369.80 378.17 L369.30 378.15 L368.80 378.14 L368.30 378.13 L367.80 378.12 L367.30 378.10 L366.80 378.09 L366.30 378.08 L365.80 378.07 L365.30 378.06 L364.80 378.04 L364.30 378.03 L363.80 378.02 L363.30 378.01 L362.80 378.00 L362.30 377.99 L361.80 377.98 L361.30 377.96 L360.80 377.95 L360.30 377.94 L359.80 377.93 L359.30 377.92 L358.80 377.91 L358.30 377.90 L357.80 377.89 L357.30 377.88 L356.80 377.87 L356.30 377.86 L355.80 377.85 L355.30 377.84 L354.80 377.83 L354.30 377.82 L353.80 377.81 L353.30 377.80 L352.80 377.79 L352.30 377.78 L351.80 377.76 L351.30 377.75 L350.80 377.74 L350.30 377.73 L349.80 377.72 L349.30 377.71 L348.80 377.70 L348.30 377.69 L347.80 377.68 L347.30 377.67 L346.80 377.66 L346.30 377.65 L345.80 377.64 L345.30 377.63 L344.80 377.61 L344.30 377.60 L343.80 377.59 L343.30 377.58 L342.80 377.57 L342.30 377.56 L341.80 377.54 L341.30 377.53 L340.80 377.52 L340.30 377.51 L339.80 377.49 L339.30 377.48 L338.80 377.47 L338.30 377.46 L337.80 377.44 L337.30 377.43 L336.80 377.42 L336.30 377.41 L335.80 377.39 L335.30 377.38 L334.80 377.37 L334.30 377.36 L333.80 377.34 L333.30 377.33 L332.80 377.32 L332.30 377.31 L331.80 377.29 L331.30 377.28 L330.80 377.27 L330.30 377.26 L329.80 377.24 L329.30 377.23 L328.80 377.22 L328.30 377.21 L327.80 377.19 L327.30 377.18 L326.80 377.17 L326.30 377.16 L325.80 377.15 L325.30 377.13 L324.80 377.12 L324.30 377.11 L323.80 377.10 L323.30 377.08 L322.80 377.07 L322.30 377.06 L321.80 377.05 L321.30 377.03 L320.80 377.02 L320.30 377.01 L319.80 377.00 L319.30 376.98 L318.80 376.97 L318.30 376.96 L317.80 376.95 L317.30 376.94 L316.80 376.92 L316.30 376.91 L315.80 376.90 L315.30 376.89 L314.80 376.87 L314.30 376.86 L313.80 376.85 L313.30 376.84 L312.80 376.82 L312.30 376.81 L311.80 376.80Z" fill="url(#gpur)"/>
<path d="M311.80 376.80 L312.30 376.81 L312.80 376.82 L313.30 376.84 L313.80 376.85 L314.30 376.86 L314.80 376.87 L315.30 376.89 L315.80 376.90 L316.30 376.91 L316.80 376.92 L317.30 376.94 L317.80 376.95 L318.30 376.96 L318.80 376.97 L319.30 376.98 L319.80 377.00 L320.30 377.01 L320.80 377.02 L321.30 377.03 L321.80 377.05 L322.30 377.06 L322.80 377.07 L323.30 377.08 L323.80 377.10 L324.30 377.11 L324.80 377.12 L325.30 377.13 L325.80 377.15 L326.30 377.16 L326.80 377.17 L327.30 377.18 L327.80 377.19 L328.30 377.21 L328.80 377.22 L329.30 377.23 L329.80 377.24 L330.30 377.26 L330.80 377.27 L331.30 377.28 L331.80 377.29 L332.30 377.31 L332.80 377.32 L333.30 377.33 L333.80 377.34 L334.30 377.36 L334.80 377.37 L335.30 377.38 L335.80 377.39 L336.30 377.41 L336.80 377.42 L337.30 377.43 L337.80 377.44 L338.30 377.46 L338.80 377.47 L339.30 377.48 L339.80 377.49 L340.30 377.51 L340.80 377.52 L341.30 377.53 L341.80 377.54 L342.30 377.56 L342.80 377.57 L343.30 377.58 L343.80 377.59 L344.30 377.60 L344.80 377.61 L345.30 377.63 L345.80 377.64 L346.30 377.65 L346.80 377.66 L347.30 377.67 L347.80 377.68 L348.30 377.69 L348.80 377.70 L349.30 377.71 L349.80 377.72 L350.30 377.73 L350.80 377.74 L351.30 377.75 L351.80 377.76 L352.30 377.78 L352.80 377.79 L353.30 377.80 L353.80 377.81 L354.30 377.82 L354.80 377.83 L355.30 377.84 L355.80 377.85 L356.30 377.86 L356.80 377.87 L357.30 377.88 L357.80 377.89 L358.30 377.90 L358.80 377.91 L359.30 377.92 L359.80 377.93 L360.30 377.94 L360.80 377.95 L361.30 377.96 L361.80 377.98 L362.30 377.99 L362.80 378.00 L363.30 378.01 L363.80 378.02 L364.30 378.03 L364.80 378.04 L365.30 378.06 L365.80 378.07 L366.30 378.08 L366.80 378.09 L367.30 378.10 L367.80 378.12 L368.30 378.13 L368.80 378.14 L369.30 378.15 L369.80 378.17 L370.30 378.18 L370.80 378.19 L371.30 378.21 L371.80 378.22 L372.30 378.24 L372.80 378.25 L373.30 378.27 L373.80 378.28 L374.30 378.30 L374.80 378.31 L375.30 378.33 L375.80 378.34 L376.30 378.36 L376.80 378.37 L377.30 378.39 L377.80 378.41 L378.30 378.42 L378.80 378.44 L379.30 378.46 L379.80 378.48 L380.30 378.50 L380.80 378.51 L381.30 378.53 L381.80 378.55 L382.30 378.57 L382.80 378.59 L383.30 378.61 L383.80 378.63 L384.30 378.66 L384.80 378.68 L385.30 378.70 L385.80 378.73 L386.30 378.75 L386.80 378.78 L387.30 378.81 L387.80 378.83 L388.30 378.86 L388.80 378.89 L389.30 378.92 L389.80 378.96 L390.30 378.99 L390.80 379.02 L391.30 379.06 L391.80 379.09 L392.30 379.12 L392.80 379.16 L393.30 379.20 L393.80 379.23 L394.30 379.27 L394.80 379.31 L395.30 379.35 L395.80 379.39 L396.30 379.43 L396.80 379.47 L397.30 379.52 L397.80 379.56 L398.30 379.60 L398.80 379.65 L399.30 379.69 L399.80 379.73 L400.30 379.78 L400.80 379.83 L401.30 379.87 L401.80 379.92 L402.30 379.97 L402.80 380.02 L403.30 380.06 L403.80 380.11 L404.30 380.16 L404.80 380.21 L405.30 380.26 L405.80 380.31 L406.30 380.36 L406.80 380.42 L407.30 380.47 L407.80 380.52 L408.30 380.58 L408.80 380.63 L409.30 380.69 L409.80 380.75 L410.30 380.81 L410.80 380.88 L411.30 380.95 L411.80 381.01 L412.30 381.08 L412.80 381.16 L413.30 381.23 L413.80 381.30 L414.30 381.38 L414.80 381.46 L415.30 381.54 L415.80 381.62 L416.30 381.70 L416.80 381.78 L417.30 381.86 L417.80 381.95 L418.30 382.03 L418.80 382.12 L419.30 382.20 L419.80 382.29 L420.30 382.38 L420.80 382.47 L421.30 382.56 L421.80 382.65 L422.30 382.74 L422.80 382.83 L423.30 382.91 L423.80 383.00 L424.30 383.09 L424.80 383.18 L425.30 383.27 L425.80 383.36 L426.30 383.45 L426.80 383.54 L427.30 383.63 L427.80 383.72 L428.30 383.81 L428.80 383.89 L429.30 383.98 L429.80 384.07 L430.30 384.15 L430.80 384.24 L431.30 384.33 L431.80 384.42 L432.30 384.51 L432.80 384.60 L433.30 384.70 L433.80 384.79 L434.30 384.89 L434.80 384.99 L435.30 385.09 L435.80 385.19 L436.30 385.29 L436.80 385.39 L437.30 385.49 L437.80 385.59 L438.30 385.69 L438.80 385.79 L439.30 385.90 L439.80 386.00 L440.30 386.10 L440.80 386.20 L441.30 386.30 L441.80 386.40 L442.30 386.50 L442.80 386.60 L443.30 386.70 L443.80 386.80 L444.30 386.90 L444.80 387.00 L445.30 387.09 L445.80 387.18 L446.30 387.28 L446.80 387.37 L447.30 387.46 L447.80 387.55 L448.30 387.63 L448.80 387.72 L449.30 387.80 L449.80 387.88 L450.30 387.96 L450.80 388.03 L451.30 388.11 L451.80 388.18 L452.30 388.24 L452.80 388.31 L453.30 388.37 L453.80 388.43 L454.30 388.49 L454.80 388.54 L455.30 388.60 L455.80 388.65 L456.30 388.70 L456.80 388.76 L457.30 388.81 L457.80 388.86 L458.30 388.91 L458.80 388.96 L459.30 389.01 L459.80 389.06 L460.30 389.11 L460.80 389.16 L461.30 389.21 L461.80 389.26 L462.30 389.31 L462.80 389.35 L463.30 389.40 L463.80 389.44 L464.30 389.49 L464.80 389.53 L465.30 389.57 L465.80 389.62 L466.30 389.66 L466.80 389.70 L467.30 389.74 L467.80 389.78 L468.30 389.82 L468.80 389.86 L469.30 389.90 L469.80 389.93 L470.30 389.97 L470.80 390.00 L471.30 390.04 L471.80 390.07 L472.30 390.11 L472.80 390.14 L473.30 390.17 L473.80 390.20 L474.30 390.23 L474.80 390.26 L475.30 390.29 L475.80 390.31 L476.30 390.34 L476.80 390.36 L477.30 390.39 L477.80 390.41 L478.30 390.43 L478.80 390.45 L479.30 390.47 L479.80 390.49 L480.30 390.51 L480.80 390.53 L481.30 390.55 L481.80 390.56 L482.30 390.58 L482.80 390.60 L483.30 390.61 L483.80 390.63 L484.30 390.65 L484.80 390.66 L485.30 390.68 L485.80 390.69 L486.30 390.71 L486.80 390.72 L487.30 390.74 L487.80 390.75 L488.30 390.76 L488.80 390.78 L489.30 390.79 L489.80 390.81 L490.30 390.82 L490.80 390.83 L491.30 390.84 L491.80 390.86 L492.30 390.87 L492.80 390.88 L493.30 390.89 L493.80 390.90 L494.30 390.92 L494.80 390.93 L495.30 390.94 L495.80 390.95 L496.30 390.96 L496.80 390.97 L497.30 390.98 L497.80 390.99 L498.30 391.00 L498.80 391.01 L499.30 391.02 L499.80 391.03 L500.30 391.04 L500.80 391.05 L501.30 391.06 L501.80 391.07 L502.30 391.08 L502.80 391.08 L503.30 391.09 L503.80 391.10 L504.30 391.11 L504.80 391.12 L505.30 391.13 L505.80 391.14 L506.30 391.14 L506.80 391.15 L507.30 391.16 L507.80 391.17 L508.30 391.17 L508.80 391.18 L509.30 391.19 L509.80 391.20 L510.30 391.20 L510.80 391.21 L511.30 391.22 L511.80 391.23 L512.30 391.23 L512.80 391.24 L513.30 391.25 L513.80 391.25 L514.30 391.26 L514.80 391.27 L515.30 391.28 L515.80 391.28 L516.30 391.29 L516.80 391.30 L517.30 391.30 L517.80 391.31 L518.30 391.32 L518.80 391.32 L519.30 391.33 L519.80 391.34 L520.30 391.34 L520.80 391.35 L521.30 391.35 L521.80 391.36 L522.30 391.37 L522.80 391.37 L523.30 391.38 L523.80 391.38 L524.30 391.39 L524.80 391.40 L525.30 391.40 L525.80 391.41 L526.30 391.41 L526.80 391.42 L527.30 391.42 L527.80 391.43 L528.30 391.43 L528.80 391.44 L529.30 391.44 L529.80 391.45 L530.30 391.45 L530.80 391.45 L531.30 391.46 L531.80 391.46 L532.30 391.47 L532.80 391.47 L533.30 391.47 L533.80 391.48 L534.30 391.48 L534.80 391.48 L535.30 391.49 L535.80 391.49 L536.30 391.49 L536.80 391.50 L537.30 391.50" fill="none" stroke="#2e2e2e" stroke-width="1.15"/>
<path d="M311.80 373.20 L312.30 373.16 L312.80 373.13 L313.30 373.09 L313.80 373.06 L314.30 373.02 L314.80 372.98 L315.30 372.94 L315.80 372.90 L316.30 372.86 L316.80 372.82 L317.30 372.78 L317.80 372.74 L318.30 372.70 L318.80 372.66 L319.30 372.62 L319.80 372.57 L320.30 372.53 L320.80 372.49 L321.30 372.44 L321.80 372.40 L322.30 372.35 L322.80 372.31 L323.30 372.26 L323.80 372.21 L324.30 372.17 L324.80 372.12 L325.30 372.07 L325.80 372.02 L326.30 371.97 L326.80 371.92 L327.30 371.87 L327.80 371.82 L328.30 371.77 L328.80 371.72 L329.30 371.67 L329.80 371.62 L330.30 371.57 L330.80 371.52 L331.30 371.47 L331.80 371.41 L332.30 371.36 L332.80 371.31 L333.30 371.25 L333.80 371.20 L334.30 371.15 L334.80 371.09 L335.30 371.04 L335.80 370.98 L336.30 370.93 L336.80 370.87 L337.30 370.81 L337.80 370.76 L338.30 370.70 L338.80 370.64 L339.30 370.58 L339.80 370.52 L340.30 370.46 L340.80 370.40 L341.30 370.33 L341.80 370.27 L342.30 370.21 L342.80 370.14 L343.30 370.07 L343.80 370.01 L344.30 369.94 L344.80 369.87 L345.30 369.80 L345.80 369.72 L346.30 369.65 L346.80 369.58 L347.30 369.50 L347.80 369.42 L348.30 369.34 L348.80 369.26 L349.30 369.18 L349.80 369.10 L350.30 369.02 L350.80 368.93 L351.30 368.84 L351.80 368.75 L352.30 368.65 L352.80 368.56 L353.30 368.46 L353.80 368.36 L354.30 368.26 L354.80 368.15 L355.30 368.04 L355.80 367.93 L356.30 367.82 L356.80 367.71 L357.30 367.59 L357.80 367.47 L358.30 367.35 L358.80 367.23 L359.30 367.10 L359.80 366.97 L360.30 366.84 L360.80 366.71 L361.30 366.57 L361.80 366.44 L362.30 366.30 L362.80 366.15 L363.30 366.01 L363.80 365.86 L364.30 365.71 L364.80 365.56 L365.30 365.41 L365.80 365.25 L366.30 365.09 L366.80 364.93 L367.30 364.76 L367.80 364.59 L368.30 364.41 L368.80 364.23 L369.30 364.04 L369.80 363.85 L370.30 363.65 L370.80 363.45 L371.30 363.23 L371.80 363.01 L372.30 362.79 L372.80 362.55 L373.30 362.30 L373.80 362.05 L374.30 361.79 L374.80 361.52 L375.30 361.23 L375.80 360.94 L376.30 360.61 L376.80 360.24 L377.30 359.83 L377.80 359.40 L378.30 358.93 L378.80 358.44 L379.30 357.94 L379.80 357.42 L380.30 356.90 L380.80 356.38 L381.30 355.85 L381.80 355.34 L382.30 354.84 L382.80 354.36 L383.30 353.90 L383.80 353.46 L384.30 353.05 L384.80 352.64 L385.30 352.25 L385.80 351.86 L386.30 351.47 L386.80 351.07 L387.30 350.66 L387.80 350.23 L388.30 349.78 L388.80 349.31 L389.30 348.81 L389.80 348.27 L390.30 347.70 L390.80 347.09 L391.30 346.45 L391.80 345.78 L392.30 345.08 L392.80 344.36 L393.30 343.62 L393.80 342.85 L394.30 342.07 L394.80 341.27 L395.30 340.46 L395.80 339.63 L396.30 338.75 L396.80 337.80 L397.30 336.81 L397.80 335.81 L398.30 334.82 L398.80 333.87 L399.30 332.97 L399.80 332.13 L400.30 331.31 L400.80 330.51 L401.30 329.69 L401.80 328.82 L402.30 327.89 L402.80 326.89 L403.30 325.82 L403.80 324.69 L404.30 323.50 L404.80 322.25 L405.30 320.94 L405.80 319.57 L406.30 318.12 L406.80 316.57 L407.30 314.93 L407.80 313.20 L408.30 311.40 L408.80 309.56 L409.30 307.67 L409.80 305.77 L410.30 303.81 L410.80 301.70 L411.30 299.59 L411.80 297.65 L412.30 295.84 L412.80 294.10 L413.30 292.42 L413.80 290.74 L414.30 289.02 L414.80 287.24 L415.30 285.36 L415.80 283.41 L416.30 281.40 L416.80 279.35 L417.30 277.29 L417.80 275.23 L418.30 273.20 L418.80 271.20 L419.30 269.22 L419.80 267.24 L420.30 265.24 L420.80 263.22 L421.30 261.16 L421.80 259.01 L422.30 256.55 L422.80 254.07 L423.30 251.94 L423.80 250.49 L424.30 249.34 L424.80 248.33 L425.30 247.48 L425.80 246.77 L426.30 246.20 L426.80 245.70 L427.30 245.23 L427.80 244.83 L428.30 244.54 L428.80 244.40 L429.30 244.44 L429.80 244.58 L430.30 244.81 L430.80 245.11 L431.30 245.45 L431.80 245.88 L432.30 246.57 L432.80 247.51 L433.30 248.65 L433.80 249.93 L434.30 251.30 L434.80 252.73 L435.30 254.22 L435.80 256.00 L436.30 258.02 L436.80 260.18 L437.30 262.39 L437.80 264.56 L438.30 266.60 L438.80 268.52 L439.30 270.40 L439.80 272.25 L440.30 274.10 L440.80 275.96 L441.30 277.85 L441.80 279.80 L442.30 281.80 L442.80 283.83 L443.30 285.90 L443.80 287.99 L444.30 290.11 L444.80 292.24 L445.30 294.40 L445.80 296.63 L446.30 298.90 L446.80 301.16 L447.30 303.40 L447.80 305.58 L448.30 307.69 L448.80 309.78 L449.30 311.85 L449.80 313.89 L450.30 315.90 L450.80 317.86 L451.30 319.78 L451.80 321.64 L452.30 323.45 L452.80 325.25 L453.30 327.01 L453.80 328.74 L454.30 330.41 L454.80 332.02 L455.30 333.55 L455.80 335.00 L456.30 336.39 L456.80 337.74 L457.30 339.05 L457.80 340.32 L458.30 341.55 L458.80 342.72 L459.30 343.85 L459.80 344.92 L460.30 345.93 L460.80 346.87 L461.30 347.78 L461.80 348.66 L462.30 349.50 L462.80 350.31 L463.30 351.10 L463.80 351.87 L464.30 352.61 L464.80 353.33 L465.30 354.03 L465.80 354.71 L466.30 355.38 L466.80 356.04 L467.30 356.69 L467.80 357.33 L468.30 357.96 L468.80 358.58 L469.30 359.19 L469.80 359.79 L470.30 360.39 L470.80 360.97 L471.30 361.54 L471.80 362.10 L472.30 362.65 L472.80 363.19 L473.30 363.72 L473.80 364.24 L474.30 364.74 L474.80 365.23 L475.30 365.71 L475.80 366.18 L476.30 366.63 L476.80 367.08 L477.30 367.51 L477.80 367.94 L478.30 368.37 L478.80 368.79 L479.30 369.21 L479.80 369.62 L480.30 370.02 L480.80 370.41 L481.30 370.80 L481.80 371.17 L482.30 371.54 L482.80 371.89 L483.30 372.23 L483.80 372.56 L484.30 372.88 L484.80 373.18 L485.30 373.47 L485.80 373.74 L486.30 374.00 L486.80 374.24 L487.30 374.48 L487.80 374.72 L488.30 374.94 L488.80 375.16 L489.30 375.38 L489.80 375.59 L490.30 375.79 L490.80 375.99 L491.30 376.18 L491.80 376.37 L492.30 376.56 L492.80 376.74 L493.30 376.91 L493.80 377.09 L494.30 377.26 L494.80 377.42 L495.30 377.59 L495.80 377.75 L496.30 377.90 L496.80 378.06 L497.30 378.21 L497.80 378.36 L498.30 378.51 L498.80 378.65 L499.30 378.80 L499.80 378.94 L500.30 379.09 L500.80 379.23 L501.30 379.36 L501.80 379.50 L502.30 379.63 L502.80 379.76 L503.30 379.89 L503.80 380.02 L504.30 380.14 L504.80 380.27 L505.30 380.39 L505.80 380.51 L506.30 380.63 L506.80 380.74 L507.30 380.86 L507.80 380.97 L508.30 381.08 L508.80 381.20 L509.30 381.31 L509.80 381.41 L510.30 381.52 L510.80 381.63 L511.30 381.74 L511.80 381.84 L512.30 381.95 L512.80 382.05 L513.30 382.15 L513.80 382.25 L514.30 382.36 L514.80 382.46 L515.30 382.56 L515.80 382.66 L516.30 382.76 L516.80 382.86 L517.30 382.96 L517.80 383.06 L518.30 383.16 L518.80 383.26 L519.30 383.36 L519.80 383.45 L520.30 383.55 L520.80 383.65 L521.30 383.74 L521.80 383.84 L522.30 383.93 L522.80 384.03 L523.30 384.12 L523.80 384.21 L524.30 384.30 L524.80 384.40 L525.30 384.49 L525.80 384.58 L526.30 384.67 L526.80 384.76 L527.30 384.84 L527.80 384.93 L528.30 385.02 L528.80 385.11 L529.30 385.19 L529.80 385.28 L530.30 385.36 L530.80 385.44 L531.30 385.53 L531.80 385.61 L532.30 385.69 L532.80 385.77 L533.30 385.85 L533.80 385.93 L534.30 386.01 L534.80 386.08 L535.30 386.16 L535.80 386.24 L536.30 386.31 L536.80 386.38 L537.30 386.46" fill="none" stroke="#7650d0" stroke-width="1.05"/>
<path d="M311.90 373.49a1.30 1.30 0 1 0 2.60 0a1.30 1.30 0 1 0 -2.60 0M313.48 370.31a1.30 1.30 0 1 0 2.60 0a1.30 1.30 0 1 0 -2.60 0M315.91 369.74a1.30 1.30 0 1 0 2.60 0a1.30 1.30 0 1 0 -2.60 0M317.62 366.76a1.30 1.30 0 1 0 2.60 0a1.30 1.30 0 1 0 -2.60 0M319.57 370.37a1.30 1.30 0 1 0 2.60 0a1.30 1.30 0 1 0 -2.60 0M321.69 374.59a1.30 1.30 0 1 0 2.60 0a1.30 1.30 0 1 0 -2.60 0M323.73 369.83a1.30 1.30 0 1 0 2.60 0a1.30 1.30 0 1 0 -2.60 0M326.03 369.66a1.30 1.30 0 1 0 2.60 0a1.30 1.30 0 1 0 -2.60 0M327.63 366.19a1.30 1.30 0 1 0 2.60 0a1.30 1.30 0 1 0 -2.60 0M329.98 371.77a1.30 1.30 0 1 0 2.60 0a1.30 1.30 0 1 0 -2.60 0M331.94 366.37a1.30 1.30 0 1 0 2.60 0a1.30 1.30 0 1 0 -2.60 0M334.07 372.31a1.30 1.30 0 1 0 2.60 0a1.30 1.30 0 1 0 -2.60 0M335.81 364.64a1.30 1.30 0 1 0 2.60 0a1.30 1.30 0 1 0 -2.60 0M337.94 365.07a1.30 1.30 0 1 0 2.60 0a1.30 1.30 0 1 0 -2.60 0M339.64 368.26a1.30 1.30 0 1 0 2.60 0a1.30 1.30 0 1 0 -2.60 0M341.89 367.33a1.30 1.30 0 1 0 2.60 0a1.30 1.30 0 1 0 -2.60 0M344.09 369.04a1.30 1.30 0 1 0 2.60 0a1.30 1.30 0 1 0 -2.60 0M345.46 366.93a1.30 1.30 0 1 0 2.60 0a1.30 1.30 0 1 0 -2.60 0M347.64 368.84a1.30 1.30 0 1 0 2.60 0a1.30 1.30 0 1 0 -2.60 0M349.35 365.60a1.30 1.30 0 1 0 2.60 0a1.30 1.30 0 1 0 -2.60 0M351.55 373.66a1.30 1.30 0 1 0 2.60 0a1.30 1.30 0 1 0 -2.60 0M353.92 369.43a1.30 1.30 0 1 0 2.60 0a1.30 1.30 0 1 0 -2.60 0M355.44 368.64a1.30 1.30 0 1 0 2.60 0a1.30 1.30 0 1 0 -2.60 0M357.77 368.34a1.30 1.30 0 1 0 2.60 0a1.30 1.30 0 1 0 -2.60 0M360.03 366.26a1.30 1.30 0 1 0 2.60 0a1.30 1.30 0 1 0 -2.60 0M361.45 365.81a1.30 1.30 0 1 0 2.60 0a1.30 1.30 0 1 0 -2.60 0M363.47 364.28a1.30 1.30 0 1 0 2.60 0a1.30 1.30 0 1 0 -2.60 0M365.78 363.74a1.30 1.30 0 1 0 2.60 0a1.30 1.30 0 1 0 -2.60 0M367.48 366.77a1.30 1.30 0 1 0 2.60 0a1.30 1.30 0 1 0 -2.60 0M369.44 362.70a1.30 1.30 0 1 0 2.60 0a1.30 1.30 0 1 0 -2.60 0M371.91 362.89a1.30 1.30 0 1 0 2.60 0a1.30 1.30 0 1 0 -2.60 0M373.95 358.66a1.30 1.30 0 1 0 2.60 0a1.30 1.30 0 1 0 -2.60 0M375.68 361.62a1.30 1.30 0 1 0 2.60 0a1.30 1.30 0 1 0 -2.60 0M378.03 356.39a1.30 1.30 0 1 0 2.60 0a1.30 1.30 0 1 0 -2.60 0M379.57 360.09a1.30 1.30 0 1 0 2.60 0a1.30 1.30 0 1 0 -2.60 0M381.69 346.44a1.30 1.30 0 1 0 2.60 0a1.30 1.30 0 1 0 -2.60 0M383.48 349.07a1.30 1.30 0 1 0 2.60 0a1.30 1.30 0 1 0 -2.60 0M385.94 355.41a1.30 1.30 0 1 0 2.60 0a1.30 1.30 0 1 0 -2.60 0M387.61 349.56a1.30 1.30 0 1 0 2.60 0a1.30 1.30 0 1 0 -2.60 0M389.52 342.25a1.30 1.30 0 1 0 2.60 0a1.30 1.30 0 1 0 -2.60 0M392.09 342.03a1.30 1.30 0 1 0 2.60 0a1.30 1.30 0 1 0 -2.60 0M393.31 338.40a1.30 1.30 0 1 0 2.60 0a1.30 1.30 0 1 0 -2.60 0M395.68 334.31a1.30 1.30 0 1 0 2.60 0a1.30 1.30 0 1 0 -2.60 0M397.87 328.79a1.30 1.30 0 1 0 2.60 0a1.30 1.30 0 1 0 -2.60 0M399.78 332.03a1.30 1.30 0 1 0 2.60 0a1.30 1.30 0 1 0 -2.60 0M401.56 325.80a1.30 1.30 0 1 0 2.60 0a1.30 1.30 0 1 0 -2.60 0M402.46 321.66a1.30 1.30 0 1 0 2.60 0a1.30 1.30 0 1 0 -2.60 0M403.19 315.72a1.30 1.30 0 1 0 2.60 0a1.30 1.30 0 1 0 -2.60 0M406.50 310.77a1.30 1.30 0 1 0 2.60 0a1.30 1.30 0 1 0 -2.60 0M408.22 303.06a1.30 1.30 0 1 0 2.60 0a1.30 1.30 0 1 0 -2.60 0M410.09 296.19a1.30 1.30 0 1 0 2.60 0a1.30 1.30 0 1 0 -2.60 0M411.84 290.56a1.30 1.30 0 1 0 2.60 0a1.30 1.30 0 1 0 -2.60 0M414.82 283.51a1.30 1.30 0 1 0 2.60 0a1.30 1.30 0 1 0 -2.60 0M415.66 275.94a1.30 1.30 0 1 0 2.60 0a1.30 1.30 0 1 0 -2.60 0M416.10 269.38a1.30 1.30 0 1 0 2.60 0a1.30 1.30 0 1 0 -2.60 0M418.54 260.11a1.30 1.30 0 1 0 2.60 0a1.30 1.30 0 1 0 -2.60 0M420.46 252.14a1.30 1.30 0 1 0 2.60 0a1.30 1.30 0 1 0 -2.60 0M423.32 247.98a1.30 1.30 0 1 0 2.60 0a1.30 1.30 0 1 0 -2.60 0M423.23 244.74a1.30 1.30 0 1 0 2.60 0a1.30 1.30 0 1 0 -2.60 0M425.42 245.44a1.30 1.30 0 1 0 2.60 0a1.30 1.30 0 1 0 -2.60 0M430.51 244.95a1.30 1.30 0 1 0 2.60 0a1.30 1.30 0 1 0 -2.60 0M432.45 245.78a1.30 1.30 0 1 0 2.60 0a1.30 1.30 0 1 0 -2.60 0M433.33 250.18a1.30 1.30 0 1 0 2.60 0a1.30 1.30 0 1 0 -2.60 0M434.67 255.17a1.30 1.30 0 1 0 2.60 0a1.30 1.30 0 1 0 -2.60 0M437.26 262.60a1.30 1.30 0 1 0 2.60 0a1.30 1.30 0 1 0 -2.60 0M439.54 269.90a1.30 1.30 0 1 0 2.60 0a1.30 1.30 0 1 0 -2.60 0M439.95 276.60a1.30 1.30 0 1 0 2.60 0a1.30 1.30 0 1 0 -2.60 0M442.09 283.31a1.30 1.30 0 1 0 2.60 0a1.30 1.30 0 1 0 -2.60 0M444.68 292.49a1.30 1.30 0 1 0 2.60 0a1.30 1.30 0 1 0 -2.60 0M445.73 299.30a1.30 1.30 0 1 0 2.60 0a1.30 1.30 0 1 0 -2.60 0M447.71 306.59a1.30 1.30 0 1 0 2.60 0a1.30 1.30 0 1 0 -2.60 0M450.37 314.76a1.30 1.30 0 1 0 2.60 0a1.30 1.30 0 1 0 -2.60 0M452.30 321.55a1.30 1.30 0 1 0 2.60 0a1.30 1.30 0 1 0 -2.60 0M453.23 329.13a1.30 1.30 0 1 0 2.60 0a1.30 1.30 0 1 0 -2.60 0M453.87 332.10a1.30 1.30 0 1 0 2.60 0a1.30 1.30 0 1 0 -2.60 0M456.00 336.20a1.30 1.30 0 1 0 2.60 0a1.30 1.30 0 1 0 -2.60 0M458.13 341.13a1.30 1.30 0 1 0 2.60 0a1.30 1.30 0 1 0 -2.60 0M460.01 345.75a1.30 1.30 0 1 0 2.60 0a1.30 1.30 0 1 0 -2.60 0M462.23 352.01a1.30 1.30 0 1 0 2.60 0a1.30 1.30 0 1 0 -2.60 0M464.29 352.60a1.30 1.30 0 1 0 2.60 0a1.30 1.30 0 1 0 -2.60 0M465.96 357.05a1.30 1.30 0 1 0 2.60 0a1.30 1.30 0 1 0 -2.60 0M468.28 360.96a1.30 1.30 0 1 0 2.60 0a1.30 1.30 0 1 0 -2.60 0M469.97 359.02a1.30 1.30 0 1 0 2.60 0a1.30 1.30 0 1 0 -2.60 0M471.81 362.86a1.30 1.30 0 1 0 2.60 0a1.30 1.30 0 1 0 -2.60 0M473.78 363.29a1.30 1.30 0 1 0 2.60 0a1.30 1.30 0 1 0 -2.60 0M475.84 364.31a1.30 1.30 0 1 0 2.60 0a1.30 1.30 0 1 0 -2.60 0M478.02 364.12a1.30 1.30 0 1 0 2.60 0a1.30 1.30 0 1 0 -2.60 0M479.77 371.19a1.30 1.30 0 1 0 2.60 0a1.30 1.30 0 1 0 -2.60 0M481.88 367.82a1.30 1.30 0 1 0 2.60 0a1.30 1.30 0 1 0 -2.60 0M484.03 372.76a1.30 1.30 0 1 0 2.60 0a1.30 1.30 0 1 0 -2.60 0M485.76 374.15a1.30 1.30 0 1 0 2.60 0a1.30 1.30 0 1 0 -2.60 0M488.11 376.33a1.30 1.30 0 1 0 2.60 0a1.30 1.30 0 1 0 -2.60 0M490.22 373.41a1.30 1.30 0 1 0 2.60 0a1.30 1.30 0 1 0 -2.60 0M492.01 375.96a1.30 1.30 0 1 0 2.60 0a1.30 1.30 0 1 0 -2.60 0M493.97 371.32a1.30 1.30 0 1 0 2.60 0a1.30 1.30 0 1 0 -2.60 0M496.02 376.35a1.30 1.30 0 1 0 2.60 0a1.30 1.30 0 1 0 -2.60 0M498.26 377.57a1.30 1.30 0 1 0 2.60 0a1.30 1.30 0 1 0 -2.60 0M500.23 382.45a1.30 1.30 0 1 0 2.60 0a1.30 1.30 0 1 0 -2.60 0M502.19 377.90a1.30 1.30 0 1 0 2.60 0a1.30 1.30 0 1 0 -2.60 0M503.97 381.23a1.30 1.30 0 1 0 2.60 0a1.30 1.30 0 1 0 -2.60 0M506.22 379.65a1.30 1.30 0 1 0 2.60 0a1.30 1.30 0 1 0 -2.60 0M508.11 381.82a1.30 1.30 0 1 0 2.60 0a1.30 1.30 0 1 0 -2.60 0M510.33 381.82a1.30 1.30 0 1 0 2.60 0a1.30 1.30 0 1 0 -2.60 0M511.83 382.30a1.30 1.30 0 1 0 2.60 0a1.30 1.30 0 1 0 -2.60 0M514.31 377.90a1.30 1.30 0 1 0 2.60 0a1.30 1.30 0 1 0 -2.60 0M515.98 384.17a1.30 1.30 0 1 0 2.60 0a1.30 1.30 0 1 0 -2.60 0M518.10 380.00a1.30 1.30 0 1 0 2.60 0a1.30 1.30 0 1 0 -2.60 0M520.49 384.85a1.30 1.30 0 1 0 2.60 0a1.30 1.30 0 1 0 -2.60 0M522.11 385.83a1.30 1.30 0 1 0 2.60 0a1.30 1.30 0 1 0 -2.60 0M523.86 381.94a1.30 1.30 0 1 0 2.60 0a1.30 1.30 0 1 0 -2.60 0M526.46 378.54a1.30 1.30 0 1 0 2.60 0a1.30 1.30 0 1 0 -2.60 0M527.77 382.50a1.30 1.30 0 1 0 2.60 0a1.30 1.30 0 1 0 -2.60 0M529.90 382.81a1.30 1.30 0 1 0 2.60 0a1.30 1.30 0 1 0 -2.60 0M531.96 380.80a1.30 1.30 0 1 0 2.60 0a1.30 1.30 0 1 0 -2.60 0M534.44 382.82a1.30 1.30 0 1 0 2.60 0a1.30 1.30 0 1 0 -2.60 0M429.20 241.00a1.30 1.30 0 1 0 2.60 0a1.30 1.30 0 1 0 -2.60 0M431.70 242.20a1.30 1.30 0 1 0 2.60 0a1.30 1.30 0 1 0 -2.60 0" fill="none" stroke="#505050" stroke-width="0.65"/>
<rect x="312.00" y="229.10" width="226.10" height="181.25" fill="none" stroke="#262626" stroke-width="1.45"/>
<line x1="312.00" y1="410.35" x2="312.00" y2="413.95" stroke="#262626" stroke-width="1.20"/>
<text transform="translate(312.00 424.70) scale(1.000 1.170)" text-anchor="middle" style="font-family:'Liberation Serif',serif;font-weight:bold;font-size:10.75px;fill:#000;stroke:#000;stroke-width:0.22px">290</text>
<line x1="357.22" y1="410.35" x2="357.22" y2="413.95" stroke="#262626" stroke-width="1.20"/>
<text transform="translate(357.22 424.70) scale(1.000 1.170)" text-anchor="middle" style="font-family:'Liberation Serif',serif;font-weight:bold;font-size:10.75px;fill:#000;stroke:#000;stroke-width:0.22px">288</text>
<line x1="402.44" y1="410.35" x2="402.44" y2="413.95" stroke="#262626" stroke-width="1.20"/>
<text transform="translate(402.44 424.70) scale(1.000 1.170)" text-anchor="middle" style="font-family:'Liberation Serif',serif;font-weight:bold;font-size:10.75px;fill:#000;stroke:#000;stroke-width:0.22px">286</text>
<line x1="447.66" y1="410.35" x2="447.66" y2="413.95" stroke="#262626" stroke-width="1.20"/>
<text transform="translate(447.66 424.70) scale(1.000 1.170)" text-anchor="middle" style="font-family:'Liberation Serif',serif;font-weight:bold;font-size:10.75px;fill:#000;stroke:#000;stroke-width:0.22px">284</text>
<line x1="492.88" y1="410.35" x2="492.88" y2="413.95" stroke="#262626" stroke-width="1.20"/>
<text transform="translate(492.88 424.70) scale(1.000 1.170)" text-anchor="middle" style="font-family:'Liberation Serif',serif;font-weight:bold;font-size:10.75px;fill:#000;stroke:#000;stroke-width:0.22px">282</text>
<line x1="538.10" y1="410.35" x2="538.10" y2="413.95" stroke="#262626" stroke-width="1.20"/>
<text transform="translate(538.10 424.70) scale(1.000 1.170)" text-anchor="middle" style="font-family:'Liberation Serif',serif;font-weight:bold;font-size:10.75px;fill:#000;stroke:#000;stroke-width:0.22px">280</text>
<line x1="334.61" y1="410.35" x2="334.61" y2="412.35" stroke="#262626" stroke-width="1.00"/>
<line x1="379.83" y1="410.35" x2="379.83" y2="412.35" stroke="#262626" stroke-width="1.00"/>
<line x1="425.05" y1="410.35" x2="425.05" y2="412.35" stroke="#262626" stroke-width="1.00"/>
<line x1="470.27" y1="410.35" x2="470.27" y2="412.35" stroke="#262626" stroke-width="1.00"/>
<line x1="515.49" y1="410.35" x2="515.49" y2="412.35" stroke="#262626" stroke-width="1.00"/>
<text transform="translate(288.20 246.90) scale(1.000 1.080)" style="font-family:'Liberation Serif',serif;font-weight:bold;font-size:26.00px;fill:#000;stroke:#000;stroke-width:0.22px">d</text>
<text transform="translate(425.20 443.30) scale(1.000 1.080)" text-anchor="middle" style="font-family:'Liberation Serif',serif;font-weight:bold;font-size:11.95px;fill:#000;stroke:#000;stroke-width:0.22px">Binding energy (eV)</text>
<text transform="translate(303.20 319.40) rotate(-90) scale(1.083 1.000)" text-anchor="middle" style="font-family:'Liberation Serif',serif;font-weight:bold;font-size:11.00px;fill:#000;stroke:#000;stroke-width:0.22px">Intensity (a.u.)</text>
<text transform="translate(316.30 243.20)" style="font-family:'Liberation Serif',serif;font-weight:bold;font-size:9.00px;fill:#000;stroke:#000;stroke-width:0.22px">C 1s</text>
<text transform="translate(450.90 255.70)" style="font-family:'Liberation Serif',serif;font-weight:bold;font-size:9.40px;fill:#000;stroke:#000;stroke-width:0.22px">C-C</text>
<text transform="translate(443.80 267.00)" style="font-family:'Liberation Serif',serif;font-weight:bold;font-size:9.40px;fill:#000;stroke:#000;stroke-width:0.22px">284.8 eV</text>
</svg>
</body></html>
